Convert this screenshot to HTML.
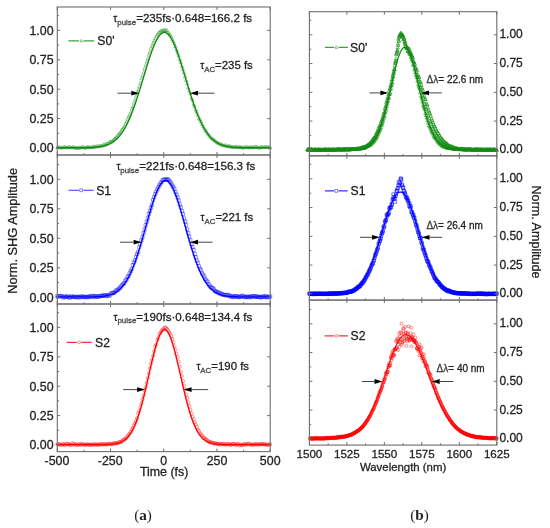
<!DOCTYPE html>
<html><head><meta charset="utf-8"><title>figure</title>
<style>html,body{margin:0;padding:0;background:#fff;width:550px;height:528px;overflow:hidden}svg{display:block;filter:blur(0.3px)}</style>
</head><body>
<svg width="550" height="528" viewBox="0 0 550 528"><rect width="550" height="528" fill="#fff"/><path d="M57.3 145.63l1.6 2.88h-3.2zM58.36 145.5l1.6 2.88h-3.2zM59.43 145.74l1.6 2.88h-3.2zM60.49 145.99l1.6 2.88h-3.2zM61.56 145.81l1.6 2.88h-3.2zM62.62 146.03l1.6 2.88h-3.2zM63.69 145.6l1.6 2.88h-3.2zM64.75 145.07l1.6 2.88h-3.2zM65.82 145.83l1.6 2.88h-3.2zM66.88 145.88l1.6 2.88h-3.2zM67.94 145.42l1.6 2.88h-3.2zM69.01 145.47l1.6 2.88h-3.2zM70.07 145.58l1.6 2.88h-3.2zM71.14 146l1.6 2.88h-3.2zM72.2 145.63l1.6 2.88h-3.2zM73.27 145.33l1.6 2.88h-3.2zM74.33 146.16l1.6 2.88h-3.2zM75.4 145.79l1.6 2.88h-3.2zM76.46 146.38l1.6 2.88h-3.2zM77.53 146.12l1.6 2.88h-3.2zM78.59 146.34l1.6 2.88h-3.2zM79.65 145.67l1.6 2.88h-3.2zM80.72 146.09l1.6 2.88h-3.2zM81.78 145.44l1.6 2.88h-3.2zM82.85 145.47l1.6 2.88h-3.2zM83.91 145.6l1.6 2.88h-3.2zM84.98 146.53l1.6 2.88h-3.2zM86.04 145.69l1.6 2.88h-3.2zM87.11 145.46l1.6 2.88h-3.2zM88.17 145.36l1.6 2.88h-3.2zM89.23 145.99l1.6 2.88h-3.2zM90.3 145.51l1.6 2.88h-3.2zM91.36 145.66l1.6 2.88h-3.2zM92.43 145.52l1.6 2.88h-3.2zM93.49 144.67l1.6 2.88h-3.2zM94.56 145.34l1.6 2.88h-3.2zM95.62 144.92l1.6 2.88h-3.2zM96.69 144.42l1.6 2.88h-3.2zM97.75 144.88l1.6 2.88h-3.2zM98.82 144.52l1.6 2.88h-3.2zM99.88 144.24l1.6 2.88h-3.2zM100.94 144.05l1.6 2.88h-3.2zM102.01 144.33l1.6 2.88h-3.2zM103.07 143.52l1.6 2.88h-3.2zM104.14 142.68l1.6 2.88h-3.2zM105.2 143.52l1.6 2.88h-3.2zM106.27 142.13l1.6 2.88h-3.2zM107.33 141.99l1.6 2.88h-3.2zM108.4 141.8l1.6 2.88h-3.2zM109.46 140.15l1.6 2.88h-3.2zM110.52 140.04l1.6 2.88h-3.2zM111.59 140.15l1.6 2.88h-3.2zM112.65 138.86l1.6 2.88h-3.2zM113.72 137.81l1.6 2.88h-3.2zM114.78 137.2l1.6 2.88h-3.2zM115.85 135.82l1.6 2.88h-3.2zM116.91 135.01l1.6 2.88h-3.2zM117.98 133.49l1.6 2.88h-3.2zM119.04 131.85l1.6 2.88h-3.2zM120.11 131.28l1.6 2.88h-3.2zM121.17 129.37l1.6 2.88h-3.2zM122.23 127.98l1.6 2.88h-3.2zM123.3 125.94l1.6 2.88h-3.2zM124.36 124.56l1.6 2.88h-3.2zM125.43 122.26l1.6 2.88h-3.2zM126.49 119.92l1.6 2.88h-3.2zM127.56 117.16l1.6 2.88h-3.2zM128.62 114.62l1.6 2.88h-3.2zM129.69 113.06l1.6 2.88h-3.2zM130.75 110.15l1.6 2.88h-3.2zM131.81 106.74l1.6 2.88h-3.2zM132.88 104.88l1.6 2.88h-3.2zM133.94 101.2l1.6 2.88h-3.2zM135.01 97.9l1.6 2.88h-3.2zM136.07 94.09l1.6 2.88h-3.2zM137.14 90.99l1.6 2.88h-3.2zM138.2 88l1.6 2.88h-3.2zM139.27 84.54l1.6 2.88h-3.2zM140.33 80.98l1.6 2.88h-3.2zM141.4 76.7l1.6 2.88h-3.2zM142.46 73.94l1.6 2.88h-3.2zM143.52 70.33l1.6 2.88h-3.2zM144.59 66.52l1.6 2.88h-3.2zM145.65 63.21l1.6 2.88h-3.2zM146.72 59.81l1.6 2.88h-3.2zM147.78 56.82l1.6 2.88h-3.2zM148.85 53.11l1.6 2.88h-3.2zM149.91 50.15l1.6 2.88h-3.2zM150.98 46.49l1.6 2.88h-3.2zM152.04 43.86l1.6 2.88h-3.2zM153.1 41.48l1.6 2.88h-3.2zM154.17 38.73l1.6 2.88h-3.2zM155.23 36.9l1.6 2.88h-3.2zM156.3 34.3l1.6 2.88h-3.2zM157.36 32.96l1.6 2.88h-3.2zM158.43 31.2l1.6 2.88h-3.2zM159.49 30.72l1.6 2.88h-3.2zM160.56 29.08l1.6 2.88h-3.2zM161.62 29.23l1.6 2.88h-3.2zM162.69 28.97l1.6 2.88h-3.2zM163.75 28.15l1.6 2.88h-3.2zM164.81 28.59l1.6 2.88h-3.2zM165.88 28.63l1.6 2.88h-3.2zM166.94 28.54l1.6 2.88h-3.2zM168.01 30.86l1.6 2.88h-3.2zM169.07 32.1l1.6 2.88h-3.2zM170.14 33.35l1.6 2.88h-3.2zM171.2 35.08l1.6 2.88h-3.2zM172.27 37.44l1.6 2.88h-3.2zM173.33 39.76l1.6 2.88h-3.2zM174.39 41.91l1.6 2.88h-3.2zM175.46 44.7l1.6 2.88h-3.2zM176.52 48.22l1.6 2.88h-3.2zM177.59 50.87l1.6 2.88h-3.2zM178.65 54l1.6 2.88h-3.2zM179.72 57.74l1.6 2.88h-3.2zM180.78 60.58l1.6 2.88h-3.2zM181.85 64.5l1.6 2.88h-3.2zM182.91 67.26l1.6 2.88h-3.2zM183.98 71.13l1.6 2.88h-3.2zM185.04 74.73l1.6 2.88h-3.2zM186.1 78.57l1.6 2.88h-3.2zM187.17 81.92l1.6 2.88h-3.2zM188.23 86.2l1.6 2.88h-3.2zM189.3 89.29l1.6 2.88h-3.2zM190.36 92.07l1.6 2.88h-3.2zM191.43 96.41l1.6 2.88h-3.2zM192.49 98.41l1.6 2.88h-3.2zM193.56 102.6l1.6 2.88h-3.2zM194.62 104.59l1.6 2.88h-3.2zM195.69 108.16l1.6 2.88h-3.2zM196.75 110.27l1.6 2.88h-3.2zM197.81 113.2l1.6 2.88h-3.2zM198.88 116.42l1.6 2.88h-3.2zM199.94 117.68l1.6 2.88h-3.2zM201.01 119.88l1.6 2.88h-3.2zM202.07 122.64l1.6 2.88h-3.2zM203.14 124.74l1.6 2.88h-3.2zM204.2 126.58l1.6 2.88h-3.2zM205.27 128.67l1.6 2.88h-3.2zM206.33 129.45l1.6 2.88h-3.2zM207.39 131.65l1.6 2.88h-3.2zM208.46 132.85l1.6 2.88h-3.2zM209.52 134.44l1.6 2.88h-3.2zM210.59 135.56l1.6 2.88h-3.2zM211.65 136.92l1.6 2.88h-3.2zM212.72 136.87l1.6 2.88h-3.2zM213.78 138.36l1.6 2.88h-3.2zM214.85 138.72l1.6 2.88h-3.2zM215.91 139.86l1.6 2.88h-3.2zM216.97 140.82l1.6 2.88h-3.2zM218.04 141.27l1.6 2.88h-3.2zM219.1 141.91l1.6 2.88h-3.2zM220.17 142.17l1.6 2.88h-3.2zM221.23 142.76l1.6 2.88h-3.2zM222.3 143.11l1.6 2.88h-3.2zM223.36 143.9l1.6 2.88h-3.2zM224.43 143.97l1.6 2.88h-3.2zM225.49 143.22l1.6 2.88h-3.2zM226.56 144.41l1.6 2.88h-3.2zM227.62 144.78l1.6 2.88h-3.2zM228.68 144.38l1.6 2.88h-3.2zM229.75 144.1l1.6 2.88h-3.2zM230.81 145.42l1.6 2.88h-3.2zM231.88 145.02l1.6 2.88h-3.2zM232.94 145.3l1.6 2.88h-3.2zM234.01 145.85l1.6 2.88h-3.2zM235.07 144.9l1.6 2.88h-3.2zM236.14 145.28l1.6 2.88h-3.2zM237.2 145.3l1.6 2.88h-3.2zM238.26 145.68l1.6 2.88h-3.2zM239.33 145.23l1.6 2.88h-3.2zM240.39 145.67l1.6 2.88h-3.2zM241.46 145.54l1.6 2.88h-3.2zM242.52 145.96l1.6 2.88h-3.2zM243.59 146.03l1.6 2.88h-3.2zM244.65 144.99l1.6 2.88h-3.2zM245.72 145.77l1.6 2.88h-3.2zM246.78 145.45l1.6 2.88h-3.2zM247.85 145.59l1.6 2.88h-3.2zM248.91 145.77l1.6 2.88h-3.2zM249.97 145.8l1.6 2.88h-3.2zM251.04 145.34l1.6 2.88h-3.2zM252.1 145.73l1.6 2.88h-3.2zM253.17 145.67l1.6 2.88h-3.2zM254.23 145.6l1.6 2.88h-3.2zM255.3 145.13l1.6 2.88h-3.2zM256.36 145.34l1.6 2.88h-3.2zM257.43 145.46l1.6 2.88h-3.2zM258.49 145.85l1.6 2.88h-3.2zM259.55 146.19l1.6 2.88h-3.2zM260.62 145.23l1.6 2.88h-3.2zM261.68 145.23l1.6 2.88h-3.2zM262.75 145.68l1.6 2.88h-3.2zM263.81 145.4l1.6 2.88h-3.2zM264.88 145.3l1.6 2.88h-3.2zM265.94 145.28l1.6 2.88h-3.2zM267.01 145.25l1.6 2.88h-3.2zM268.07 145.81l1.6 2.88h-3.2zM269.14 145l1.6 2.88h-3.2zM270.2 146.14l1.6 2.88h-3.2z" fill="none" stroke="#1a8f1a" stroke-width="0.6" opacity="0.7"/><path d="M56.3 147.65 56.66 147.65 57.02 147.65 57.38 147.65 57.74 147.65 58.09 147.65 58.45 147.65 58.81 147.65 59.17 147.65 59.53 147.65 59.89 147.65 60.25 147.65 60.61 147.65 60.96 147.65 61.32 147.65 61.68 147.65 62.04 147.65 62.4 147.65 62.76 147.65 63.12 147.65 63.48 147.65 63.83 147.65 64.19 147.65 64.55 147.65 64.91 147.65 65.27 147.65 65.63 147.65 65.99 147.65 66.35 147.65 66.7 147.64 67.06 147.64 67.42 147.64 67.78 147.64 68.14 147.64 68.5 147.64 68.86 147.64 69.22 147.64 69.57 147.64 69.93 147.64 70.29 147.64 70.65 147.64 71.01 147.64 71.37 147.64 71.73 147.64 72.09 147.64 72.44 147.64 72.8 147.64 73.16 147.64 73.52 147.64 73.88 147.64 74.24 147.64 74.6 147.63 74.96 147.63 75.31 147.63 75.67 147.63 76.03 147.63 76.39 147.63 76.75 147.63 77.11 147.63 77.47 147.63 77.83 147.62 78.18 147.62 78.54 147.62 78.9 147.62 79.26 147.62 79.62 147.61 79.98 147.61 80.34 147.61 80.7 147.61 81.05 147.6 81.41 147.6 81.77 147.6 82.13 147.59 82.49 147.59 82.85 147.59 83.21 147.58 83.57 147.58 83.92 147.57 84.28 147.57 84.64 147.56 85 147.56 85.36 147.55 85.72 147.54 86.08 147.54 86.44 147.53 86.79 147.52 87.15 147.51 87.51 147.51 87.87 147.5 88.23 147.49 88.59 147.48 88.95 147.47 89.31 147.45 89.67 147.44 90.02 147.43 90.38 147.42 90.74 147.4 91.1 147.39 91.46 147.37 91.82 147.35 92.18 147.34 92.54 147.32 92.89 147.3 93.25 147.28 93.61 147.25 93.97 147.23 94.33 147.21 94.69 147.18 95.05 147.15 95.41 147.13 95.76 147.1 96.12 147.06 96.48 147.03 96.84 147 97.2 146.96 97.56 146.92 97.92 146.88 98.28 146.84 98.63 146.79 98.99 146.75 99.35 146.7 99.71 146.64 100.07 146.59 100.43 146.53 100.79 146.47 101.15 146.41 101.5 146.35 101.86 146.28 102.22 146.21 102.58 146.13 102.94 146.06 103.3 145.97 103.66 145.89 104.02 145.8 104.37 145.71 104.73 145.61 105.09 145.51 105.45 145.41 105.81 145.3 106.17 145.18 106.53 145.06 106.89 144.94 107.24 144.81 107.6 144.67 107.96 144.53 108.32 144.39 108.68 144.24 109.04 144.08 109.4 143.91 109.76 143.74 110.11 143.57 110.47 143.38 110.83 143.19 111.19 143 111.55 142.79 111.91 142.58 112.27 142.36 112.63 142.13 112.98 141.89 113.34 141.65 113.7 141.39 114.06 141.13 114.42 140.86 114.78 140.58 115.14 140.29 115.5 139.99 115.85 139.68 116.21 139.36 116.57 139.03 116.93 138.69 117.29 138.34 117.65 137.98 118.01 137.6 118.37 137.22 118.73 136.82 119.08 136.41 119.44 135.99 119.8 135.56 120.16 135.12 120.52 134.66 120.88 134.19 121.24 133.71 121.6 133.21 121.95 132.7 122.31 132.18 122.67 131.64 123.03 131.09 123.39 130.53 123.75 129.95 124.11 129.36 124.47 128.75 124.82 128.13 125.18 127.49 125.54 126.84 125.9 126.18 126.26 125.5 126.62 124.8 126.98 124.1 127.34 123.37 127.69 122.63 128.05 121.88 128.41 121.11 128.77 120.32 129.13 119.52 129.49 118.71 129.85 117.88 130.21 117.04 130.56 116.18 130.92 115.3 131.28 114.41 131.64 113.51 132 112.6 132.36 111.66 132.72 110.72 133.08 109.76 133.43 108.79 133.79 107.8 134.15 106.8 134.51 105.79 134.87 104.77 135.23 103.73 135.59 102.68 135.95 101.63 136.3 100.55 136.66 99.47 137.02 98.38 137.38 97.28 137.74 96.17 138.1 95.05 138.46 93.92 138.82 92.78 139.17 91.63 139.53 90.48 139.89 89.32 140.25 88.15 140.61 86.98 140.97 85.8 141.33 84.62 141.69 83.44 142.04 82.25 142.4 81.06 142.76 79.87 143.12 78.67 143.48 77.48 143.84 76.29 144.2 75.09 144.56 73.9 144.91 72.71 145.27 71.53 145.63 70.34 145.99 69.17 146.35 67.99 146.71 66.83 147.07 65.67 147.43 64.52 147.78 63.37 148.14 62.24 148.5 61.11 148.86 60 149.22 58.9 149.58 57.81 149.94 56.73 150.3 55.67 150.66 54.62 151.01 53.59 151.37 52.57 151.73 51.57 152.09 50.59 152.45 49.63 152.81 48.69 153.17 47.76 153.53 46.86 153.88 45.98 154.24 45.12 154.6 44.29 154.96 43.47 155.32 42.69 155.68 41.92 156.04 41.19 156.4 40.47 156.75 39.79 157.11 39.13 157.47 38.5 157.83 37.9 158.19 37.33 158.55 36.79 158.91 36.28 159.27 35.79 159.62 35.34 159.98 34.92 160.34 34.53 160.7 34.17 161.06 33.85 161.42 33.56 161.78 33.29 162.14 33.07 162.49 32.87 162.85 32.71 163.21 32.58 163.57 32.49 163.93 32.43 164.29 32.4 164.65 32.41 165.01 32.45 165.36 32.52 165.72 32.63 166.08 32.77 166.44 32.94 166.8 33.15 167.16 33.39 167.52 33.66 167.88 33.97 168.23 34.3 168.59 34.67 168.95 35.08 169.31 35.51 169.67 35.97 170.03 36.47 170.39 36.99 170.75 37.54 171.1 38.13 171.46 38.74 171.82 39.38 172.18 40.04 172.54 40.74 172.9 41.46 173.26 42.21 173.62 42.98 173.97 43.78 174.33 44.6 174.69 45.44 175.05 46.31 175.41 47.2 175.77 48.11 176.13 49.04 176.49 49.99 176.84 50.96 177.2 51.95 177.56 52.95 177.92 53.97 178.28 55.01 178.64 56.07 179 57.13 179.36 58.22 179.72 59.31 180.07 60.42 180.43 61.53 180.79 62.66 181.15 63.8 181.51 64.95 181.87 66.1 182.23 67.27 182.59 68.43 182.94 69.61 183.3 70.79 183.66 71.97 184.02 73.16 184.38 74.35 184.74 75.54 185.1 76.74 185.46 77.93 185.81 79.12 186.17 80.32 186.53 81.51 186.89 82.7 187.25 83.89 187.61 85.07 187.97 86.25 188.33 87.42 188.68 88.59 189.04 89.76 189.4 90.91 189.76 92.06 190.12 93.21 190.48 94.34 190.84 95.47 191.2 96.59 191.55 97.69 191.91 98.79 192.27 99.88 192.63 100.96 192.99 102.03 193.35 103.08 193.71 104.12 194.07 105.16 194.42 106.18 194.78 107.18 195.14 108.18 195.5 109.16 195.86 110.12 196.22 111.08 196.58 112.02 196.94 112.94 197.29 113.85 197.65 114.75 198.01 115.63 198.37 116.5 198.73 117.35 199.09 118.19 199.45 119.02 199.81 119.83 200.16 120.62 200.52 121.4 200.88 122.16 201.24 122.91 201.6 123.65 201.96 124.36 202.32 125.07 202.68 125.76 203.03 126.43 203.39 127.09 203.75 127.74 204.11 128.37 204.47 128.98 204.83 129.58 205.19 130.17 205.55 130.74 205.9 131.3 206.26 131.85 206.62 132.38 206.98 132.9 207.34 133.4 207.7 133.89 208.06 134.37 208.42 134.83 208.77 135.29 209.13 135.73 209.49 136.15 209.85 136.57 210.21 136.97 210.57 137.37 210.93 137.75 211.29 138.12 211.65 138.47 212 138.82 212.36 139.16 212.72 139.48 213.08 139.8 213.44 140.1 213.8 140.4 214.16 140.69 214.52 140.96 214.87 141.23 215.23 141.49 215.59 141.74 215.95 141.98 216.31 142.22 216.67 142.44 217.03 142.66 217.39 142.87 217.74 143.07 218.1 143.27 218.46 143.45 218.82 143.64 219.18 143.81 219.54 143.98 219.9 144.14 220.26 144.29 220.61 144.44 220.97 144.59 221.33 144.73 221.69 144.86 222.05 144.99 222.41 145.11 222.77 145.23 223.13 145.34 223.48 145.45 223.84 145.55 224.2 145.65 224.56 145.74 224.92 145.84 225.28 145.92 225.64 146.01 226 146.09 226.35 146.16 226.71 146.24 227.07 146.31 227.43 146.37 227.79 146.44 228.15 146.5 228.51 146.56 228.87 146.61 229.22 146.66 229.58 146.72 229.94 146.76 230.3 146.81 230.66 146.85 231.02 146.89 231.38 146.93 231.74 146.97 232.09 147.01 232.45 147.04 232.81 147.08 233.17 147.11 233.53 147.14 233.89 147.16 234.25 147.19 234.61 147.22 234.96 147.24 235.32 147.26 235.68 147.28 236.04 147.3 236.4 147.32 236.76 147.34 237.12 147.36 237.48 147.38 237.83 147.39 238.19 147.41 238.55 147.42 238.91 147.43 239.27 147.45 239.63 147.46 239.99 147.47 240.35 147.48 240.71 147.49 241.06 147.5 241.42 147.51 241.78 147.52 242.14 147.53 242.5 147.53 242.86 147.54 243.22 147.55 243.58 147.55 243.93 147.56 244.29 147.56 244.65 147.57 245.01 147.57 245.37 147.58 245.73 147.58 246.09 147.59 246.45 147.59 246.8 147.59 247.16 147.6 247.52 147.6 247.88 147.6 248.24 147.61 248.6 147.61 248.96 147.61 249.32 147.61 249.67 147.62 250.03 147.62 250.39 147.62 250.75 147.62 251.11 147.62 251.47 147.63 251.83 147.63 252.19 147.63 252.54 147.63 252.9 147.63 253.26 147.63 253.62 147.63 253.98 147.63 254.34 147.64 254.7 147.64 255.06 147.64 255.41 147.64 255.77 147.64 256.13 147.64 256.49 147.64 256.85 147.64 257.21 147.64 257.57 147.64 257.93 147.64 258.28 147.64 258.64 147.64 259 147.64 259.36 147.64 259.72 147.64 260.08 147.64 260.44 147.64 260.8 147.64 261.15 147.64 261.51 147.64 261.87 147.64 262.23 147.64 262.59 147.65 262.95 147.65 263.31 147.65 263.67 147.65 264.02 147.65 264.38 147.65 264.74 147.65 265.1 147.65 265.46 147.65 265.82 147.65 266.18 147.65 266.54 147.65 266.89 147.65 267.25 147.65 267.61 147.65 267.97 147.65 268.33 147.65 268.69 147.65 269.05 147.65 269.41 147.65 269.76 147.65 270.12 147.65 270.48 147.65 270.84 147.65 271.2 147.65" fill="none" stroke="#0b8a0b" stroke-width="1.3"/><path d="M55.7 294.75h3.2v3.2h-3.2zM56.76 294.91h3.2v3.2h-3.2zM57.83 294.75h3.2v3.2h-3.2zM58.89 294.33h3.2v3.2h-3.2zM59.96 294.5h3.2v3.2h-3.2zM61.02 295.58h3.2v3.2h-3.2zM62.09 295.81h3.2v3.2h-3.2zM63.15 294.77h3.2v3.2h-3.2zM64.22 295.53h3.2v3.2h-3.2zM65.28 295.11h3.2v3.2h-3.2zM66.34 294.76h3.2v3.2h-3.2zM67.41 295.79h3.2v3.2h-3.2zM68.47 295.98h3.2v3.2h-3.2zM69.54 295h3.2v3.2h-3.2zM70.6 295.09h3.2v3.2h-3.2zM71.67 295.21h3.2v3.2h-3.2zM72.73 295.09h3.2v3.2h-3.2zM73.8 295.46h3.2v3.2h-3.2zM74.86 295.73h3.2v3.2h-3.2zM75.93 295.17h3.2v3.2h-3.2zM76.99 295.5h3.2v3.2h-3.2zM78.05 295.78h3.2v3.2h-3.2zM79.12 294.88h3.2v3.2h-3.2zM80.18 295.12h3.2v3.2h-3.2zM81.25 294.92h3.2v3.2h-3.2zM82.31 295.49h3.2v3.2h-3.2zM83.38 295.34h3.2v3.2h-3.2zM84.44 295.48h3.2v3.2h-3.2zM85.51 295.42h3.2v3.2h-3.2zM86.57 294.96h3.2v3.2h-3.2zM87.63 295.35h3.2v3.2h-3.2zM88.7 294.86h3.2v3.2h-3.2zM89.76 294.84h3.2v3.2h-3.2zM90.83 294.12h3.2v3.2h-3.2zM91.89 295.49h3.2v3.2h-3.2zM92.96 294.51h3.2v3.2h-3.2zM94.02 294.87h3.2v3.2h-3.2zM95.09 294.78h3.2v3.2h-3.2zM96.15 295.31h3.2v3.2h-3.2zM97.22 294.83h3.2v3.2h-3.2zM98.28 294.24h3.2v3.2h-3.2zM99.34 294.48h3.2v3.2h-3.2zM100.41 294.29h3.2v3.2h-3.2zM101.47 294.3h3.2v3.2h-3.2zM102.54 293.54h3.2v3.2h-3.2zM103.6 293.83h3.2v3.2h-3.2zM104.67 294.51h3.2v3.2h-3.2zM105.73 293.64h3.2v3.2h-3.2zM106.8 293.88h3.2v3.2h-3.2zM107.86 294.08h3.2v3.2h-3.2zM108.92 292.59h3.2v3.2h-3.2zM109.99 291.4h3.2v3.2h-3.2zM111.05 291.45h3.2v3.2h-3.2zM112.12 291.42h3.2v3.2h-3.2zM113.18 290.72h3.2v3.2h-3.2zM114.25 289.19h3.2v3.2h-3.2zM115.31 288.84h3.2v3.2h-3.2zM116.38 288.05h3.2v3.2h-3.2zM117.44 287.17h3.2v3.2h-3.2zM118.51 286.11h3.2v3.2h-3.2zM119.57 284.66h3.2v3.2h-3.2zM120.63 283.53h3.2v3.2h-3.2zM121.7 282.32h3.2v3.2h-3.2zM122.76 281.36h3.2v3.2h-3.2zM123.83 279.12h3.2v3.2h-3.2zM124.89 277.88h3.2v3.2h-3.2zM125.96 275.28h3.2v3.2h-3.2zM127.02 274.25h3.2v3.2h-3.2zM128.09 271.63h3.2v3.2h-3.2zM129.15 269.28h3.2v3.2h-3.2zM130.22 267.38h3.2v3.2h-3.2zM131.28 263.53h3.2v3.2h-3.2zM132.34 260.91h3.2v3.2h-3.2zM133.41 258.84h3.2v3.2h-3.2zM134.47 255.32h3.2v3.2h-3.2zM135.54 252.35h3.2v3.2h-3.2zM136.6 250.33h3.2v3.2h-3.2zM137.67 245.78h3.2v3.2h-3.2zM138.73 242.44h3.2v3.2h-3.2zM139.8 238.82h3.2v3.2h-3.2zM140.86 235.67h3.2v3.2h-3.2zM141.92 231.65h3.2v3.2h-3.2zM142.99 227.88h3.2v3.2h-3.2zM144.05 223.57h3.2v3.2h-3.2zM145.12 220.17h3.2v3.2h-3.2zM146.18 216.58h3.2v3.2h-3.2zM147.25 212.26h3.2v3.2h-3.2zM148.31 209.5h3.2v3.2h-3.2zM149.38 205.9h3.2v3.2h-3.2zM150.44 203.07h3.2v3.2h-3.2zM151.5 198.39h3.2v3.2h-3.2zM152.57 195.52h3.2v3.2h-3.2zM153.63 192.6h3.2v3.2h-3.2zM154.7 189.97h3.2v3.2h-3.2zM155.76 187.69h3.2v3.2h-3.2zM156.83 185.38h3.2v3.2h-3.2zM157.89 183.57h3.2v3.2h-3.2zM158.96 181.82h3.2v3.2h-3.2zM160.02 180.28h3.2v3.2h-3.2zM161.09 178.55h3.2v3.2h-3.2zM162.15 178.13h3.2v3.2h-3.2zM163.21 177.89h3.2v3.2h-3.2zM164.28 177.94h3.2v3.2h-3.2zM165.34 178.12h3.2v3.2h-3.2zM166.41 177.68h3.2v3.2h-3.2zM167.47 178.93h3.2v3.2h-3.2zM168.54 180.23h3.2v3.2h-3.2zM169.6 181.82h3.2v3.2h-3.2zM170.67 183.85h3.2v3.2h-3.2zM171.73 185.41h3.2v3.2h-3.2zM172.79 187.28h3.2v3.2h-3.2zM173.86 190.3h3.2v3.2h-3.2zM174.92 192.96h3.2v3.2h-3.2zM175.99 195.89h3.2v3.2h-3.2zM177.05 198.87h3.2v3.2h-3.2zM178.12 202.85h3.2v3.2h-3.2zM179.18 205.7h3.2v3.2h-3.2zM180.25 209.49h3.2v3.2h-3.2zM181.31 212.39h3.2v3.2h-3.2zM182.38 216.75h3.2v3.2h-3.2zM183.44 219.93h3.2v3.2h-3.2zM184.5 223.28h3.2v3.2h-3.2zM185.57 227.79h3.2v3.2h-3.2zM186.63 231.64h3.2v3.2h-3.2zM187.7 235h3.2v3.2h-3.2zM188.76 238.72h3.2v3.2h-3.2zM189.83 242.68h3.2v3.2h-3.2zM190.89 245.56h3.2v3.2h-3.2zM191.96 248.29h3.2v3.2h-3.2zM193.02 252.49h3.2v3.2h-3.2zM194.09 255.6h3.2v3.2h-3.2zM195.15 258.96h3.2v3.2h-3.2zM196.21 261.27h3.2v3.2h-3.2zM197.28 264.66h3.2v3.2h-3.2zM198.34 267.19h3.2v3.2h-3.2zM199.41 268.65h3.2v3.2h-3.2zM200.47 271.86h3.2v3.2h-3.2zM201.54 273.19h3.2v3.2h-3.2zM202.6 275.03h3.2v3.2h-3.2zM203.67 277.42h3.2v3.2h-3.2zM204.73 279.04h3.2v3.2h-3.2zM205.79 280.07h3.2v3.2h-3.2zM206.86 282.43h3.2v3.2h-3.2zM207.92 283.95h3.2v3.2h-3.2zM208.99 285.51h3.2v3.2h-3.2zM210.05 286.06h3.2v3.2h-3.2zM211.12 286.5h3.2v3.2h-3.2zM212.18 287.64h3.2v3.2h-3.2zM213.25 289.26h3.2v3.2h-3.2zM214.31 289.98h3.2v3.2h-3.2zM215.37 290.52h3.2v3.2h-3.2zM216.44 290.79h3.2v3.2h-3.2zM217.5 291.54h3.2v3.2h-3.2zM218.57 291.84h3.2v3.2h-3.2zM219.63 292.23h3.2v3.2h-3.2zM220.7 292.85h3.2v3.2h-3.2zM221.76 293.07h3.2v3.2h-3.2zM222.83 293.26h3.2v3.2h-3.2zM223.89 293.63h3.2v3.2h-3.2zM224.96 293.61h3.2v3.2h-3.2zM226.02 293.23h3.2v3.2h-3.2zM227.08 293.93h3.2v3.2h-3.2zM228.15 294.29h3.2v3.2h-3.2zM229.21 295.13h3.2v3.2h-3.2zM230.28 294.38h3.2v3.2h-3.2zM231.34 295.44h3.2v3.2h-3.2zM232.41 295.29h3.2v3.2h-3.2zM233.47 294.42h3.2v3.2h-3.2zM234.54 294.54h3.2v3.2h-3.2zM235.6 294.94h3.2v3.2h-3.2zM236.66 295.62h3.2v3.2h-3.2zM237.73 295.1h3.2v3.2h-3.2zM238.79 295.26h3.2v3.2h-3.2zM239.86 294.74h3.2v3.2h-3.2zM240.92 294.09h3.2v3.2h-3.2zM241.99 294.95h3.2v3.2h-3.2zM243.05 295.37h3.2v3.2h-3.2zM244.12 295.55h3.2v3.2h-3.2zM245.18 295.09h3.2v3.2h-3.2zM246.25 295.15h3.2v3.2h-3.2zM247.31 295.56h3.2v3.2h-3.2zM248.37 295.04h3.2v3.2h-3.2zM249.44 295.57h3.2v3.2h-3.2zM250.5 294.64h3.2v3.2h-3.2zM251.57 294.66h3.2v3.2h-3.2zM252.63 294.65h3.2v3.2h-3.2zM253.7 295.3h3.2v3.2h-3.2zM254.76 294.89h3.2v3.2h-3.2zM255.83 295.16h3.2v3.2h-3.2zM256.89 295.27h3.2v3.2h-3.2zM257.95 295.25h3.2v3.2h-3.2zM259.02 295.64h3.2v3.2h-3.2zM260.08 295.7h3.2v3.2h-3.2zM261.15 294.78h3.2v3.2h-3.2zM262.21 295.19h3.2v3.2h-3.2zM263.28 295.02h3.2v3.2h-3.2zM264.34 294.7h3.2v3.2h-3.2zM265.41 295.83h3.2v3.2h-3.2zM266.47 295.43h3.2v3.2h-3.2zM267.54 295.04h3.2v3.2h-3.2zM268.6 294.95h3.2v3.2h-3.2z" fill="none" stroke="#0000ff" stroke-width="0.6" opacity="0.7"/><path d="M56.3 296.95 56.66 296.95 57.02 296.95 57.38 296.95 57.74 296.95 58.09 296.95 58.45 296.95 58.81 296.95 59.17 296.95 59.53 296.95 59.89 296.95 60.25 296.95 60.61 296.95 60.96 296.95 61.32 296.95 61.68 296.95 62.04 296.95 62.4 296.95 62.76 296.95 63.12 296.95 63.48 296.95 63.83 296.95 64.19 296.95 64.55 296.95 64.91 296.95 65.27 296.95 65.63 296.95 65.99 296.95 66.35 296.95 66.7 296.95 67.06 296.95 67.42 296.95 67.78 296.95 68.14 296.95 68.5 296.95 68.86 296.95 69.22 296.95 69.57 296.95 69.93 296.95 70.29 296.95 70.65 296.94 71.01 296.94 71.37 296.94 71.73 296.94 72.09 296.94 72.44 296.94 72.8 296.94 73.16 296.94 73.52 296.94 73.88 296.94 74.24 296.94 74.6 296.94 74.96 296.94 75.31 296.94 75.67 296.94 76.03 296.94 76.39 296.94 76.75 296.94 77.11 296.94 77.47 296.94 77.83 296.94 78.18 296.94 78.54 296.94 78.9 296.94 79.26 296.94 79.62 296.94 79.98 296.94 80.34 296.94 80.7 296.94 81.05 296.93 81.41 296.93 81.77 296.93 82.13 296.93 82.49 296.93 82.85 296.93 83.21 296.93 83.57 296.93 83.92 296.92 84.28 296.92 84.64 296.92 85 296.92 85.36 296.92 85.72 296.91 86.08 296.91 86.44 296.91 86.79 296.91 87.15 296.9 87.51 296.9 87.87 296.9 88.23 296.89 88.59 296.89 88.95 296.89 89.31 296.88 89.67 296.88 90.02 296.87 90.38 296.87 90.74 296.86 91.1 296.85 91.46 296.85 91.82 296.84 92.18 296.83 92.54 296.83 92.89 296.82 93.25 296.81 93.61 296.8 93.97 296.79 94.33 296.78 94.69 296.77 95.05 296.76 95.41 296.74 95.76 296.73 96.12 296.71 96.48 296.7 96.84 296.68 97.2 296.67 97.56 296.65 97.92 296.63 98.28 296.61 98.63 296.59 98.99 296.56 99.35 296.54 99.71 296.51 100.07 296.49 100.43 296.46 100.79 296.43 101.15 296.39 101.5 296.36 101.86 296.32 102.22 296.29 102.58 296.25 102.94 296.21 103.3 296.16 103.66 296.12 104.02 296.07 104.37 296.02 104.73 295.96 105.09 295.9 105.45 295.84 105.81 295.78 106.17 295.72 106.53 295.65 106.89 295.57 107.24 295.5 107.6 295.42 107.96 295.33 108.32 295.25 108.68 295.15 109.04 295.06 109.4 294.96 109.76 294.85 110.11 294.74 110.47 294.62 110.83 294.5 111.19 294.38 111.55 294.24 111.91 294.11 112.27 293.96 112.63 293.81 112.98 293.66 113.34 293.49 113.7 293.32 114.06 293.14 114.42 292.96 114.78 292.77 115.14 292.57 115.5 292.36 115.85 292.14 116.21 291.92 116.57 291.68 116.93 291.44 117.29 291.19 117.65 290.93 118.01 290.65 118.37 290.37 118.73 290.08 119.08 289.78 119.44 289.46 119.8 289.14 120.16 288.8 120.52 288.45 120.88 288.09 121.24 287.72 121.6 287.34 121.95 286.94 122.31 286.53 122.67 286.11 123.03 285.67 123.39 285.22 123.75 284.75 124.11 284.27 124.47 283.78 124.82 283.27 125.18 282.75 125.54 282.21 125.9 281.66 126.26 281.09 126.62 280.5 126.98 279.9 127.34 279.29 127.69 278.65 128.05 278.01 128.41 277.34 128.77 276.66 129.13 275.96 129.49 275.24 129.85 274.51 130.21 273.76 130.56 272.99 130.92 272.21 131.28 271.41 131.64 270.59 132 269.75 132.36 268.9 132.72 268.03 133.08 267.14 133.43 266.23 133.79 265.31 134.15 264.37 134.51 263.42 134.87 262.45 135.23 261.46 135.59 260.45 135.95 259.43 136.3 258.4 136.66 257.35 137.02 256.28 137.38 255.2 137.74 254.1 138.1 252.99 138.46 251.87 138.82 250.73 139.17 249.58 139.53 248.42 139.89 247.24 140.25 246.05 140.61 244.85 140.97 243.65 141.33 242.43 141.69 241.2 142.04 239.96 142.4 238.72 142.76 237.47 143.12 236.21 143.48 234.94 143.84 233.67 144.2 232.4 144.56 231.12 144.91 229.84 145.27 228.55 145.63 227.27 145.99 225.98 146.35 224.69 146.71 223.41 147.07 222.12 147.43 220.84 147.78 219.57 148.14 218.3 148.5 217.03 148.86 215.77 149.22 214.52 149.58 213.27 149.94 212.04 150.3 210.82 150.66 209.6 151.01 208.4 151.37 207.22 151.73 206.04 152.09 204.88 152.45 203.74 152.81 202.62 153.17 201.51 153.53 200.43 153.88 199.36 154.24 198.31 154.6 197.29 154.96 196.29 155.32 195.31 155.68 194.35 156.04 193.43 156.4 192.52 156.75 191.65 157.11 190.8 157.47 189.98 157.83 189.19 158.19 188.44 158.55 187.71 158.91 187.01 159.27 186.35 159.62 185.72 159.98 185.12 160.34 184.56 160.7 184.03 161.06 183.53 161.42 183.07 161.78 182.65 162.14 182.27 162.49 181.92 162.85 181.61 163.21 181.33 163.57 181.1 163.93 180.9 164.29 180.74 164.65 180.62 165.01 180.53 165.36 180.49 165.72 180.48 166.08 180.51 166.44 180.59 166.8 180.7 167.16 180.84 167.52 181.03 167.88 181.25 168.23 181.52 168.59 181.82 168.95 182.15 169.31 182.53 169.67 182.94 170.03 183.39 170.39 183.87 170.75 184.39 171.1 184.94 171.46 185.53 171.82 186.15 172.18 186.8 172.54 187.49 172.9 188.2 173.26 188.95 173.62 189.73 173.97 190.54 174.33 191.38 174.69 192.25 175.05 193.14 175.41 194.06 175.77 195.01 176.13 195.98 176.49 196.97 176.84 197.99 177.2 199.03 177.56 200.09 177.92 201.17 178.28 202.27 178.64 203.39 179 204.53 179.36 205.68 179.72 206.85 180.07 208.03 180.43 209.23 180.79 210.43 181.15 211.66 181.51 212.89 181.87 214.13 182.23 215.38 182.59 216.63 182.94 217.9 183.3 219.17 183.66 220.44 184.02 221.72 184.38 223.01 184.74 224.29 185.1 225.58 185.46 226.86 185.81 228.15 186.17 229.43 186.53 230.72 186.89 232 187.25 233.27 187.61 234.54 187.97 235.81 188.33 237.07 188.68 238.33 189.04 239.57 189.4 240.81 189.76 242.04 190.12 243.27 190.48 244.48 190.84 245.68 191.2 246.87 191.55 248.05 191.91 249.22 192.27 250.37 192.63 251.51 192.99 252.64 193.35 253.76 193.71 254.86 194.07 255.94 194.42 257.01 194.78 258.07 195.14 259.11 195.5 260.14 195.86 261.15 196.22 262.14 196.58 263.12 196.94 264.08 197.29 265.02 197.65 265.95 198.01 266.86 198.37 267.75 198.73 268.63 199.09 269.49 199.45 270.33 199.81 271.15 200.16 271.96 200.52 272.75 200.88 273.52 201.24 274.28 201.6 275.01 201.96 275.74 202.32 276.44 202.68 277.13 203.03 277.8 203.39 278.45 203.75 279.09 204.11 279.71 204.47 280.32 204.83 280.91 205.19 281.48 205.55 282.04 205.9 282.58 206.26 283.11 206.62 283.62 206.98 284.12 207.34 284.6 207.7 285.07 208.06 285.53 208.42 285.97 208.77 286.4 209.13 286.81 209.49 287.21 209.85 287.6 210.21 287.98 210.57 288.34 210.93 288.69 211.29 289.03 211.65 289.36 212 289.68 212.36 289.99 212.72 290.28 213.08 290.57 213.44 290.84 213.8 291.11 214.16 291.36 214.52 291.61 214.87 291.84 215.23 292.07 215.59 292.29 215.95 292.5 216.31 292.71 216.67 292.9 217.03 293.09 217.39 293.27 217.74 293.44 218.1 293.61 218.46 293.76 218.82 293.92 219.18 294.06 219.54 294.2 219.9 294.34 220.26 294.46 220.61 294.59 220.97 294.7 221.33 294.82 221.69 294.92 222.05 295.03 222.41 295.12 222.77 295.22 223.13 295.31 223.48 295.39 223.84 295.47 224.2 295.55 224.56 295.62 224.92 295.69 225.28 295.76 225.64 295.83 226 295.89 226.35 295.94 226.71 296 227.07 296.05 227.43 296.1 227.79 296.15 228.15 296.19 228.51 296.23 228.87 296.28 229.22 296.31 229.58 296.35 229.94 296.38 230.3 296.42 230.66 296.45 231.02 296.48 231.38 296.5 231.74 296.53 232.09 296.55 232.45 296.58 232.81 296.6 233.17 296.62 233.53 296.64 233.89 296.66 234.25 296.68 234.61 296.69 234.96 296.71 235.32 296.72 235.68 296.74 236.04 296.75 236.4 296.76 236.76 296.77 237.12 296.79 237.48 296.8 237.83 296.81 238.19 296.81 238.55 296.82 238.91 296.83 239.27 296.84 239.63 296.85 239.99 296.85 240.35 296.86 240.71 296.86 241.06 296.87 241.42 296.88 241.78 296.88 242.14 296.88 242.5 296.89 242.86 296.89 243.22 296.9 243.58 296.9 243.93 296.9 244.29 296.91 244.65 296.91 245.01 296.91 245.37 296.91 245.73 296.92 246.09 296.92 246.45 296.92 246.8 296.92 247.16 296.92 247.52 296.93 247.88 296.93 248.24 296.93 248.6 296.93 248.96 296.93 249.32 296.93 249.67 296.93 250.03 296.93 250.39 296.93 250.75 296.94 251.11 296.94 251.47 296.94 251.83 296.94 252.19 296.94 252.54 296.94 252.9 296.94 253.26 296.94 253.62 296.94 253.98 296.94 254.34 296.94 254.7 296.94 255.06 296.94 255.41 296.94 255.77 296.94 256.13 296.94 256.49 296.94 256.85 296.94 257.21 296.94 257.57 296.94 257.93 296.94 258.28 296.94 258.64 296.94 259 296.94 259.36 296.94 259.72 296.94 260.08 296.94 260.44 296.94 260.8 296.95 261.15 296.95 261.51 296.95 261.87 296.95 262.23 296.95 262.59 296.95 262.95 296.95 263.31 296.95 263.67 296.95 264.02 296.95 264.38 296.95 264.74 296.95 265.1 296.95 265.46 296.95 265.82 296.95 266.18 296.95 266.54 296.95 266.89 296.95 267.25 296.95 267.61 296.95 267.97 296.95 268.33 296.95 268.69 296.95 269.05 296.95 269.41 296.95 269.76 296.95 270.12 296.95 270.48 296.95 270.84 296.95 271.2 296.95" fill="none" stroke="#0000ff" stroke-width="1.3"/><path d="M55.7 444.57a1.6 1.6 0 1 0 3.2 0a1.6 1.6 0 1 0 -3.2 0M56.76 443.99a1.6 1.6 0 1 0 3.2 0a1.6 1.6 0 1 0 -3.2 0M57.83 444.33a1.6 1.6 0 1 0 3.2 0a1.6 1.6 0 1 0 -3.2 0M58.89 444.91a1.6 1.6 0 1 0 3.2 0a1.6 1.6 0 1 0 -3.2 0M59.96 444.8a1.6 1.6 0 1 0 3.2 0a1.6 1.6 0 1 0 -3.2 0M61.02 444.08a1.6 1.6 0 1 0 3.2 0a1.6 1.6 0 1 0 -3.2 0M62.09 444.22a1.6 1.6 0 1 0 3.2 0a1.6 1.6 0 1 0 -3.2 0M63.15 445.19a1.6 1.6 0 1 0 3.2 0a1.6 1.6 0 1 0 -3.2 0M64.22 443.86a1.6 1.6 0 1 0 3.2 0a1.6 1.6 0 1 0 -3.2 0M65.28 444.17a1.6 1.6 0 1 0 3.2 0a1.6 1.6 0 1 0 -3.2 0M66.34 443.86a1.6 1.6 0 1 0 3.2 0a1.6 1.6 0 1 0 -3.2 0M67.41 444.57a1.6 1.6 0 1 0 3.2 0a1.6 1.6 0 1 0 -3.2 0M68.47 444.53a1.6 1.6 0 1 0 3.2 0a1.6 1.6 0 1 0 -3.2 0M69.54 444.88a1.6 1.6 0 1 0 3.2 0a1.6 1.6 0 1 0 -3.2 0M70.6 443.37a1.6 1.6 0 1 0 3.2 0a1.6 1.6 0 1 0 -3.2 0M71.67 444.48a1.6 1.6 0 1 0 3.2 0a1.6 1.6 0 1 0 -3.2 0M72.73 443.76a1.6 1.6 0 1 0 3.2 0a1.6 1.6 0 1 0 -3.2 0M73.8 444.68a1.6 1.6 0 1 0 3.2 0a1.6 1.6 0 1 0 -3.2 0M74.86 444.34a1.6 1.6 0 1 0 3.2 0a1.6 1.6 0 1 0 -3.2 0M75.93 445.1a1.6 1.6 0 1 0 3.2 0a1.6 1.6 0 1 0 -3.2 0M76.99 444.57a1.6 1.6 0 1 0 3.2 0a1.6 1.6 0 1 0 -3.2 0M78.05 444.01a1.6 1.6 0 1 0 3.2 0a1.6 1.6 0 1 0 -3.2 0M79.12 444.93a1.6 1.6 0 1 0 3.2 0a1.6 1.6 0 1 0 -3.2 0M80.18 443.97a1.6 1.6 0 1 0 3.2 0a1.6 1.6 0 1 0 -3.2 0M81.25 444.27a1.6 1.6 0 1 0 3.2 0a1.6 1.6 0 1 0 -3.2 0M82.31 444.84a1.6 1.6 0 1 0 3.2 0a1.6 1.6 0 1 0 -3.2 0M83.38 444.62a1.6 1.6 0 1 0 3.2 0a1.6 1.6 0 1 0 -3.2 0M84.44 444.6a1.6 1.6 0 1 0 3.2 0a1.6 1.6 0 1 0 -3.2 0M85.51 444.43a1.6 1.6 0 1 0 3.2 0a1.6 1.6 0 1 0 -3.2 0M86.57 444.63a1.6 1.6 0 1 0 3.2 0a1.6 1.6 0 1 0 -3.2 0M87.63 444.75a1.6 1.6 0 1 0 3.2 0a1.6 1.6 0 1 0 -3.2 0M88.7 444.53a1.6 1.6 0 1 0 3.2 0a1.6 1.6 0 1 0 -3.2 0M89.76 444.83a1.6 1.6 0 1 0 3.2 0a1.6 1.6 0 1 0 -3.2 0M90.83 444.94a1.6 1.6 0 1 0 3.2 0a1.6 1.6 0 1 0 -3.2 0M91.89 444.42a1.6 1.6 0 1 0 3.2 0a1.6 1.6 0 1 0 -3.2 0M92.96 444.04a1.6 1.6 0 1 0 3.2 0a1.6 1.6 0 1 0 -3.2 0M94.02 445.03a1.6 1.6 0 1 0 3.2 0a1.6 1.6 0 1 0 -3.2 0M95.09 444.39a1.6 1.6 0 1 0 3.2 0a1.6 1.6 0 1 0 -3.2 0M96.15 444.66a1.6 1.6 0 1 0 3.2 0a1.6 1.6 0 1 0 -3.2 0M97.22 444.78a1.6 1.6 0 1 0 3.2 0a1.6 1.6 0 1 0 -3.2 0M98.28 444.02a1.6 1.6 0 1 0 3.2 0a1.6 1.6 0 1 0 -3.2 0M99.34 444.57a1.6 1.6 0 1 0 3.2 0a1.6 1.6 0 1 0 -3.2 0M100.41 443.73a1.6 1.6 0 1 0 3.2 0a1.6 1.6 0 1 0 -3.2 0M101.47 444.65a1.6 1.6 0 1 0 3.2 0a1.6 1.6 0 1 0 -3.2 0M102.54 444.14a1.6 1.6 0 1 0 3.2 0a1.6 1.6 0 1 0 -3.2 0M103.6 444.37a1.6 1.6 0 1 0 3.2 0a1.6 1.6 0 1 0 -3.2 0M104.67 444.55a1.6 1.6 0 1 0 3.2 0a1.6 1.6 0 1 0 -3.2 0M105.73 443.95a1.6 1.6 0 1 0 3.2 0a1.6 1.6 0 1 0 -3.2 0M106.8 444.2a1.6 1.6 0 1 0 3.2 0a1.6 1.6 0 1 0 -3.2 0M107.86 443.81a1.6 1.6 0 1 0 3.2 0a1.6 1.6 0 1 0 -3.2 0M108.92 443.99a1.6 1.6 0 1 0 3.2 0a1.6 1.6 0 1 0 -3.2 0M109.99 444.32a1.6 1.6 0 1 0 3.2 0a1.6 1.6 0 1 0 -3.2 0M111.05 443.78a1.6 1.6 0 1 0 3.2 0a1.6 1.6 0 1 0 -3.2 0M112.12 443.57a1.6 1.6 0 1 0 3.2 0a1.6 1.6 0 1 0 -3.2 0M113.18 443.01a1.6 1.6 0 1 0 3.2 0a1.6 1.6 0 1 0 -3.2 0M114.25 443.55a1.6 1.6 0 1 0 3.2 0a1.6 1.6 0 1 0 -3.2 0M115.31 442.93a1.6 1.6 0 1 0 3.2 0a1.6 1.6 0 1 0 -3.2 0M116.38 443.31a1.6 1.6 0 1 0 3.2 0a1.6 1.6 0 1 0 -3.2 0M117.44 441.96a1.6 1.6 0 1 0 3.2 0a1.6 1.6 0 1 0 -3.2 0M118.51 442.23a1.6 1.6 0 1 0 3.2 0a1.6 1.6 0 1 0 -3.2 0M119.57 442.02a1.6 1.6 0 1 0 3.2 0a1.6 1.6 0 1 0 -3.2 0M120.63 440.71a1.6 1.6 0 1 0 3.2 0a1.6 1.6 0 1 0 -3.2 0M121.7 439.54a1.6 1.6 0 1 0 3.2 0a1.6 1.6 0 1 0 -3.2 0M122.76 439.83a1.6 1.6 0 1 0 3.2 0a1.6 1.6 0 1 0 -3.2 0M123.83 438.75a1.6 1.6 0 1 0 3.2 0a1.6 1.6 0 1 0 -3.2 0M124.89 437.57a1.6 1.6 0 1 0 3.2 0a1.6 1.6 0 1 0 -3.2 0M125.96 436.56a1.6 1.6 0 1 0 3.2 0a1.6 1.6 0 1 0 -3.2 0M127.02 434.61a1.6 1.6 0 1 0 3.2 0a1.6 1.6 0 1 0 -3.2 0M128.09 433.61a1.6 1.6 0 1 0 3.2 0a1.6 1.6 0 1 0 -3.2 0M129.15 431.91a1.6 1.6 0 1 0 3.2 0a1.6 1.6 0 1 0 -3.2 0M130.22 429.52a1.6 1.6 0 1 0 3.2 0a1.6 1.6 0 1 0 -3.2 0M131.28 428.02a1.6 1.6 0 1 0 3.2 0a1.6 1.6 0 1 0 -3.2 0M132.34 425.28a1.6 1.6 0 1 0 3.2 0a1.6 1.6 0 1 0 -3.2 0M133.41 423.39a1.6 1.6 0 1 0 3.2 0a1.6 1.6 0 1 0 -3.2 0M134.47 420.8a1.6 1.6 0 1 0 3.2 0a1.6 1.6 0 1 0 -3.2 0M135.54 418.16a1.6 1.6 0 1 0 3.2 0a1.6 1.6 0 1 0 -3.2 0M136.6 413.51a1.6 1.6 0 1 0 3.2 0a1.6 1.6 0 1 0 -3.2 0M137.67 411.06a1.6 1.6 0 1 0 3.2 0a1.6 1.6 0 1 0 -3.2 0M138.73 407.27a1.6 1.6 0 1 0 3.2 0a1.6 1.6 0 1 0 -3.2 0M139.8 403.62a1.6 1.6 0 1 0 3.2 0a1.6 1.6 0 1 0 -3.2 0M140.86 399.59a1.6 1.6 0 1 0 3.2 0a1.6 1.6 0 1 0 -3.2 0M141.92 395.51a1.6 1.6 0 1 0 3.2 0a1.6 1.6 0 1 0 -3.2 0M142.99 390.47a1.6 1.6 0 1 0 3.2 0a1.6 1.6 0 1 0 -3.2 0M144.05 387.28a1.6 1.6 0 1 0 3.2 0a1.6 1.6 0 1 0 -3.2 0M145.12 382.98a1.6 1.6 0 1 0 3.2 0a1.6 1.6 0 1 0 -3.2 0M146.18 378.18a1.6 1.6 0 1 0 3.2 0a1.6 1.6 0 1 0 -3.2 0M147.25 373.71a1.6 1.6 0 1 0 3.2 0a1.6 1.6 0 1 0 -3.2 0M148.31 368.25a1.6 1.6 0 1 0 3.2 0a1.6 1.6 0 1 0 -3.2 0M149.38 363.67a1.6 1.6 0 1 0 3.2 0a1.6 1.6 0 1 0 -3.2 0M150.44 359.93a1.6 1.6 0 1 0 3.2 0a1.6 1.6 0 1 0 -3.2 0M151.5 355.78a1.6 1.6 0 1 0 3.2 0a1.6 1.6 0 1 0 -3.2 0M152.57 351.2a1.6 1.6 0 1 0 3.2 0a1.6 1.6 0 1 0 -3.2 0M153.63 346.54a1.6 1.6 0 1 0 3.2 0a1.6 1.6 0 1 0 -3.2 0M154.7 344.61a1.6 1.6 0 1 0 3.2 0a1.6 1.6 0 1 0 -3.2 0M155.76 339.87a1.6 1.6 0 1 0 3.2 0a1.6 1.6 0 1 0 -3.2 0M156.83 337.52a1.6 1.6 0 1 0 3.2 0a1.6 1.6 0 1 0 -3.2 0M157.89 334.02a1.6 1.6 0 1 0 3.2 0a1.6 1.6 0 1 0 -3.2 0M158.96 332.68a1.6 1.6 0 1 0 3.2 0a1.6 1.6 0 1 0 -3.2 0M160.02 330.58a1.6 1.6 0 1 0 3.2 0a1.6 1.6 0 1 0 -3.2 0M161.09 329.78a1.6 1.6 0 1 0 3.2 0a1.6 1.6 0 1 0 -3.2 0M162.15 328.73a1.6 1.6 0 1 0 3.2 0a1.6 1.6 0 1 0 -3.2 0M163.21 327.43a1.6 1.6 0 1 0 3.2 0a1.6 1.6 0 1 0 -3.2 0M164.28 327.82a1.6 1.6 0 1 0 3.2 0a1.6 1.6 0 1 0 -3.2 0M165.34 328.98a1.6 1.6 0 1 0 3.2 0a1.6 1.6 0 1 0 -3.2 0M166.41 330.31a1.6 1.6 0 1 0 3.2 0a1.6 1.6 0 1 0 -3.2 0M167.47 332.35a1.6 1.6 0 1 0 3.2 0a1.6 1.6 0 1 0 -3.2 0M168.54 333.79a1.6 1.6 0 1 0 3.2 0a1.6 1.6 0 1 0 -3.2 0M169.6 336.13a1.6 1.6 0 1 0 3.2 0a1.6 1.6 0 1 0 -3.2 0M170.67 339.03a1.6 1.6 0 1 0 3.2 0a1.6 1.6 0 1 0 -3.2 0M171.73 342.28a1.6 1.6 0 1 0 3.2 0a1.6 1.6 0 1 0 -3.2 0M172.79 346.27a1.6 1.6 0 1 0 3.2 0a1.6 1.6 0 1 0 -3.2 0M173.86 349.68a1.6 1.6 0 1 0 3.2 0a1.6 1.6 0 1 0 -3.2 0M174.92 353.75a1.6 1.6 0 1 0 3.2 0a1.6 1.6 0 1 0 -3.2 0M175.99 357.48a1.6 1.6 0 1 0 3.2 0a1.6 1.6 0 1 0 -3.2 0M177.05 361.67a1.6 1.6 0 1 0 3.2 0a1.6 1.6 0 1 0 -3.2 0M178.12 367.02a1.6 1.6 0 1 0 3.2 0a1.6 1.6 0 1 0 -3.2 0M179.18 371.87a1.6 1.6 0 1 0 3.2 0a1.6 1.6 0 1 0 -3.2 0M180.25 376.19a1.6 1.6 0 1 0 3.2 0a1.6 1.6 0 1 0 -3.2 0M181.31 381a1.6 1.6 0 1 0 3.2 0a1.6 1.6 0 1 0 -3.2 0M182.38 385.59a1.6 1.6 0 1 0 3.2 0a1.6 1.6 0 1 0 -3.2 0M183.44 389.76a1.6 1.6 0 1 0 3.2 0a1.6 1.6 0 1 0 -3.2 0M184.5 394.49a1.6 1.6 0 1 0 3.2 0a1.6 1.6 0 1 0 -3.2 0M185.57 397.99a1.6 1.6 0 1 0 3.2 0a1.6 1.6 0 1 0 -3.2 0M186.63 402.3a1.6 1.6 0 1 0 3.2 0a1.6 1.6 0 1 0 -3.2 0M187.7 405.98a1.6 1.6 0 1 0 3.2 0a1.6 1.6 0 1 0 -3.2 0M188.76 409.79a1.6 1.6 0 1 0 3.2 0a1.6 1.6 0 1 0 -3.2 0M189.83 413.43a1.6 1.6 0 1 0 3.2 0a1.6 1.6 0 1 0 -3.2 0M190.89 416.73a1.6 1.6 0 1 0 3.2 0a1.6 1.6 0 1 0 -3.2 0M191.96 419.41a1.6 1.6 0 1 0 3.2 0a1.6 1.6 0 1 0 -3.2 0M193.02 422.3a1.6 1.6 0 1 0 3.2 0a1.6 1.6 0 1 0 -3.2 0M194.09 424.52a1.6 1.6 0 1 0 3.2 0a1.6 1.6 0 1 0 -3.2 0M195.15 426.95a1.6 1.6 0 1 0 3.2 0a1.6 1.6 0 1 0 -3.2 0M196.21 429.63a1.6 1.6 0 1 0 3.2 0a1.6 1.6 0 1 0 -3.2 0M197.28 430.96a1.6 1.6 0 1 0 3.2 0a1.6 1.6 0 1 0 -3.2 0M198.34 433.27a1.6 1.6 0 1 0 3.2 0a1.6 1.6 0 1 0 -3.2 0M199.41 434.52a1.6 1.6 0 1 0 3.2 0a1.6 1.6 0 1 0 -3.2 0M200.47 435.77a1.6 1.6 0 1 0 3.2 0a1.6 1.6 0 1 0 -3.2 0M201.54 437.73a1.6 1.6 0 1 0 3.2 0a1.6 1.6 0 1 0 -3.2 0M202.6 437.92a1.6 1.6 0 1 0 3.2 0a1.6 1.6 0 1 0 -3.2 0M203.67 438.84a1.6 1.6 0 1 0 3.2 0a1.6 1.6 0 1 0 -3.2 0M204.73 439.8a1.6 1.6 0 1 0 3.2 0a1.6 1.6 0 1 0 -3.2 0M205.79 440.63a1.6 1.6 0 1 0 3.2 0a1.6 1.6 0 1 0 -3.2 0M206.86 441.24a1.6 1.6 0 1 0 3.2 0a1.6 1.6 0 1 0 -3.2 0M207.92 442.02a1.6 1.6 0 1 0 3.2 0a1.6 1.6 0 1 0 -3.2 0M208.99 442.19a1.6 1.6 0 1 0 3.2 0a1.6 1.6 0 1 0 -3.2 0M210.05 442.7a1.6 1.6 0 1 0 3.2 0a1.6 1.6 0 1 0 -3.2 0M211.12 442.77a1.6 1.6 0 1 0 3.2 0a1.6 1.6 0 1 0 -3.2 0M212.18 443.59a1.6 1.6 0 1 0 3.2 0a1.6 1.6 0 1 0 -3.2 0M213.25 443.23a1.6 1.6 0 1 0 3.2 0a1.6 1.6 0 1 0 -3.2 0M214.31 443.47a1.6 1.6 0 1 0 3.2 0a1.6 1.6 0 1 0 -3.2 0M215.37 443.75a1.6 1.6 0 1 0 3.2 0a1.6 1.6 0 1 0 -3.2 0M216.44 444.01a1.6 1.6 0 1 0 3.2 0a1.6 1.6 0 1 0 -3.2 0M217.5 443.71a1.6 1.6 0 1 0 3.2 0a1.6 1.6 0 1 0 -3.2 0M218.57 444.72a1.6 1.6 0 1 0 3.2 0a1.6 1.6 0 1 0 -3.2 0M219.63 443.92a1.6 1.6 0 1 0 3.2 0a1.6 1.6 0 1 0 -3.2 0M220.7 444.07a1.6 1.6 0 1 0 3.2 0a1.6 1.6 0 1 0 -3.2 0M221.76 444.1a1.6 1.6 0 1 0 3.2 0a1.6 1.6 0 1 0 -3.2 0M222.83 444.1a1.6 1.6 0 1 0 3.2 0a1.6 1.6 0 1 0 -3.2 0M223.89 444.56a1.6 1.6 0 1 0 3.2 0a1.6 1.6 0 1 0 -3.2 0M224.96 444.43a1.6 1.6 0 1 0 3.2 0a1.6 1.6 0 1 0 -3.2 0M226.02 444.08a1.6 1.6 0 1 0 3.2 0a1.6 1.6 0 1 0 -3.2 0M227.08 444.18a1.6 1.6 0 1 0 3.2 0a1.6 1.6 0 1 0 -3.2 0M228.15 444.28a1.6 1.6 0 1 0 3.2 0a1.6 1.6 0 1 0 -3.2 0M229.21 445a1.6 1.6 0 1 0 3.2 0a1.6 1.6 0 1 0 -3.2 0M230.28 444.16a1.6 1.6 0 1 0 3.2 0a1.6 1.6 0 1 0 -3.2 0M231.34 443.91a1.6 1.6 0 1 0 3.2 0a1.6 1.6 0 1 0 -3.2 0M232.41 443.98a1.6 1.6 0 1 0 3.2 0a1.6 1.6 0 1 0 -3.2 0M233.47 444.3a1.6 1.6 0 1 0 3.2 0a1.6 1.6 0 1 0 -3.2 0M234.54 445.04a1.6 1.6 0 1 0 3.2 0a1.6 1.6 0 1 0 -3.2 0M235.6 444.02a1.6 1.6 0 1 0 3.2 0a1.6 1.6 0 1 0 -3.2 0M236.66 444.47a1.6 1.6 0 1 0 3.2 0a1.6 1.6 0 1 0 -3.2 0M237.73 445.45a1.6 1.6 0 1 0 3.2 0a1.6 1.6 0 1 0 -3.2 0M238.79 444.25a1.6 1.6 0 1 0 3.2 0a1.6 1.6 0 1 0 -3.2 0M239.86 445.02a1.6 1.6 0 1 0 3.2 0a1.6 1.6 0 1 0 -3.2 0M240.92 444.94a1.6 1.6 0 1 0 3.2 0a1.6 1.6 0 1 0 -3.2 0M241.99 444.67a1.6 1.6 0 1 0 3.2 0a1.6 1.6 0 1 0 -3.2 0M243.05 443.89a1.6 1.6 0 1 0 3.2 0a1.6 1.6 0 1 0 -3.2 0M244.12 444.56a1.6 1.6 0 1 0 3.2 0a1.6 1.6 0 1 0 -3.2 0M245.18 444.3a1.6 1.6 0 1 0 3.2 0a1.6 1.6 0 1 0 -3.2 0M246.25 443.69a1.6 1.6 0 1 0 3.2 0a1.6 1.6 0 1 0 -3.2 0M247.31 443.76a1.6 1.6 0 1 0 3.2 0a1.6 1.6 0 1 0 -3.2 0M248.37 444.45a1.6 1.6 0 1 0 3.2 0a1.6 1.6 0 1 0 -3.2 0M249.44 444.51a1.6 1.6 0 1 0 3.2 0a1.6 1.6 0 1 0 -3.2 0M250.5 444.93a1.6 1.6 0 1 0 3.2 0a1.6 1.6 0 1 0 -3.2 0M251.57 444.7a1.6 1.6 0 1 0 3.2 0a1.6 1.6 0 1 0 -3.2 0M252.63 444.24a1.6 1.6 0 1 0 3.2 0a1.6 1.6 0 1 0 -3.2 0M253.7 444.25a1.6 1.6 0 1 0 3.2 0a1.6 1.6 0 1 0 -3.2 0M254.76 444.37a1.6 1.6 0 1 0 3.2 0a1.6 1.6 0 1 0 -3.2 0M255.83 444a1.6 1.6 0 1 0 3.2 0a1.6 1.6 0 1 0 -3.2 0M256.89 444.73a1.6 1.6 0 1 0 3.2 0a1.6 1.6 0 1 0 -3.2 0M257.95 444.44a1.6 1.6 0 1 0 3.2 0a1.6 1.6 0 1 0 -3.2 0M259.02 444.11a1.6 1.6 0 1 0 3.2 0a1.6 1.6 0 1 0 -3.2 0M260.08 444.17a1.6 1.6 0 1 0 3.2 0a1.6 1.6 0 1 0 -3.2 0M261.15 443.97a1.6 1.6 0 1 0 3.2 0a1.6 1.6 0 1 0 -3.2 0M262.21 444.25a1.6 1.6 0 1 0 3.2 0a1.6 1.6 0 1 0 -3.2 0M263.28 444.54a1.6 1.6 0 1 0 3.2 0a1.6 1.6 0 1 0 -3.2 0M264.34 444.26a1.6 1.6 0 1 0 3.2 0a1.6 1.6 0 1 0 -3.2 0M265.41 444.82a1.6 1.6 0 1 0 3.2 0a1.6 1.6 0 1 0 -3.2 0M266.47 445.09a1.6 1.6 0 1 0 3.2 0a1.6 1.6 0 1 0 -3.2 0M267.54 444.17a1.6 1.6 0 1 0 3.2 0a1.6 1.6 0 1 0 -3.2 0M268.6 444.43a1.6 1.6 0 1 0 3.2 0a1.6 1.6 0 1 0 -3.2 0" fill="none" stroke="#ff0000" stroke-width="0.6" opacity="0.7"/><path d="M56.3 444.65 56.66 444.65 57.02 444.65 57.38 444.65 57.74 444.65 58.09 444.65 58.45 444.65 58.81 444.65 59.17 444.65 59.53 444.65 59.89 444.65 60.25 444.65 60.61 444.65 60.96 444.65 61.32 444.65 61.68 444.65 62.04 444.65 62.4 444.65 62.76 444.65 63.12 444.65 63.48 444.65 63.83 444.65 64.19 444.65 64.55 444.65 64.91 444.65 65.27 444.65 65.63 444.65 65.99 444.65 66.35 444.65 66.7 444.65 67.06 444.65 67.42 444.65 67.78 444.65 68.14 444.65 68.5 444.65 68.86 444.65 69.22 444.65 69.57 444.65 69.93 444.65 70.29 444.65 70.65 444.65 71.01 444.65 71.37 444.65 71.73 444.65 72.09 444.65 72.44 444.65 72.8 444.65 73.16 444.65 73.52 444.65 73.88 444.65 74.24 444.65 74.6 444.65 74.96 444.65 75.31 444.65 75.67 444.65 76.03 444.65 76.39 444.65 76.75 444.65 77.11 444.65 77.47 444.65 77.83 444.65 78.18 444.65 78.54 444.65 78.9 444.65 79.26 444.65 79.62 444.65 79.98 444.65 80.34 444.65 80.7 444.65 81.05 444.65 81.41 444.65 81.77 444.65 82.13 444.65 82.49 444.65 82.85 444.65 83.21 444.65 83.57 444.65 83.92 444.65 84.28 444.65 84.64 444.65 85 444.65 85.36 444.65 85.72 444.65 86.08 444.65 86.44 444.65 86.79 444.65 87.15 444.65 87.51 444.65 87.87 444.65 88.23 444.65 88.59 444.65 88.95 444.65 89.31 444.65 89.67 444.65 90.02 444.65 90.38 444.65 90.74 444.65 91.1 444.64 91.46 444.64 91.82 444.64 92.18 444.64 92.54 444.64 92.89 444.64 93.25 444.64 93.61 444.64 93.97 444.64 94.33 444.64 94.69 444.64 95.05 444.64 95.41 444.64 95.76 444.64 96.12 444.64 96.48 444.64 96.84 444.64 97.2 444.63 97.56 444.63 97.92 444.63 98.28 444.63 98.63 444.63 98.99 444.63 99.35 444.62 99.71 444.62 100.07 444.62 100.43 444.62 100.79 444.61 101.15 444.61 101.5 444.61 101.86 444.6 102.22 444.6 102.58 444.6 102.94 444.59 103.3 444.59 103.66 444.58 104.02 444.57 104.37 444.57 104.73 444.56 105.09 444.55 105.45 444.54 105.81 444.53 106.17 444.52 106.53 444.51 106.89 444.5 107.24 444.49 107.6 444.48 107.96 444.46 108.32 444.45 108.68 444.43 109.04 444.41 109.4 444.39 109.76 444.37 110.11 444.35 110.47 444.32 110.83 444.3 111.19 444.27 111.55 444.24 111.91 444.21 112.27 444.17 112.63 444.13 112.98 444.09 113.34 444.05 113.7 444.01 114.06 443.96 114.42 443.91 114.78 443.85 115.14 443.79 115.5 443.73 115.85 443.66 116.21 443.59 116.57 443.52 116.93 443.43 117.29 443.35 117.65 443.26 118.01 443.16 118.37 443.06 118.73 442.95 119.08 442.83 119.44 442.71 119.8 442.58 120.16 442.45 120.52 442.3 120.88 442.15 121.24 441.99 121.6 441.82 121.95 441.64 122.31 441.45 122.67 441.25 123.03 441.04 123.39 440.82 123.75 440.59 124.11 440.34 124.47 440.09 124.82 439.82 125.18 439.53 125.54 439.24 125.9 438.92 126.26 438.6 126.62 438.26 126.98 437.9 127.34 437.53 127.69 437.14 128.05 436.73 128.41 436.31 128.77 435.86 129.13 435.4 129.49 434.92 129.85 434.42 130.21 433.9 130.56 433.36 130.92 432.8 131.28 432.21 131.64 431.6 132 430.98 132.36 430.32 132.72 429.65 133.08 428.95 133.43 428.23 133.79 427.48 134.15 426.7 134.51 425.91 134.87 425.08 135.23 424.24 135.59 423.36 135.95 422.46 136.3 421.53 136.66 420.58 137.02 419.6 137.38 418.59 137.74 417.56 138.1 416.5 138.46 415.42 138.82 414.31 139.17 413.17 139.53 412.01 139.89 410.82 140.25 409.6 140.61 408.37 140.97 407.1 141.33 405.82 141.69 404.51 142.04 403.17 142.4 401.82 142.76 400.44 143.12 399.04 143.48 397.63 143.84 396.19 144.2 394.73 144.56 393.26 144.91 391.77 145.27 390.27 145.63 388.75 145.99 387.22 146.35 385.68 146.71 384.13 147.07 382.57 147.43 381 147.78 379.43 148.14 377.85 148.5 376.27 148.86 374.69 149.22 373.11 149.58 371.53 149.94 369.95 150.3 368.38 150.66 366.82 151.01 365.26 151.37 363.72 151.73 362.18 152.09 360.67 152.45 359.17 152.81 357.68 153.17 356.22 153.53 354.78 153.88 353.36 154.24 351.97 154.6 350.6 154.96 349.26 155.32 347.96 155.68 346.69 156.04 345.45 156.4 344.24 156.75 343.08 157.11 341.95 157.47 340.87 157.83 339.83 158.19 338.83 158.55 337.88 158.91 336.97 159.27 336.12 159.62 335.31 159.98 334.55 160.34 333.85 160.7 333.2 161.06 332.6 161.42 332.06 161.78 331.57 162.14 331.14 162.49 330.77 162.85 330.45 163.21 330.19 163.57 330 163.93 329.86 164.29 329.77 164.65 329.75 165.01 329.79 165.36 329.89 165.72 330.04 166.08 330.26 166.44 330.53 166.8 330.86 167.16 331.25 167.52 331.69 167.88 332.2 168.23 332.75 168.59 333.36 168.95 334.03 169.31 334.75 169.67 335.52 170.03 336.34 170.39 337.21 170.75 338.12 171.1 339.09 171.46 340.1 171.82 341.15 172.18 342.24 172.54 343.38 172.9 344.56 173.26 345.77 173.62 347.01 173.97 348.3 174.33 349.61 174.69 350.95 175.05 352.33 175.41 353.73 175.77 355.15 176.13 356.6 176.49 358.07 176.84 359.56 177.2 361.06 177.56 362.58 177.92 364.12 178.28 365.67 178.64 367.22 179 368.79 179.36 370.36 179.72 371.94 180.07 373.52 180.43 375.1 180.79 376.69 181.15 378.27 181.51 379.84 181.87 381.41 182.23 382.98 182.59 384.54 182.94 386.09 183.3 387.63 183.66 389.15 184.02 390.67 184.38 392.16 184.74 393.65 185.1 395.12 185.46 396.57 185.81 398 186.17 399.41 186.53 400.8 186.89 402.17 187.25 403.52 187.61 404.85 187.97 406.16 188.33 407.44 188.68 408.69 189.04 409.92 189.4 411.13 189.76 412.31 190.12 413.47 190.48 414.6 190.84 415.7 191.2 416.78 191.55 417.83 191.91 418.86 192.27 419.86 192.63 420.83 192.99 421.78 193.35 422.7 193.71 423.59 194.07 424.46 194.42 425.3 194.78 426.12 195.14 426.91 195.5 427.68 195.86 428.42 196.22 429.13 196.58 429.83 196.94 430.5 197.29 431.14 197.65 431.77 198.01 432.37 198.37 432.94 198.73 433.5 199.09 434.04 199.45 434.55 199.81 435.05 200.16 435.53 200.52 435.98 200.88 436.42 201.24 436.84 201.6 437.24 201.96 437.63 202.32 438 202.68 438.35 203.03 438.69 203.39 439.01 203.75 439.31 204.11 439.61 204.47 439.89 204.83 440.15 205.19 440.41 205.55 440.65 205.9 440.88 206.26 441.1 206.62 441.3 206.98 441.5 207.34 441.69 207.7 441.86 208.06 442.03 208.42 442.19 208.77 442.34 209.13 442.48 209.49 442.62 209.85 442.75 210.21 442.87 210.57 442.98 210.93 443.09 211.29 443.19 211.65 443.28 212 443.37 212.36 443.46 212.72 443.54 213.08 443.61 213.44 443.68 213.8 443.75 214.16 443.81 214.52 443.87 214.87 443.92 215.23 443.97 215.59 444.02 215.95 444.06 216.31 444.1 216.67 444.14 217.03 444.18 217.39 444.21 217.74 444.25 218.1 444.28 218.46 444.3 218.82 444.33 219.18 444.35 219.54 444.37 219.9 444.4 220.26 444.41 220.61 444.43 220.97 444.45 221.33 444.46 221.69 444.48 222.05 444.49 222.41 444.5 222.77 444.52 223.13 444.53 223.48 444.54 223.84 444.55 224.2 444.55 224.56 444.56 224.92 444.57 225.28 444.58 225.64 444.58 226 444.59 226.35 444.59 226.71 444.6 227.07 444.6 227.43 444.6 227.79 444.61 228.15 444.61 228.51 444.62 228.87 444.62 229.22 444.62 229.58 444.62 229.94 444.62 230.3 444.63 230.66 444.63 231.02 444.63 231.38 444.63 231.74 444.63 232.09 444.63 232.45 444.64 232.81 444.64 233.17 444.64 233.53 444.64 233.89 444.64 234.25 444.64 234.61 444.64 234.96 444.64 235.32 444.64 235.68 444.64 236.04 444.64 236.4 444.64 236.76 444.64 237.12 444.64 237.48 444.64 237.83 444.64 238.19 444.64 238.55 444.65 238.91 444.65 239.27 444.65 239.63 444.65 239.99 444.65 240.35 444.65 240.71 444.65 241.06 444.65 241.42 444.65 241.78 444.65 242.14 444.65 242.5 444.65 242.86 444.65 243.22 444.65 243.58 444.65 243.93 444.65 244.29 444.65 244.65 444.65 245.01 444.65 245.37 444.65 245.73 444.65 246.09 444.65 246.45 444.65 246.8 444.65 247.16 444.65 247.52 444.65 247.88 444.65 248.24 444.65 248.6 444.65 248.96 444.65 249.32 444.65 249.67 444.65 250.03 444.65 250.39 444.65 250.75 444.65 251.11 444.65 251.47 444.65 251.83 444.65 252.19 444.65 252.54 444.65 252.9 444.65 253.26 444.65 253.62 444.65 253.98 444.65 254.34 444.65 254.7 444.65 255.06 444.65 255.41 444.65 255.77 444.65 256.13 444.65 256.49 444.65 256.85 444.65 257.21 444.65 257.57 444.65 257.93 444.65 258.28 444.65 258.64 444.65 259 444.65 259.36 444.65 259.72 444.65 260.08 444.65 260.44 444.65 260.8 444.65 261.15 444.65 261.51 444.65 261.87 444.65 262.23 444.65 262.59 444.65 262.95 444.65 263.31 444.65 263.67 444.65 264.02 444.65 264.38 444.65 264.74 444.65 265.1 444.65 265.46 444.65 265.82 444.65 266.18 444.65 266.54 444.65 266.89 444.65 267.25 444.65 267.61 444.65 267.97 444.65 268.33 444.65 268.69 444.65 269.05 444.65 269.41 444.65 269.76 444.65 270.12 444.65 270.48 444.65 270.84 444.65 271.2 444.65" fill="none" stroke="#ff0000" stroke-width="1.3"/><path d="M307.3 148l1.65 2.97h-3.3zM307.54 147.82l1.65 2.97h-3.3zM307.78 147.68l1.65 2.97h-3.3zM308.02 148.33l1.65 2.97h-3.3zM308.26 147.5l1.65 2.97h-3.3zM308.5 148.14l1.65 2.97h-3.3zM308.74 147.78l1.65 2.97h-3.3zM308.98 147.73l1.65 2.97h-3.3zM309.22 147.78l1.65 2.97h-3.3zM309.46 147.92l1.65 2.97h-3.3zM309.7 148.15l1.65 2.97h-3.3zM309.94 147.84l1.65 2.97h-3.3zM310.18 148.07l1.65 2.97h-3.3zM310.42 148.38l1.65 2.97h-3.3zM310.66 147.46l1.65 2.97h-3.3zM310.9 147.82l1.65 2.97h-3.3zM311.14 147.63l1.65 2.97h-3.3zM311.38 148.1l1.65 2.97h-3.3zM311.62 147.69l1.65 2.97h-3.3zM311.86 147.67l1.65 2.97h-3.3zM312.1 147.68l1.65 2.97h-3.3zM312.34 147.95l1.65 2.97h-3.3zM312.58 148.15l1.65 2.97h-3.3zM312.82 147.97l1.65 2.97h-3.3zM313.06 148.32l1.65 2.97h-3.3zM313.3 148.24l1.65 2.97h-3.3zM313.54 147.93l1.65 2.97h-3.3zM313.78 148.11l1.65 2.97h-3.3zM314.02 147.97l1.65 2.97h-3.3zM314.26 147.96l1.65 2.97h-3.3zM314.5 147.61l1.65 2.97h-3.3zM314.74 147.72l1.65 2.97h-3.3zM314.98 147.95l1.65 2.97h-3.3zM315.22 147.73l1.65 2.97h-3.3zM315.46 148.07l1.65 2.97h-3.3zM315.7 148l1.65 2.97h-3.3zM315.94 147.78l1.65 2.97h-3.3zM316.18 148.15l1.65 2.97h-3.3zM316.42 147.99l1.65 2.97h-3.3zM316.66 148.17l1.65 2.97h-3.3zM316.9 147.92l1.65 2.97h-3.3zM317.14 147.65l1.65 2.97h-3.3zM317.38 148.07l1.65 2.97h-3.3zM317.62 147.9l1.65 2.97h-3.3zM317.86 148.09l1.65 2.97h-3.3zM318.1 148.13l1.65 2.97h-3.3zM318.34 148.15l1.65 2.97h-3.3zM318.58 147.68l1.65 2.97h-3.3zM318.81 147.52l1.65 2.97h-3.3zM319.05 147.85l1.65 2.97h-3.3zM319.29 148.06l1.65 2.97h-3.3zM319.53 147.81l1.65 2.97h-3.3zM319.77 147.99l1.65 2.97h-3.3zM320.01 147.79l1.65 2.97h-3.3zM320.25 147.88l1.65 2.97h-3.3zM320.49 147.88l1.65 2.97h-3.3zM320.73 147.82l1.65 2.97h-3.3zM320.97 148.03l1.65 2.97h-3.3zM321.21 148l1.65 2.97h-3.3zM321.45 148.22l1.65 2.97h-3.3zM321.69 148l1.65 2.97h-3.3zM321.93 148.17l1.65 2.97h-3.3zM322.17 147.95l1.65 2.97h-3.3zM322.41 148.09l1.65 2.97h-3.3zM322.65 147.91l1.65 2.97h-3.3zM322.89 147.84l1.65 2.97h-3.3zM323.13 148.17l1.65 2.97h-3.3zM323.37 148.06l1.65 2.97h-3.3zM323.61 148.08l1.65 2.97h-3.3zM323.85 147.79l1.65 2.97h-3.3zM324.09 147.62l1.65 2.97h-3.3zM324.33 147.77l1.65 2.97h-3.3zM324.57 147.98l1.65 2.97h-3.3zM324.81 147.66l1.65 2.97h-3.3zM325.05 148.18l1.65 2.97h-3.3zM325.29 147.66l1.65 2.97h-3.3zM325.53 148.03l1.65 2.97h-3.3zM325.77 148.39l1.65 2.97h-3.3zM326.01 147.45l1.65 2.97h-3.3zM326.25 147.64l1.65 2.97h-3.3zM326.49 148.09l1.65 2.97h-3.3zM326.73 147.88l1.65 2.97h-3.3zM326.97 147.95l1.65 2.97h-3.3zM327.21 147.89l1.65 2.97h-3.3zM327.45 148.16l1.65 2.97h-3.3zM327.69 148.02l1.65 2.97h-3.3zM327.93 147.82l1.65 2.97h-3.3zM328.17 147.86l1.65 2.97h-3.3zM328.41 147.69l1.65 2.97h-3.3zM328.65 147.89l1.65 2.97h-3.3zM328.89 147.49l1.65 2.97h-3.3zM329.13 148.02l1.65 2.97h-3.3zM329.37 147.85l1.65 2.97h-3.3zM329.61 148.23l1.65 2.97h-3.3zM329.85 148.11l1.65 2.97h-3.3zM330.09 147.66l1.65 2.97h-3.3zM330.33 148.05l1.65 2.97h-3.3zM330.57 147.8l1.65 2.97h-3.3zM330.81 147.9l1.65 2.97h-3.3zM331.05 148.07l1.65 2.97h-3.3zM331.29 147.95l1.65 2.97h-3.3zM331.53 147.97l1.65 2.97h-3.3zM331.77 147.97l1.65 2.97h-3.3zM332.01 147.75l1.65 2.97h-3.3zM332.25 147.77l1.65 2.97h-3.3zM332.49 147.98l1.65 2.97h-3.3zM332.73 148.03l1.65 2.97h-3.3zM332.97 147.83l1.65 2.97h-3.3zM333.21 147.89l1.65 2.97h-3.3zM333.45 147.69l1.65 2.97h-3.3zM333.69 147.41l1.65 2.97h-3.3zM333.93 147.72l1.65 2.97h-3.3zM334.17 147.87l1.65 2.97h-3.3zM334.41 147.89l1.65 2.97h-3.3zM334.65 148.01l1.65 2.97h-3.3zM334.89 148.02l1.65 2.97h-3.3zM335.13 148.03l1.65 2.97h-3.3zM335.37 147.93l1.65 2.97h-3.3zM335.61 147.93l1.65 2.97h-3.3zM335.85 147.72l1.65 2.97h-3.3zM336.09 147.92l1.65 2.97h-3.3zM336.33 147.88l1.65 2.97h-3.3zM336.57 148.06l1.65 2.97h-3.3zM336.81 147.56l1.65 2.97h-3.3zM337.05 147.75l1.65 2.97h-3.3zM337.29 147.53l1.65 2.97h-3.3zM337.52 147.7l1.65 2.97h-3.3zM337.76 147.58l1.65 2.97h-3.3zM338 147.87l1.65 2.97h-3.3zM338.24 147.7l1.65 2.97h-3.3zM338.48 147.36l1.65 2.97h-3.3zM338.72 148.03l1.65 2.97h-3.3zM338.96 147.62l1.65 2.97h-3.3zM339.2 147.52l1.65 2.97h-3.3zM339.44 147.74l1.65 2.97h-3.3zM339.68 147.68l1.65 2.97h-3.3zM339.92 147.59l1.65 2.97h-3.3zM340.16 147.92l1.65 2.97h-3.3zM340.4 147.73l1.65 2.97h-3.3zM340.64 147.96l1.65 2.97h-3.3zM340.88 147.91l1.65 2.97h-3.3zM341.12 147.9l1.65 2.97h-3.3zM341.36 147.82l1.65 2.97h-3.3zM341.6 147.76l1.65 2.97h-3.3zM341.84 147.7l1.65 2.97h-3.3zM342.08 148.03l1.65 2.97h-3.3zM342.32 147.42l1.65 2.97h-3.3zM342.56 147.56l1.65 2.97h-3.3zM342.8 147.64l1.65 2.97h-3.3zM343.04 147.82l1.65 2.97h-3.3zM343.28 147.77l1.65 2.97h-3.3zM343.52 147.66l1.65 2.97h-3.3zM343.76 147.67l1.65 2.97h-3.3zM344 148.05l1.65 2.97h-3.3zM344.24 147.61l1.65 2.97h-3.3zM344.48 147.21l1.65 2.97h-3.3zM344.72 148.06l1.65 2.97h-3.3zM344.96 147.55l1.65 2.97h-3.3zM345.2 147.64l1.65 2.97h-3.3zM345.44 147.74l1.65 2.97h-3.3zM345.68 147.47l1.65 2.97h-3.3zM345.92 147.91l1.65 2.97h-3.3zM346.16 147.67l1.65 2.97h-3.3zM346.4 147.44l1.65 2.97h-3.3zM346.64 147.71l1.65 2.97h-3.3zM346.88 147.76l1.65 2.97h-3.3zM347.12 147.66l1.65 2.97h-3.3zM347.36 147.73l1.65 2.97h-3.3zM347.6 147.38l1.65 2.97h-3.3zM347.84 147.83l1.65 2.97h-3.3zM348.08 147.47l1.65 2.97h-3.3zM348.32 147.87l1.65 2.97h-3.3zM348.56 147.53l1.65 2.97h-3.3zM348.8 147.62l1.65 2.97h-3.3zM349.04 148.08l1.65 2.97h-3.3zM349.28 147.63l1.65 2.97h-3.3zM349.52 147.76l1.65 2.97h-3.3zM349.76 147.67l1.65 2.97h-3.3zM350 147.32l1.65 2.97h-3.3zM350.24 147.74l1.65 2.97h-3.3zM350.48 147.76l1.65 2.97h-3.3zM350.72 147.32l1.65 2.97h-3.3zM350.96 147.48l1.65 2.97h-3.3zM351.2 147.25l1.65 2.97h-3.3zM351.44 147.49l1.65 2.97h-3.3zM351.68 147.62l1.65 2.97h-3.3zM351.92 147.51l1.65 2.97h-3.3zM352.16 147.3l1.65 2.97h-3.3zM352.4 147.24l1.65 2.97h-3.3zM352.64 147.46l1.65 2.97h-3.3zM352.88 147.48l1.65 2.97h-3.3zM353.12 147.38l1.65 2.97h-3.3zM353.36 147.52l1.65 2.97h-3.3zM353.6 147.1l1.65 2.97h-3.3zM353.84 147.31l1.65 2.97h-3.3zM354.08 147.58l1.65 2.97h-3.3zM354.32 147.5l1.65 2.97h-3.3zM354.56 147.11l1.65 2.97h-3.3zM354.8 147.2l1.65 2.97h-3.3zM355.04 147.39l1.65 2.97h-3.3zM355.28 147.3l1.65 2.97h-3.3zM355.52 147.26l1.65 2.97h-3.3zM355.76 147.63l1.65 2.97h-3.3zM356 147.33l1.65 2.97h-3.3zM356.24 147.05l1.65 2.97h-3.3zM356.47 147.35l1.65 2.97h-3.3zM356.71 146.93l1.65 2.97h-3.3zM356.95 146.89l1.65 2.97h-3.3zM357.19 147.08l1.65 2.97h-3.3zM357.43 146.9l1.65 2.97h-3.3zM357.67 146.64l1.65 2.97h-3.3zM357.91 147.01l1.65 2.97h-3.3zM358.15 146.85l1.65 2.97h-3.3zM358.39 146.81l1.65 2.97h-3.3zM358.63 146.98l1.65 2.97h-3.3zM358.87 146.82l1.65 2.97h-3.3zM359.11 146.83l1.65 2.97h-3.3zM359.35 147l1.65 2.97h-3.3zM359.59 146.89l1.65 2.97h-3.3zM359.83 146.75l1.65 2.97h-3.3zM360.07 146.93l1.65 2.97h-3.3zM360.31 146.43l1.65 2.97h-3.3zM360.55 146.9l1.65 2.97h-3.3zM360.79 146.84l1.65 2.97h-3.3zM361.03 146.17l1.65 2.97h-3.3zM361.27 146.42l1.65 2.97h-3.3zM361.51 146.86l1.65 2.97h-3.3zM361.75 145.84l1.65 2.97h-3.3zM361.99 146.51l1.65 2.97h-3.3zM362.23 146.55l1.65 2.97h-3.3zM362.47 145.47l1.65 2.97h-3.3zM362.71 146.21l1.65 2.97h-3.3zM362.95 146.45l1.65 2.97h-3.3zM363.19 145.26l1.65 2.97h-3.3zM363.43 145.94l1.65 2.97h-3.3zM363.67 146.23l1.65 2.97h-3.3zM363.91 145.14l1.65 2.97h-3.3zM364.15 145.41l1.65 2.97h-3.3zM364.39 146.41l1.65 2.97h-3.3zM364.63 145.04l1.65 2.97h-3.3zM364.87 145.56l1.65 2.97h-3.3zM365.11 145.97l1.65 2.97h-3.3zM365.35 144.69l1.65 2.97h-3.3zM365.59 145.22l1.65 2.97h-3.3zM365.83 145.44l1.65 2.97h-3.3zM366.07 144.31l1.65 2.97h-3.3zM366.31 144.68l1.65 2.97h-3.3zM366.55 145.13l1.65 2.97h-3.3zM366.79 143.83l1.65 2.97h-3.3zM367.03 144.3l1.65 2.97h-3.3zM367.27 144.55l1.65 2.97h-3.3zM367.51 143.11l1.65 2.97h-3.3zM367.75 144.05l1.65 2.97h-3.3zM367.99 144.55l1.65 2.97h-3.3zM368.23 142.85l1.65 2.97h-3.3zM368.47 143.38l1.65 2.97h-3.3zM368.71 143.95l1.65 2.97h-3.3zM368.95 142.24l1.65 2.97h-3.3zM369.19 142.96l1.65 2.97h-3.3zM369.43 143.43l1.65 2.97h-3.3zM369.67 141.51l1.65 2.97h-3.3zM369.91 142.29l1.65 2.97h-3.3zM370.15 143.4l1.65 2.97h-3.3zM370.39 140.87l1.65 2.97h-3.3zM370.63 141.81l1.65 2.97h-3.3zM370.87 142.12l1.65 2.97h-3.3zM371.11 139.98l1.65 2.97h-3.3zM371.35 141.11l1.65 2.97h-3.3zM371.59 142.11l1.65 2.97h-3.3zM371.83 139.06l1.65 2.97h-3.3zM372.07 140.03l1.65 2.97h-3.3zM372.31 141.24l1.65 2.97h-3.3zM372.55 137.51l1.65 2.97h-3.3zM372.79 139.28l1.65 2.97h-3.3zM373.03 140.16l1.65 2.97h-3.3zM373.27 136.97l1.65 2.97h-3.3zM373.51 138.23l1.65 2.97h-3.3zM373.75 140.04l1.65 2.97h-3.3zM373.99 135.97l1.65 2.97h-3.3zM374.23 137.39l1.65 2.97h-3.3zM374.47 138.8l1.65 2.97h-3.3zM374.71 135.39l1.65 2.97h-3.3zM374.95 135.99l1.65 2.97h-3.3zM375.18 137.81l1.65 2.97h-3.3zM375.42 133.57l1.65 2.97h-3.3zM375.66 135.11l1.65 2.97h-3.3zM375.9 136.64l1.65 2.97h-3.3zM376.14 131.9l1.65 2.97h-3.3zM376.38 134.11l1.65 2.97h-3.3zM376.62 135.63l1.65 2.97h-3.3zM376.86 130.44l1.65 2.97h-3.3zM377.1 132.24l1.65 2.97h-3.3zM377.34 134.13l1.65 2.97h-3.3zM377.58 129.14l1.65 2.97h-3.3zM377.82 131.04l1.65 2.97h-3.3zM378.06 132.58l1.65 2.97h-3.3zM378.3 126.78l1.65 2.97h-3.3zM378.54 129.49l1.65 2.97h-3.3zM378.78 130.47l1.65 2.97h-3.3zM379.02 125.07l1.65 2.97h-3.3zM379.26 127.52l1.65 2.97h-3.3zM379.5 129.02l1.65 2.97h-3.3zM379.74 124.09l1.65 2.97h-3.3zM379.98 126.16l1.65 2.97h-3.3zM380.22 127.98l1.65 2.97h-3.3zM380.46 121.62l1.65 2.97h-3.3zM380.7 123.61l1.65 2.97h-3.3zM380.94 125.75l1.65 2.97h-3.3zM381.18 119.25l1.65 2.97h-3.3zM381.42 122.3l1.65 2.97h-3.3zM381.66 123.27l1.65 2.97h-3.3zM381.9 117.73l1.65 2.97h-3.3zM382.14 119.43l1.65 2.97h-3.3zM382.38 121.46l1.65 2.97h-3.3zM382.62 115.27l1.65 2.97h-3.3zM382.86 117.44l1.65 2.97h-3.3zM383.1 119.42l1.65 2.97h-3.3zM383.34 112.23l1.65 2.97h-3.3zM383.58 114.01l1.65 2.97h-3.3zM383.82 116.23l1.65 2.97h-3.3zM384.06 110.22l1.65 2.97h-3.3zM384.3 112.16l1.65 2.97h-3.3zM384.54 114.4l1.65 2.97h-3.3zM384.78 106.76l1.65 2.97h-3.3zM385.02 110.21l1.65 2.97h-3.3zM385.26 110.56l1.65 2.97h-3.3zM385.5 104.58l1.65 2.97h-3.3zM385.74 106.75l1.65 2.97h-3.3zM385.98 108.23l1.65 2.97h-3.3zM386.22 100.82l1.65 2.97h-3.3zM386.46 103.21l1.65 2.97h-3.3zM386.7 104.88l1.65 2.97h-3.3zM386.94 98.51l1.65 2.97h-3.3zM387.18 99.68l1.65 2.97h-3.3zM387.42 101.72l1.65 2.97h-3.3zM387.66 95.73l1.65 2.97h-3.3zM387.9 96.49l1.65 2.97h-3.3zM388.14 99.29l1.65 2.97h-3.3zM388.38 92.62l1.65 2.97h-3.3zM388.62 95.04l1.65 2.97h-3.3zM388.86 96.43l1.65 2.97h-3.3zM389.1 89.07l1.65 2.97h-3.3zM389.34 92.22l1.65 2.97h-3.3zM389.58 92.52l1.65 2.97h-3.3zM389.82 86.32l1.65 2.97h-3.3zM390.06 87.86l1.65 2.97h-3.3zM390.3 91.35l1.65 2.97h-3.3zM390.54 83.59l1.65 2.97h-3.3zM390.78 84.32l1.65 2.97h-3.3zM391.02 86.91l1.65 2.97h-3.3zM391.26 80.29l1.65 2.97h-3.3zM391.5 83.54l1.65 2.97h-3.3zM391.74 82.29l1.65 2.97h-3.3zM391.98 77.74l1.65 2.97h-3.3zM392.22 77.41l1.65 2.97h-3.3zM392.46 80.85l1.65 2.97h-3.3zM392.7 73.2l1.65 2.97h-3.3zM392.94 74.85l1.65 2.97h-3.3zM393.18 74.8l1.65 2.97h-3.3zM393.42 71.22l1.65 2.97h-3.3zM393.66 71.5l1.65 2.97h-3.3zM393.89 69.44l1.65 2.97h-3.3zM394.13 67.43l1.65 2.97h-3.3zM394.37 67.61l1.65 2.97h-3.3zM394.61 67.53l1.65 2.97h-3.3zM394.85 63.62l1.65 2.97h-3.3zM395.09 61.38l1.65 2.97h-3.3zM395.33 60.88l1.65 2.97h-3.3zM395.57 58.96l1.65 2.97h-3.3zM395.81 59.82l1.65 2.97h-3.3zM396.05 56.47l1.65 2.97h-3.3zM396.29 52.32l1.65 2.97h-3.3zM396.53 52.16l1.65 2.97h-3.3zM396.77 51.31l1.65 2.97h-3.3zM397.01 49.78l1.65 2.97h-3.3zM397.25 48.32l1.65 2.97h-3.3zM397.49 49.14l1.65 2.97h-3.3zM397.73 45.78l1.65 2.97h-3.3zM397.97 42.17l1.65 2.97h-3.3zM398.21 43.54l1.65 2.97h-3.3zM398.45 36.91l1.65 2.97h-3.3zM398.69 39.03l1.65 2.97h-3.3zM398.93 39.38l1.65 2.97h-3.3zM399.17 35.17l1.65 2.97h-3.3zM399.41 33.41l1.65 2.97h-3.3zM399.65 34.74l1.65 2.97h-3.3zM399.89 35.26l1.65 2.97h-3.3zM400.13 32.96l1.65 2.97h-3.3zM400.37 31.53l1.65 2.97h-3.3zM400.61 32.94l1.65 2.97h-3.3zM400.85 33.4l1.65 2.97h-3.3zM401.09 31.2l1.65 2.97h-3.3zM401.33 31.9l1.65 2.97h-3.3zM401.57 33.9l1.65 2.97h-3.3zM401.81 33.37l1.65 2.97h-3.3zM402.05 33.9l1.65 2.97h-3.3zM402.29 33.07l1.65 2.97h-3.3zM402.53 33.92l1.65 2.97h-3.3zM402.77 32.96l1.65 2.97h-3.3zM403.01 34.22l1.65 2.97h-3.3zM403.25 37.86l1.65 2.97h-3.3zM403.49 35.93l1.65 2.97h-3.3zM403.73 36.02l1.65 2.97h-3.3zM403.97 37.31l1.65 2.97h-3.3zM404.21 37.28l1.65 2.97h-3.3zM404.45 39.98l1.65 2.97h-3.3zM404.69 41.17l1.65 2.97h-3.3zM404.93 39.49l1.65 2.97h-3.3zM405.17 42.63l1.65 2.97h-3.3zM405.41 44.58l1.65 2.97h-3.3zM405.65 41.22l1.65 2.97h-3.3zM405.89 44.04l1.65 2.97h-3.3zM406.13 44.01l1.65 2.97h-3.3zM406.37 45.75l1.65 2.97h-3.3zM406.61 46.44l1.65 2.97h-3.3zM406.85 46.54l1.65 2.97h-3.3zM407.09 45.85l1.65 2.97h-3.3zM407.33 45.97l1.65 2.97h-3.3zM407.57 49.26l1.65 2.97h-3.3zM407.81 45.76l1.65 2.97h-3.3zM408.05 49.33l1.65 2.97h-3.3zM408.29 49.12l1.65 2.97h-3.3zM408.53 47.03l1.65 2.97h-3.3zM408.77 49.61l1.65 2.97h-3.3zM409.01 51.02l1.65 2.97h-3.3zM409.25 46.88l1.65 2.97h-3.3zM409.49 52.19l1.65 2.97h-3.3zM409.73 50.4l1.65 2.97h-3.3zM409.97 50.06l1.65 2.97h-3.3zM410.21 51.45l1.65 2.97h-3.3zM410.45 52.77l1.65 2.97h-3.3zM410.69 50.52l1.65 2.97h-3.3zM410.93 55.84l1.65 2.97h-3.3zM411.17 52.71l1.65 2.97h-3.3zM411.41 54.01l1.65 2.97h-3.3zM411.65 57.56l1.65 2.97h-3.3zM411.89 53.73l1.65 2.97h-3.3zM412.13 54.41l1.65 2.97h-3.3zM412.37 59.37l1.65 2.97h-3.3zM412.6 55.39l1.65 2.97h-3.3zM412.84 56.11l1.65 2.97h-3.3zM413.08 62.79l1.65 2.97h-3.3zM413.32 59.14l1.65 2.97h-3.3zM413.56 59.62l1.65 2.97h-3.3zM413.8 63.41l1.65 2.97h-3.3zM414.04 60.92l1.65 2.97h-3.3zM414.28 60.92l1.65 2.97h-3.3zM414.52 67.88l1.65 2.97h-3.3zM414.76 64.34l1.65 2.97h-3.3zM415 62.37l1.65 2.97h-3.3zM415.24 71.02l1.65 2.97h-3.3zM415.48 66.41l1.65 2.97h-3.3zM415.72 66.6l1.65 2.97h-3.3zM415.96 73.4l1.65 2.97h-3.3zM416.2 69.9l1.65 2.97h-3.3zM416.44 67.06l1.65 2.97h-3.3zM416.68 75.7l1.65 2.97h-3.3zM416.92 73.27l1.65 2.97h-3.3zM417.16 68.54l1.65 2.97h-3.3zM417.4 79.16l1.65 2.97h-3.3zM417.64 75.39l1.65 2.97h-3.3zM417.88 72.76l1.65 2.97h-3.3zM418.12 83.05l1.65 2.97h-3.3zM418.36 77.21l1.65 2.97h-3.3zM418.6 74.79l1.65 2.97h-3.3zM418.84 85.09l1.65 2.97h-3.3zM419.08 79.38l1.65 2.97h-3.3zM419.32 75.47l1.65 2.97h-3.3zM419.56 87.02l1.65 2.97h-3.3zM419.8 83.31l1.65 2.97h-3.3zM420.04 79.83l1.65 2.97h-3.3zM420.28 90.54l1.65 2.97h-3.3zM420.52 85.61l1.65 2.97h-3.3zM420.76 80.48l1.65 2.97h-3.3zM421 94.32l1.65 2.97h-3.3zM421.24 87.73l1.65 2.97h-3.3zM421.48 83.28l1.65 2.97h-3.3zM421.72 96.83l1.65 2.97h-3.3zM421.96 91.04l1.65 2.97h-3.3zM422.2 86.2l1.65 2.97h-3.3zM422.44 100.11l1.65 2.97h-3.3zM422.68 94.01l1.65 2.97h-3.3zM422.92 88.31l1.65 2.97h-3.3zM423.16 103.45l1.65 2.97h-3.3zM423.4 95.7l1.65 2.97h-3.3zM423.64 91.67l1.65 2.97h-3.3zM423.88 105.35l1.65 2.97h-3.3zM424.12 99.62l1.65 2.97h-3.3zM424.36 94.28l1.65 2.97h-3.3zM424.6 107.5l1.65 2.97h-3.3zM424.84 102.38l1.65 2.97h-3.3zM425.08 97.47l1.65 2.97h-3.3zM425.32 111.66l1.65 2.97h-3.3zM425.56 104.94l1.65 2.97h-3.3zM425.8 97.62l1.65 2.97h-3.3zM426.04 113.7l1.65 2.97h-3.3zM426.28 106.71l1.65 2.97h-3.3zM426.52 102.09l1.65 2.97h-3.3zM426.76 116.06l1.65 2.97h-3.3zM427 109.31l1.65 2.97h-3.3zM427.24 102.71l1.65 2.97h-3.3zM427.48 118.87l1.65 2.97h-3.3zM427.72 111.71l1.65 2.97h-3.3zM427.96 105.95l1.65 2.97h-3.3zM428.2 121.21l1.65 2.97h-3.3zM428.44 114.32l1.65 2.97h-3.3zM428.68 108.54l1.65 2.97h-3.3zM428.92 123.84l1.65 2.97h-3.3zM429.16 116.21l1.65 2.97h-3.3zM429.4 110.28l1.65 2.97h-3.3zM429.64 125.02l1.65 2.97h-3.3zM429.88 119.22l1.65 2.97h-3.3zM430.12 111.93l1.65 2.97h-3.3zM430.36 126.61l1.65 2.97h-3.3zM430.6 120.16l1.65 2.97h-3.3zM430.84 114.06l1.65 2.97h-3.3zM431.08 128.66l1.65 2.97h-3.3zM431.31 122.19l1.65 2.97h-3.3zM431.55 116.88l1.65 2.97h-3.3zM431.79 130.15l1.65 2.97h-3.3zM432.03 124.4l1.65 2.97h-3.3zM432.27 118.68l1.65 2.97h-3.3zM432.51 131.29l1.65 2.97h-3.3zM432.75 126.05l1.65 2.97h-3.3zM432.99 120.59l1.65 2.97h-3.3zM433.23 133.19l1.65 2.97h-3.3zM433.47 127.62l1.65 2.97h-3.3zM433.71 122.67l1.65 2.97h-3.3zM433.95 134.59l1.65 2.97h-3.3zM434.19 129.32l1.65 2.97h-3.3zM434.43 124.22l1.65 2.97h-3.3zM434.67 135.71l1.65 2.97h-3.3zM434.91 130.97l1.65 2.97h-3.3zM435.15 124.8l1.65 2.97h-3.3zM435.39 136.44l1.65 2.97h-3.3zM435.63 131.99l1.65 2.97h-3.3zM435.87 127.16l1.65 2.97h-3.3zM436.11 137.27l1.65 2.97h-3.3zM436.35 133.33l1.65 2.97h-3.3zM436.59 128.63l1.65 2.97h-3.3zM436.83 138.76l1.65 2.97h-3.3zM437.07 134.55l1.65 2.97h-3.3zM437.31 129.49l1.65 2.97h-3.3zM437.55 139.73l1.65 2.97h-3.3zM437.79 135.15l1.65 2.97h-3.3zM438.03 131.6l1.65 2.97h-3.3zM438.27 140.37l1.65 2.97h-3.3zM438.51 137.1l1.65 2.97h-3.3zM438.75 131.94l1.65 2.97h-3.3zM438.99 141.35l1.65 2.97h-3.3zM439.23 137.81l1.65 2.97h-3.3zM439.47 133.42l1.65 2.97h-3.3zM439.71 141.66l1.65 2.97h-3.3zM439.95 138.99l1.65 2.97h-3.3zM440.19 134.91l1.65 2.97h-3.3zM440.43 142.87l1.65 2.97h-3.3zM440.67 139.5l1.65 2.97h-3.3zM440.91 135.87l1.65 2.97h-3.3zM441.15 143.19l1.65 2.97h-3.3zM441.39 140.48l1.65 2.97h-3.3zM441.63 136.92l1.65 2.97h-3.3zM441.87 143.77l1.65 2.97h-3.3zM442.11 140.89l1.65 2.97h-3.3zM442.35 137.3l1.65 2.97h-3.3zM442.59 144.47l1.65 2.97h-3.3zM442.83 141.69l1.65 2.97h-3.3zM443.07 138.67l1.65 2.97h-3.3zM443.31 144.36l1.65 2.97h-3.3zM443.55 142.48l1.65 2.97h-3.3zM443.79 139.38l1.65 2.97h-3.3zM444.03 145.04l1.65 2.97h-3.3zM444.27 142.66l1.65 2.97h-3.3zM444.51 140.05l1.65 2.97h-3.3zM444.75 145.18l1.65 2.97h-3.3zM444.99 143.23l1.65 2.97h-3.3zM445.23 140.82l1.65 2.97h-3.3zM445.47 145.75l1.65 2.97h-3.3zM445.71 143.64l1.65 2.97h-3.3zM445.95 141.32l1.65 2.97h-3.3zM446.19 145.73l1.65 2.97h-3.3zM446.43 143.97l1.65 2.97h-3.3zM446.67 141.68l1.65 2.97h-3.3zM446.91 146.15l1.65 2.97h-3.3zM447.15 144.72l1.65 2.97h-3.3zM447.39 142.15l1.65 2.97h-3.3zM447.63 145.87l1.65 2.97h-3.3zM447.87 145.05l1.65 2.97h-3.3zM448.11 143.26l1.65 2.97h-3.3zM448.35 146.45l1.65 2.97h-3.3zM448.59 145.31l1.65 2.97h-3.3zM448.83 143.8l1.65 2.97h-3.3zM449.07 146.49l1.65 2.97h-3.3zM449.31 145.74l1.65 2.97h-3.3zM449.55 144.13l1.65 2.97h-3.3zM449.79 146.47l1.65 2.97h-3.3zM450.02 145.87l1.65 2.97h-3.3zM450.26 144.27l1.65 2.97h-3.3zM450.5 146.65l1.65 2.97h-3.3zM450.74 145.81l1.65 2.97h-3.3zM450.98 144.67l1.65 2.97h-3.3zM451.22 146.88l1.65 2.97h-3.3zM451.46 146.32l1.65 2.97h-3.3zM451.7 144.57l1.65 2.97h-3.3zM451.94 146.87l1.65 2.97h-3.3zM452.18 146.56l1.65 2.97h-3.3zM452.42 145.22l1.65 2.97h-3.3zM452.66 146.95l1.65 2.97h-3.3zM452.9 146.42l1.65 2.97h-3.3zM453.14 145.12l1.65 2.97h-3.3zM453.38 146.91l1.65 2.97h-3.3zM453.62 146.76l1.65 2.97h-3.3zM453.86 145.74l1.65 2.97h-3.3zM454.1 147.46l1.65 2.97h-3.3zM454.34 146.75l1.65 2.97h-3.3zM454.58 145.92l1.65 2.97h-3.3zM454.82 146.81l1.65 2.97h-3.3zM455.06 146.89l1.65 2.97h-3.3zM455.3 146.54l1.65 2.97h-3.3zM455.54 147.47l1.65 2.97h-3.3zM455.78 146.99l1.65 2.97h-3.3zM456.02 146.56l1.65 2.97h-3.3zM456.26 147.56l1.65 2.97h-3.3zM456.5 147.18l1.65 2.97h-3.3zM456.74 146.42l1.65 2.97h-3.3zM456.98 147.48l1.65 2.97h-3.3zM457.22 147.35l1.65 2.97h-3.3zM457.46 146.49l1.65 2.97h-3.3zM457.7 147.58l1.65 2.97h-3.3zM457.94 147.36l1.65 2.97h-3.3zM458.18 147.02l1.65 2.97h-3.3zM458.42 147.66l1.65 2.97h-3.3zM458.66 147.22l1.65 2.97h-3.3zM458.9 147.18l1.65 2.97h-3.3zM459.14 147.57l1.65 2.97h-3.3zM459.38 147.27l1.65 2.97h-3.3zM459.62 147.06l1.65 2.97h-3.3zM459.86 147.55l1.65 2.97h-3.3zM460.1 147.65l1.65 2.97h-3.3zM460.34 146.86l1.65 2.97h-3.3zM460.58 147.42l1.65 2.97h-3.3zM460.82 147.45l1.65 2.97h-3.3zM461.06 147.5l1.65 2.97h-3.3zM461.3 147.82l1.65 2.97h-3.3zM461.54 147.36l1.65 2.97h-3.3zM461.78 146.95l1.65 2.97h-3.3zM462.02 147.61l1.65 2.97h-3.3zM462.26 147.35l1.65 2.97h-3.3zM462.5 147.44l1.65 2.97h-3.3zM462.74 147.72l1.65 2.97h-3.3zM462.98 147.61l1.65 2.97h-3.3zM463.22 147.32l1.65 2.97h-3.3zM463.46 147.97l1.65 2.97h-3.3zM463.7 147.47l1.65 2.97h-3.3zM463.94 147.21l1.65 2.97h-3.3zM464.18 147.92l1.65 2.97h-3.3zM464.42 147.9l1.65 2.97h-3.3zM464.66 147.44l1.65 2.97h-3.3zM464.9 147.85l1.65 2.97h-3.3zM465.14 148.1l1.65 2.97h-3.3zM465.38 147.4l1.65 2.97h-3.3zM465.62 147.72l1.65 2.97h-3.3zM465.86 147.79l1.65 2.97h-3.3zM466.1 147.21l1.65 2.97h-3.3zM466.34 147.74l1.65 2.97h-3.3zM466.58 147.86l1.65 2.97h-3.3zM466.82 147.6l1.65 2.97h-3.3zM467.06 147.96l1.65 2.97h-3.3zM467.3 147.88l1.65 2.97h-3.3zM467.54 147.58l1.65 2.97h-3.3zM467.78 147.88l1.65 2.97h-3.3zM468.02 147.84l1.65 2.97h-3.3zM468.26 147.39l1.65 2.97h-3.3zM468.5 147.65l1.65 2.97h-3.3zM468.73 147.64l1.65 2.97h-3.3zM468.97 147.61l1.65 2.97h-3.3zM469.21 147.72l1.65 2.97h-3.3zM469.45 147.54l1.65 2.97h-3.3zM469.69 147.73l1.65 2.97h-3.3zM469.93 147.49l1.65 2.97h-3.3zM470.17 147.97l1.65 2.97h-3.3zM470.41 147.79l1.65 2.97h-3.3zM470.65 148.06l1.65 2.97h-3.3zM470.89 147.87l1.65 2.97h-3.3zM471.13 147.68l1.65 2.97h-3.3zM471.37 147.58l1.65 2.97h-3.3zM471.61 147.94l1.65 2.97h-3.3zM471.85 147.78l1.65 2.97h-3.3zM472.09 147.9l1.65 2.97h-3.3zM472.33 147.96l1.65 2.97h-3.3zM472.57 148.01l1.65 2.97h-3.3zM472.81 147.84l1.65 2.97h-3.3zM473.05 148.14l1.65 2.97h-3.3zM473.29 147.79l1.65 2.97h-3.3zM473.53 147.85l1.65 2.97h-3.3zM473.77 147.96l1.65 2.97h-3.3zM474.01 148l1.65 2.97h-3.3zM474.25 148.1l1.65 2.97h-3.3zM474.49 147.53l1.65 2.97h-3.3zM474.73 148.07l1.65 2.97h-3.3zM474.97 147.6l1.65 2.97h-3.3zM475.21 147.76l1.65 2.97h-3.3zM475.45 147.91l1.65 2.97h-3.3zM475.69 148.07l1.65 2.97h-3.3zM475.93 147.69l1.65 2.97h-3.3zM476.17 147.55l1.65 2.97h-3.3zM476.41 148.04l1.65 2.97h-3.3zM476.65 147.93l1.65 2.97h-3.3zM476.89 147.68l1.65 2.97h-3.3zM477.13 147.82l1.65 2.97h-3.3zM477.37 147.53l1.65 2.97h-3.3zM477.61 147.97l1.65 2.97h-3.3zM477.85 147.79l1.65 2.97h-3.3zM478.09 148.1l1.65 2.97h-3.3zM478.33 147.51l1.65 2.97h-3.3zM478.57 148.02l1.65 2.97h-3.3zM478.81 148.27l1.65 2.97h-3.3zM479.05 147.9l1.65 2.97h-3.3zM479.29 147.92l1.65 2.97h-3.3zM479.53 147.56l1.65 2.97h-3.3zM479.77 147.95l1.65 2.97h-3.3zM480.01 147.9l1.65 2.97h-3.3zM480.25 147.8l1.65 2.97h-3.3zM480.49 147.62l1.65 2.97h-3.3zM480.73 147.91l1.65 2.97h-3.3zM480.97 147.72l1.65 2.97h-3.3zM481.21 147.81l1.65 2.97h-3.3zM481.45 147.96l1.65 2.97h-3.3zM481.69 147.89l1.65 2.97h-3.3zM481.93 147.9l1.65 2.97h-3.3zM482.17 148.07l1.65 2.97h-3.3zM482.41 147.7l1.65 2.97h-3.3zM482.65 148.15l1.65 2.97h-3.3zM482.89 147.71l1.65 2.97h-3.3zM483.13 147.75l1.65 2.97h-3.3zM483.37 147.93l1.65 2.97h-3.3zM483.61 148.05l1.65 2.97h-3.3zM483.85 147.95l1.65 2.97h-3.3zM484.09 147.83l1.65 2.97h-3.3zM484.33 147.79l1.65 2.97h-3.3zM484.57 147.87l1.65 2.97h-3.3zM484.81 147.74l1.65 2.97h-3.3zM485.05 148.01l1.65 2.97h-3.3zM485.29 147.88l1.65 2.97h-3.3zM485.53 148.19l1.65 2.97h-3.3zM485.77 147.79l1.65 2.97h-3.3zM486.01 147.89l1.65 2.97h-3.3zM486.25 147.99l1.65 2.97h-3.3zM486.49 147.72l1.65 2.97h-3.3zM486.73 147.8l1.65 2.97h-3.3zM486.97 148.41l1.65 2.97h-3.3zM487.21 147.92l1.65 2.97h-3.3zM487.44 148.18l1.65 2.97h-3.3zM487.68 147.74l1.65 2.97h-3.3zM487.92 147.5l1.65 2.97h-3.3zM488.16 148.02l1.65 2.97h-3.3zM488.4 147.91l1.65 2.97h-3.3zM488.64 147.97l1.65 2.97h-3.3zM488.88 147.87l1.65 2.97h-3.3zM489.12 147.82l1.65 2.97h-3.3zM489.36 147.71l1.65 2.97h-3.3zM489.6 148.1l1.65 2.97h-3.3zM489.84 147.66l1.65 2.97h-3.3zM490.08 148.09l1.65 2.97h-3.3zM490.32 147.88l1.65 2.97h-3.3zM490.56 147.73l1.65 2.97h-3.3zM490.8 147.81l1.65 2.97h-3.3zM491.04 148.1l1.65 2.97h-3.3zM491.28 148.06l1.65 2.97h-3.3zM491.52 148.02l1.65 2.97h-3.3zM491.76 147.94l1.65 2.97h-3.3zM492 147.74l1.65 2.97h-3.3zM492.24 148.16l1.65 2.97h-3.3zM492.48 147.86l1.65 2.97h-3.3zM492.72 147.83l1.65 2.97h-3.3zM492.96 147.84l1.65 2.97h-3.3zM493.2 147.86l1.65 2.97h-3.3zM493.44 147.68l1.65 2.97h-3.3zM493.68 147.85l1.65 2.97h-3.3zM493.92 147.79l1.65 2.97h-3.3zM494.16 147.84l1.65 2.97h-3.3zM494.4 147.63l1.65 2.97h-3.3zM494.64 148.27l1.65 2.97h-3.3zM494.88 147.72l1.65 2.97h-3.3zM495.12 147.99l1.65 2.97h-3.3zM495.36 147.99l1.65 2.97h-3.3zM495.6 148.11l1.65 2.97h-3.3zM495.84 148.26l1.65 2.97h-3.3zM496.08 148.01l1.65 2.97h-3.3zM496.32 148.06l1.65 2.97h-3.3zM496.56 147.86l1.65 2.97h-3.3zM496.8 148.2l1.65 2.97h-3.3z" fill="none" stroke="#1a8f1a" stroke-width="0.7" opacity="0.85"/><path d="M308.8 149.79 308.96 149.79 309.11 149.79 309.27 149.79 309.43 149.79 309.59 149.79 309.74 149.79 309.9 149.79 310.06 149.79 310.21 149.79 310.37 149.79 310.53 149.79 310.68 149.79 310.84 149.79 311 149.79 311.16 149.79 311.31 149.79 311.47 149.79 311.63 149.79 311.78 149.79 311.94 149.79 312.1 149.79 312.26 149.79 312.41 149.78 312.57 149.78 312.73 149.78 312.88 149.78 313.04 149.78 313.2 149.78 313.35 149.78 313.51 149.78 313.67 149.78 313.83 149.78 313.98 149.78 314.14 149.78 314.3 149.78 314.45 149.78 314.61 149.78 314.77 149.78 314.93 149.78 315.08 149.78 315.24 149.78 315.4 149.78 315.55 149.78 315.71 149.78 315.87 149.78 316.02 149.78 316.18 149.78 316.34 149.78 316.5 149.78 316.65 149.78 316.81 149.78 316.97 149.78 317.12 149.78 317.28 149.78 317.44 149.78 317.59 149.78 317.75 149.78 317.91 149.78 318.07 149.78 318.22 149.78 318.38 149.78 318.54 149.77 318.69 149.77 318.85 149.77 319.01 149.77 319.17 149.77 319.32 149.77 319.48 149.77 319.64 149.77 319.79 149.77 319.95 149.77 320.11 149.77 320.26 149.77 320.42 149.77 320.58 149.77 320.74 149.77 320.89 149.77 321.05 149.77 321.21 149.77 321.36 149.77 321.52 149.77 321.68 149.77 321.84 149.77 321.99 149.77 322.15 149.77 322.31 149.77 322.46 149.77 322.62 149.76 322.78 149.76 322.93 149.76 323.09 149.76 323.25 149.76 323.41 149.76 323.56 149.76 323.72 149.76 323.88 149.76 324.03 149.76 324.19 149.76 324.35 149.76 324.51 149.76 324.66 149.76 324.82 149.76 324.98 149.76 325.13 149.76 325.29 149.76 325.45 149.76 325.6 149.75 325.76 149.75 325.92 149.75 326.08 149.75 326.23 149.75 326.39 149.75 326.55 149.75 326.7 149.75 326.86 149.75 327.02 149.75 327.17 149.75 327.33 149.75 327.49 149.75 327.65 149.75 327.8 149.75 327.96 149.75 328.12 149.74 328.27 149.74 328.43 149.74 328.59 149.74 328.75 149.74 328.9 149.74 329.06 149.74 329.22 149.74 329.37 149.74 329.53 149.74 329.69 149.74 329.84 149.74 330 149.73 330.16 149.73 330.32 149.73 330.47 149.73 330.63 149.73 330.79 149.73 330.94 149.73 331.1 149.73 331.26 149.73 331.42 149.73 331.57 149.73 331.73 149.72 331.89 149.72 332.04 149.72 332.2 149.72 332.36 149.72 332.51 149.72 332.67 149.72 332.83 149.72 332.99 149.72 333.14 149.72 333.3 149.71 333.46 149.71 333.61 149.71 333.77 149.71 333.93 149.71 334.08 149.71 334.24 149.71 334.4 149.71 334.56 149.7 334.71 149.7 334.87 149.7 335.03 149.7 335.18 149.7 335.34 149.7 335.5 149.7 335.66 149.7 335.81 149.69 335.97 149.69 336.13 149.69 336.28 149.69 336.44 149.69 336.6 149.69 336.75 149.69 336.91 149.68 337.07 149.68 337.23 149.68 337.38 149.68 337.54 149.68 337.7 149.68 337.85 149.67 338.01 149.67 338.17 149.67 338.33 149.67 338.48 149.67 338.64 149.67 338.8 149.66 338.95 149.66 339.11 149.66 339.27 149.66 339.42 149.66 339.58 149.66 339.74 149.65 339.9 149.65 340.05 149.65 340.21 149.65 340.37 149.65 340.52 149.64 340.68 149.64 340.84 149.64 340.99 149.64 341.15 149.63 341.31 149.63 341.47 149.63 341.62 149.63 341.78 149.63 341.94 149.62 342.09 149.62 342.25 149.62 342.41 149.62 342.57 149.61 342.72 149.61 342.88 149.61 343.04 149.61 343.19 149.6 343.35 149.6 343.51 149.6 343.66 149.59 343.82 149.59 343.98 149.59 344.14 149.59 344.29 149.58 344.45 149.58 344.61 149.58 344.76 149.57 344.92 149.57 345.08 149.57 345.24 149.56 345.39 149.56 345.55 149.56 345.71 149.55 345.86 149.55 346.02 149.55 346.18 149.54 346.33 149.54 346.49 149.54 346.65 149.53 346.81 149.53 346.96 149.53 347.12 149.52 347.28 149.52 347.43 149.51 347.59 149.51 347.75 149.5 347.91 149.5 348.06 149.5 348.22 149.49 348.38 149.49 348.53 149.48 348.69 149.48 348.85 149.47 349 149.47 349.16 149.46 349.32 149.46 349.48 149.45 349.63 149.45 349.79 149.44 349.95 149.44 350.1 149.43 350.26 149.43 350.42 149.42 350.57 149.41 350.73 149.41 350.89 149.4 351.05 149.39 351.2 149.39 351.36 149.38 351.52 149.38 351.67 149.37 351.83 149.36 351.99 149.35 352.15 149.35 352.3 149.34 352.46 149.33 352.62 149.32 352.77 149.32 352.93 149.31 353.09 149.3 353.24 149.29 353.4 149.28 353.56 149.27 353.72 149.26 353.87 149.25 354.03 149.25 354.19 149.24 354.34 149.23 354.5 149.22 354.66 149.2 354.82 149.19 354.97 149.18 355.13 149.17 355.29 149.16 355.44 149.15 355.6 149.14 355.76 149.12 355.91 149.11 356.07 149.1 356.23 149.09 356.39 149.07 356.54 149.06 356.7 149.04 356.86 149.03 357.01 149.01 357.17 149 357.33 148.98 357.48 148.97 357.64 148.95 357.8 148.93 357.96 148.91 358.11 148.9 358.27 148.88 358.43 148.86 358.58 148.84 358.74 148.82 358.9 148.8 359.06 148.78 359.21 148.76 359.37 148.73 359.53 148.71 359.68 148.69 359.84 148.66 360 148.64 360.15 148.61 360.31 148.59 360.47 148.56 360.63 148.53 360.78 148.51 360.94 148.48 361.1 148.45 361.25 148.42 361.41 148.39 361.57 148.36 361.73 148.32 361.88 148.29 362.04 148.25 362.2 148.22 362.35 148.18 362.51 148.14 362.67 148.11 362.82 148.07 362.98 148.03 363.14 147.99 363.3 147.94 363.45 147.9 363.61 147.85 363.77 147.81 363.92 147.76 364.08 147.71 364.24 147.66 364.4 147.61 364.55 147.56 364.71 147.51 364.87 147.45 365.02 147.39 365.18 147.34 365.34 147.28 365.49 147.21 365.65 147.15 365.81 147.09 365.97 147.02 366.12 146.95 366.28 146.88 366.44 146.81 366.59 146.74 366.75 146.67 366.91 146.59 367.06 146.51 367.22 146.43 367.38 146.35 367.54 146.26 367.69 146.18 367.85 146.09 368.01 146 368.16 145.9 368.32 145.81 368.48 145.71 368.64 145.61 368.79 145.51 368.95 145.4 369.11 145.29 369.26 145.18 369.42 145.07 369.58 144.95 369.73 144.84 369.89 144.71 370.05 144.59 370.21 144.46 370.36 144.33 370.52 144.2 370.68 144.07 370.83 143.93 370.99 143.78 371.15 143.64 371.31 143.49 371.46 143.34 371.62 143.18 371.78 143.03 371.93 142.86 372.09 142.7 372.25 142.53 372.4 142.36 372.56 142.18 372.72 142 372.88 141.82 373.03 141.63 373.19 141.44 373.35 141.24 373.5 141.04 373.66 140.84 373.82 140.63 373.97 140.42 374.13 140.2 374.29 139.98 374.45 139.76 374.6 139.53 374.76 139.29 374.92 139.06 375.07 138.81 375.23 138.56 375.39 138.31 375.55 138.06 375.7 137.79 375.86 137.53 376.02 137.26 376.17 136.98 376.33 136.7 376.49 136.41 376.64 136.12 376.8 135.82 376.96 135.52 377.12 135.21 377.27 134.9 377.43 134.58 377.59 134.26 377.74 133.93 377.9 133.6 378.06 133.26 378.22 132.91 378.37 132.56 378.53 132.2 378.69 131.84 378.84 131.47 379 131.1 379.16 130.72 379.31 130.34 379.47 129.95 379.63 129.55 379.79 129.15 379.94 128.74 380.1 128.33 380.26 127.91 380.41 127.48 380.57 127.05 380.73 126.61 380.88 126.17 381.04 125.72 381.2 125.27 381.36 124.81 381.51 124.34 381.67 123.87 381.83 123.39 381.98 122.91 382.14 122.42 382.3 121.92 382.46 121.42 382.61 120.91 382.77 120.4 382.93 119.88 383.08 119.35 383.24 118.82 383.4 118.29 383.55 117.74 383.71 117.2 383.87 116.64 384.03 116.09 384.18 115.52 384.34 114.95 384.5 114.38 384.65 113.8 384.81 113.21 384.97 112.62 385.13 112.03 385.28 111.43 385.44 110.82 385.6 110.21 385.75 109.6 385.91 108.98 386.07 108.35 386.22 107.72 386.38 107.09 386.54 106.45 386.7 105.81 386.85 105.17 387.01 104.52 387.17 103.86 387.32 103.21 387.48 102.55 387.64 101.88 387.8 101.21 387.95 100.54 388.11 99.87 388.27 99.19 388.42 98.51 388.58 97.83 388.74 97.14 388.89 96.46 389.05 95.77 389.21 95.07 389.37 94.38 389.52 93.68 389.68 92.98 389.84 92.29 389.99 91.59 390.15 90.88 390.31 90.18 390.46 89.48 390.62 88.77 390.78 88.07 390.94 87.36 391.09 86.66 391.25 85.95 391.41 85.25 391.56 84.55 391.72 83.84 391.88 83.14 392.04 82.44 392.19 81.74 392.35 81.04 392.51 80.34 392.66 79.65 392.82 78.96 392.98 78.27 393.13 77.58 393.29 76.89 393.45 76.21 393.61 75.53 393.76 74.85 393.92 74.18 394.08 73.51 394.23 72.85 394.39 72.19 394.55 71.53 394.71 70.88 394.86 70.23 395.02 69.59 395.18 68.95 395.33 68.32 395.49 67.7 395.65 67.08 395.8 66.46 395.96 65.86 396.12 65.26 396.28 64.66 396.43 64.08 396.59 63.5 396.75 62.93 396.9 62.36 397.06 61.8 397.22 61.25 397.37 60.71 397.53 60.18 397.69 59.66 397.85 59.14 398 58.64 398.16 58.14 398.32 57.65 398.47 57.17 398.63 56.7 398.79 56.25 398.95 55.8 399.1 55.36 399.26 54.93 399.42 54.51 399.57 54.1 399.73 53.71 399.89 53.32 400.04 52.95 400.2 52.59 400.36 52.23 400.52 51.89 400.67 51.57 400.83 51.25 400.99 50.95 401.14 50.65 401.3 50.37 401.46 50.1 401.62 49.85 401.77 49.61 401.93 49.38 402.09 49.16 402.24 48.95 402.4 48.76 402.56 48.58 402.71 48.41 402.87 48.26 403.03 48.12 403.19 47.99 403.34 47.88 403.5 47.78 403.66 47.69 403.81 47.62 403.97 47.56 404.13 47.51 404.28 47.48 404.44 47.46 404.6 47.45 404.76 47.46 404.91 47.47 405.07 47.5 405.23 47.55 405.38 47.6 405.54 47.67 405.7 47.75 405.86 47.84 406.01 47.94 406.17 48.06 406.33 48.19 406.48 48.33 406.64 48.48 406.8 48.64 406.95 48.81 407.11 49 407.27 49.2 407.43 49.41 407.58 49.63 407.74 49.86 407.9 50.11 408.05 50.36 408.21 50.63 408.37 50.91 408.53 51.19 408.68 51.49 408.84 51.8 409 52.13 409.15 52.46 409.31 52.8 409.47 53.15 409.62 53.51 409.78 53.89 409.94 54.27 410.1 54.66 410.25 55.06 410.41 55.47 410.57 55.89 410.72 56.32 410.88 56.76 411.04 57.21 411.2 57.67 411.35 58.13 411.51 58.6 411.67 59.09 411.82 59.58 411.98 60.07 412.14 60.58 412.29 61.09 412.45 61.61 412.61 62.14 412.77 62.68 412.92 63.22 413.08 63.77 413.24 64.33 413.39 64.89 413.55 65.46 413.71 66.03 413.86 66.61 414.02 67.2 414.18 67.79 414.34 68.39 414.49 68.99 414.65 69.6 414.81 70.21 414.96 70.82 415.12 71.44 415.28 72.07 415.44 72.7 415.59 73.33 415.75 73.97 415.91 74.61 416.06 75.25 416.22 75.9 416.38 76.55 416.53 77.2 416.69 77.86 416.85 78.51 417.01 79.17 417.16 79.83 417.32 80.5 417.48 81.16 417.63 81.83 417.79 82.5 417.95 83.17 418.11 83.84 418.26 84.51 418.42 85.18 418.58 85.85 418.73 86.52 418.89 87.2 419.05 87.87 419.2 88.54 419.36 89.21 419.52 89.88 419.68 90.56 419.83 91.23 419.99 91.89 420.15 92.56 420.3 93.23 420.46 93.89 420.62 94.56 420.77 95.22 420.93 95.88 421.09 96.54 421.25 97.2 421.4 97.85 421.56 98.5 421.72 99.15 421.87 99.8 422.03 100.44 422.19 101.08 422.35 101.72 422.5 102.36 422.66 102.99 422.82 103.62 422.97 104.24 423.13 104.87 423.29 105.48 423.44 106.1 423.6 106.71 423.76 107.32 423.92 107.92 424.07 108.52 424.23 109.11 424.39 109.71 424.54 110.29 424.7 110.87 424.86 111.45 425.02 112.03 425.17 112.6 425.33 113.16 425.49 113.72 425.64 114.27 425.8 114.83 425.96 115.37 426.11 115.91 426.27 116.45 426.43 116.98 426.59 117.5 426.74 118.02 426.9 118.54 427.06 119.05 427.21 119.56 427.37 120.06 427.53 120.55 427.69 121.04 427.84 121.53 428 122 428.16 122.48 428.31 122.95 428.47 123.41 428.63 123.87 428.78 124.32 428.94 124.77 429.1 125.21 429.26 125.65 429.41 126.08 429.57 126.5 429.73 126.92 429.88 127.34 430.04 127.75 430.2 128.15 430.35 128.55 430.51 128.95 430.67 129.33 430.83 129.72 430.98 130.1 431.14 130.47 431.3 130.84 431.45 131.2 431.61 131.55 431.77 131.91 431.93 132.25 432.08 132.59 432.24 132.93 432.4 133.26 432.55 133.59 432.71 133.91 432.87 134.23 433.02 134.54 433.18 134.84 433.34 135.15 433.5 135.44 433.65 135.73 433.81 136.02 433.97 136.3 434.12 136.58 434.28 136.86 434.44 137.12 434.6 137.39 434.75 137.65 434.91 137.9 435.07 138.15 435.22 138.4 435.38 138.64 435.54 138.88 435.69 139.11 435.85 139.34 436.01 139.57 436.17 139.79 436.32 140 436.48 140.22 436.64 140.43 436.79 140.63 436.95 140.83 437.11 141.03 437.26 141.22 437.42 141.41 437.58 141.6 437.74 141.78 437.89 141.96 438.05 142.14 438.21 142.31 438.36 142.48 438.52 142.64 438.68 142.8 438.84 142.96 438.99 143.12 439.15 143.27 439.31 143.42 439.46 143.57 439.62 143.71 439.78 143.85 439.93 143.99 440.09 144.12 440.25 144.25 440.41 144.38 440.56 144.5 440.72 144.63 440.88 144.75 441.03 144.87 441.19 144.98 441.35 145.09 441.51 145.2 441.66 145.31 441.82 145.42 441.98 145.52 442.13 145.62 442.29 145.72 442.45 145.81 442.6 145.91 442.76 146 442.92 146.09 443.08 146.18 443.23 146.26 443.39 146.35 443.55 146.43 443.7 146.51 443.86 146.59 444.02 146.66 444.17 146.74 444.33 146.81 444.49 146.88 444.65 146.95 444.8 147.02 444.96 147.08 445.12 147.15 445.27 147.21 445.43 147.27 445.59 147.33 445.75 147.39 445.9 147.45 446.06 147.5 446.22 147.56 446.37 147.61 446.53 147.66 446.69 147.71 446.84 147.76 447 147.81 447.16 147.85 447.32 147.9 447.47 147.94 447.63 147.99 447.79 148.03 447.94 148.07 448.1 148.11 448.26 148.15 448.42 148.19 448.57 148.22 448.73 148.26 448.89 148.29 449.04 148.33 449.2 148.36 449.36 148.39 449.51 148.43 449.67 148.46 449.83 148.49 449.99 148.52 450.14 148.55 450.3 148.57 450.46 148.6 450.61 148.63 450.77 148.65 450.93 148.68 451.09 148.7 451.24 148.73 451.4 148.75 451.56 148.77 451.71 148.8 451.87 148.82 452.03 148.84 452.18 148.86 452.34 148.88 452.5 148.9 452.66 148.92 452.81 148.94 452.97 148.95 453.13 148.97 453.28 148.99 453.44 149.01 453.6 149.02 453.75 149.04 453.91 149.05 454.07 149.07 454.23 149.08 454.38 149.1 454.54 149.11 454.7 149.12 454.85 149.14 455.01 149.15 455.17 149.16 455.33 149.18 455.48 149.19 455.64 149.2 455.8 149.21 455.95 149.22 456.11 149.23 456.27 149.24 456.42 149.25 456.58 149.26 456.74 149.27 456.9 149.28 457.05 149.29 457.21 149.3 457.37 149.31 457.52 149.32 457.68 149.33 457.84 149.34 458 149.35 458.15 149.35 458.31 149.36 458.47 149.37 458.62 149.38 458.78 149.38 458.94 149.39 459.09 149.4 459.25 149.41 459.41 149.41 459.57 149.42 459.72 149.42 459.88 149.43 460.04 149.44 460.19 149.44 460.35 149.45 460.51 149.45 460.66 149.46 460.82 149.47 460.98 149.47 461.14 149.48 461.29 149.48 461.45 149.49 461.61 149.49 461.76 149.5 461.92 149.5 462.08 149.51 462.24 149.51 462.39 149.52 462.55 149.52 462.71 149.52 462.86 149.53 463.02 149.53 463.18 149.54 463.33 149.54 463.49 149.54 463.65 149.55 463.81 149.55 463.96 149.56 464.12 149.56 464.28 149.56 464.43 149.57 464.59 149.57 464.75 149.57 464.91 149.58 465.06 149.58 465.22 149.58 465.38 149.59 465.53 149.59 465.69 149.59 465.85 149.59 466 149.6 466.16 149.6 466.32 149.6 466.48 149.61 466.63 149.61 466.79 149.61 466.95 149.61 467.1 149.62 467.26 149.62 467.42 149.62 467.57 149.62 467.73 149.63 467.89 149.63 468.05 149.63 468.2 149.63 468.36 149.64 468.52 149.64 468.67 149.64 468.83 149.64 468.99 149.65 469.15 149.65 469.3 149.65 469.46 149.65 469.62 149.65 469.77 149.66 469.93 149.66 470.09 149.66 470.24 149.66 470.4 149.66 470.56 149.66 470.72 149.67 470.87 149.67 471.03 149.67 471.19 149.67 471.34 149.67 471.5 149.68 471.66 149.68 471.82 149.68 471.97 149.68 472.13 149.68 472.29 149.68 472.44 149.68 472.6 149.69 472.76 149.69 472.91 149.69 473.07 149.69 473.23 149.69 473.39 149.69 473.54 149.7 473.7 149.7 473.86 149.7 474.01 149.7 474.17 149.7 474.33 149.7 474.49 149.7 474.64 149.7 474.8 149.71 474.96 149.71 475.11 149.71 475.27 149.71 475.43 149.71 475.58 149.71 475.74 149.71 475.9 149.71 476.06 149.72 476.21 149.72 476.37 149.72 476.53 149.72 476.68 149.72 476.84 149.72 477 149.72 477.15 149.72 477.31 149.72 477.47 149.72 477.63 149.73 477.78 149.73 477.94 149.73 478.1 149.73 478.25 149.73 478.41 149.73 478.57 149.73 478.73 149.73 478.88 149.73 479.04 149.73 479.2 149.73 479.35 149.74 479.51 149.74 479.67 149.74 479.82 149.74 479.98 149.74 480.14 149.74 480.3 149.74 480.45 149.74 480.61 149.74 480.77 149.74 480.92 149.74 481.08 149.74 481.24 149.74 481.4 149.75 481.55 149.75 481.71 149.75 481.87 149.75 482.02 149.75 482.18 149.75 482.34 149.75 482.49 149.75 482.65 149.75 482.81 149.75 482.97 149.75 483.12 149.75 483.28 149.75 483.44 149.75 483.59 149.75 483.75 149.76 483.91 149.76 484.06 149.76 484.22 149.76 484.38 149.76 484.54 149.76 484.69 149.76 484.85 149.76 485.01 149.76 485.16 149.76 485.32 149.76 485.48 149.76 485.64 149.76 485.79 149.76 485.95 149.76 486.11 149.76 486.26 149.76 486.42 149.76 486.58 149.76 486.73 149.77 486.89 149.77 487.05 149.77 487.21 149.77 487.36 149.77 487.52 149.77 487.68 149.77 487.83 149.77 487.99 149.77 488.15 149.77 488.31 149.77 488.46 149.77 488.62 149.77 488.78 149.77 488.93 149.77 489.09 149.77 489.25 149.77 489.4 149.77 489.56 149.77 489.72 149.77 489.88 149.77 490.03 149.77 490.19 149.77 490.35 149.77 490.5 149.77 490.66 149.77 490.82 149.78 490.98 149.78 491.13 149.78 491.29 149.78 491.45 149.78 491.6 149.78 491.76 149.78 491.92 149.78 492.07 149.78 492.23 149.78 492.39 149.78 492.55 149.78 492.7 149.78 492.86 149.78 493.02 149.78 493.17 149.78 493.33 149.78 493.49 149.78 493.64 149.78 493.8 149.78 493.96 149.78 494.12 149.78 494.27 149.78 494.43 149.78 494.59 149.78 494.74 149.78 494.9 149.78 495.06 149.78 495.22 149.78 495.37 149.78 495.53 149.78 495.69 149.78 495.84 149.78 496 149.78 496.16 149.78 496.31 149.78 496.47 149.78 496.63 149.78 496.79 149.78 496.94 149.79 497.1 149.79" fill="none" stroke="#0b8a0b" stroke-width="1.2"/><path d="M307.75 292.06h3v3h-3zM308.2 292.21h3v3h-3zM308.65 292.61h3v3h-3zM309.1 292.22h3v3h-3zM309.55 292.34h3v3h-3zM310 292.49h3v3h-3zM310.45 292.2h3v3h-3zM310.9 292.39h3v3h-3zM311.35 292.66h3v3h-3zM311.8 292.55h3v3h-3zM312.25 291.89h3v3h-3zM312.7 292.65h3v3h-3zM313.15 292.25h3v3h-3zM313.6 292.16h3v3h-3zM314.05 292.15h3v3h-3zM314.5 292.58h3v3h-3zM314.95 292.37h3v3h-3zM315.4 292.27h3v3h-3zM315.85 292.11h3v3h-3zM316.3 292.45h3v3h-3zM316.75 292.56h3v3h-3zM317.2 292.07h3v3h-3zM317.64 292.04h3v3h-3zM318.09 292.21h3v3h-3zM318.54 292.44h3v3h-3zM318.99 292.2h3v3h-3zM319.44 292.27h3v3h-3zM319.89 292.1h3v3h-3zM320.34 292.58h3v3h-3zM320.79 292.27h3v3h-3zM321.24 292.33h3v3h-3zM321.69 292.55h3v3h-3zM322.14 292.24h3v3h-3zM322.59 292.28h3v3h-3zM323.04 292.38h3v3h-3zM323.49 292.19h3v3h-3zM323.94 292.61h3v3h-3zM324.39 292.29h3v3h-3zM324.84 292.18h3v3h-3zM325.29 292.21h3v3h-3zM325.74 292.03h3v3h-3zM326.19 292.55h3v3h-3zM326.64 292.61h3v3h-3zM327.09 292.21h3v3h-3zM327.54 292.16h3v3h-3zM327.99 291.77h3v3h-3zM328.44 292.11h3v3h-3zM328.89 292.45h3v3h-3zM329.34 292.06h3v3h-3zM329.79 292.43h3v3h-3zM330.24 292.57h3v3h-3zM330.69 291.62h3v3h-3zM331.14 292.14h3v3h-3zM331.59 292.04h3v3h-3zM332.04 292.06h3v3h-3zM332.49 291.77h3v3h-3zM332.94 292.11h3v3h-3zM333.39 291.89h3v3h-3zM333.84 292.39h3v3h-3zM334.29 292.46h3v3h-3zM334.74 291.8h3v3h-3zM335.19 291.76h3v3h-3zM335.64 291.97h3v3h-3zM336.08 292.02h3v3h-3zM336.53 292.02h3v3h-3zM336.98 292.18h3v3h-3zM337.43 291.65h3v3h-3zM337.88 291.83h3v3h-3zM338.33 291.83h3v3h-3zM338.78 291.82h3v3h-3zM339.23 291.65h3v3h-3zM339.68 291.74h3v3h-3zM340.13 291.64h3v3h-3zM340.58 292.02h3v3h-3zM341.03 291.58h3v3h-3zM341.48 291.17h3v3h-3zM341.93 291.75h3v3h-3zM342.38 291.6h3v3h-3zM342.83 291.28h3v3h-3zM343.28 291.23h3v3h-3zM343.73 291.2h3v3h-3zM344.18 291.64h3v3h-3zM344.63 291.1h3v3h-3zM345.08 291.39h3v3h-3zM345.53 291.22h3v3h-3zM345.98 290.79h3v3h-3zM346.43 290.94h3v3h-3zM346.88 290.52h3v3h-3zM347.33 289.91h3v3h-3zM347.78 290.34h3v3h-3zM348.23 290.19h3v3h-3zM348.68 290.44h3v3h-3zM349.13 290.26h3v3h-3zM349.58 290.23h3v3h-3zM350.03 289.91h3v3h-3zM350.48 289.75h3v3h-3zM350.93 289.43h3v3h-3zM351.38 289.19h3v3h-3zM351.83 289.13h3v3h-3zM352.28 289.11h3v3h-3zM352.73 288.83h3v3h-3zM353.18 288.13h3v3h-3zM353.63 288.07h3v3h-3zM354.08 287.56h3v3h-3zM354.53 287.18h3v3h-3zM354.97 287.23h3v3h-3zM355.42 286.74h3v3h-3zM355.87 286.74h3v3h-3zM356.32 285.6h3v3h-3zM356.77 285.32h3v3h-3zM357.22 285.38h3v3h-3zM357.67 285.22h3v3h-3zM358.12 284.37h3v3h-3zM358.57 284.48h3v3h-3zM359.02 283.84h3v3h-3zM359.47 282.95h3v3h-3zM359.92 282.39h3v3h-3zM360.37 281.99h3v3h-3zM360.82 280.97h3v3h-3zM361.27 281.44h3v3h-3zM361.72 280.26h3v3h-3zM362.17 279.82h3v3h-3zM362.62 279.1h3v3h-3zM363.07 278.27h3v3h-3zM363.52 277.92h3v3h-3zM363.97 276.16h3v3h-3zM364.42 276.13h3v3h-3zM364.87 275.16h3v3h-3zM365.32 274.26h3v3h-3zM365.77 273.12h3v3h-3zM366.22 273.2h3v3h-3zM366.67 271.82h3v3h-3zM367.12 271.13h3v3h-3zM367.57 269.32h3v3h-3zM368.02 269.33h3v3h-3zM368.47 268h3v3h-3zM368.92 267.24h3v3h-3zM369.37 266.14h3v3h-3zM369.82 264.53h3v3h-3zM370.27 263.35h3v3h-3zM370.72 262.82h3v3h-3zM371.17 261.18h3v3h-3zM371.62 262.03h3v3h-3zM372.07 258.84h3v3h-3zM372.52 258.96h3v3h-3zM372.97 256.49h3v3h-3zM373.42 254.5h3v3h-3zM373.86 253.3h3v3h-3zM374.31 252.62h3v3h-3zM374.76 251.27h3v3h-3zM375.21 249.7h3v3h-3zM375.66 248.14h3v3h-3zM376.11 247.18h3v3h-3zM376.56 246.09h3v3h-3zM377.01 242.36h3v3h-3zM377.46 242.13h3v3h-3zM377.91 239.83h3v3h-3zM378.36 239.6h3v3h-3zM378.81 237.99h3v3h-3zM379.26 236.61h3v3h-3zM379.71 234.27h3v3h-3zM380.16 232.27h3v3h-3zM380.61 231.22h3v3h-3zM381.06 230.65h3v3h-3zM381.51 229.32h3v3h-3zM381.96 224.94h3v3h-3zM382.41 225.97h3v3h-3zM382.86 224.73h3v3h-3zM383.31 220.63h3v3h-3zM383.76 219.67h3v3h-3zM384.21 218.8h3v3h-3zM384.66 218.47h3v3h-3zM385.11 213.48h3v3h-3zM385.56 214.68h3v3h-3zM386.01 212.8h3v3h-3zM386.46 212.37h3v3h-3zM386.91 213.01h3v3h-3zM387.36 211.31h3v3h-3zM387.81 207.56h3v3h-3zM388.26 206.48h3v3h-3zM388.71 205.97h3v3h-3zM389.16 205.82h3v3h-3zM389.61 205.69h3v3h-3zM390.06 202.36h3v3h-3zM390.51 203.09h3v3h-3zM390.96 198.13h3v3h-3zM391.41 197.22h3v3h-3zM391.86 192.75h3v3h-3zM392.3 195.56h3v3h-3zM392.75 197.3h3v3h-3zM393.2 196.92h3v3h-3zM393.65 200.41h3v3h-3zM394.1 194.61h3v3h-3zM394.55 192.94h3v3h-3zM395 189.42h3v3h-3zM395.45 189.23h3v3h-3zM395.9 187.86h3v3h-3zM396.35 186.47h3v3h-3zM396.8 183.83h3v3h-3zM397.25 180.36h3v3h-3zM397.7 184.11h3v3h-3zM398.15 181.01h3v3h-3zM398.6 182.1h3v3h-3zM399.05 177.3h3v3h-3zM399.5 176.96h3v3h-3zM399.95 178.63h3v3h-3zM400.4 184.02h3v3h-3zM400.85 183.31h3v3h-3zM401.3 185.76h3v3h-3zM401.75 186.6h3v3h-3zM402.2 189.22h3v3h-3zM402.65 189.54h3v3h-3zM403.1 192.21h3v3h-3zM403.55 191.14h3v3h-3zM404 193.3h3v3h-3zM404.45 195.62h3v3h-3zM404.9 196.06h3v3h-3zM405.35 197.28h3v3h-3zM405.8 196.45h3v3h-3zM406.25 199.27h3v3h-3zM406.7 198.95h3v3h-3zM407.15 200.95h3v3h-3zM407.6 204.42h3v3h-3zM408.05 201.99h3v3h-3zM408.5 206.02h3v3h-3zM408.95 204.37h3v3h-3zM409.4 205.82h3v3h-3zM409.85 210.08h3v3h-3zM410.3 210.46h3v3h-3zM410.75 211.26h3v3h-3zM411.19 212.86h3v3h-3zM411.64 215h3v3h-3zM412.09 213.48h3v3h-3zM412.54 216.42h3v3h-3zM412.99 216.26h3v3h-3zM413.44 219.25h3v3h-3zM413.89 220.16h3v3h-3zM414.34 223.04h3v3h-3zM414.79 223.51h3v3h-3zM415.24 224.58h3v3h-3zM415.69 226.55h3v3h-3zM416.14 228.67h3v3h-3zM416.59 230.54h3v3h-3zM417.04 230.97h3v3h-3zM417.49 232.41h3v3h-3zM417.94 234.72h3v3h-3zM418.39 236.73h3v3h-3zM418.84 236.68h3v3h-3zM419.29 236.38h3v3h-3zM419.74 240.26h3v3h-3zM420.19 241.57h3v3h-3zM420.64 242.64h3v3h-3zM421.09 246.84h3v3h-3zM421.54 246.05h3v3h-3zM421.99 248.63h3v3h-3zM422.44 248.24h3v3h-3zM422.89 250.44h3v3h-3zM423.34 252.05h3v3h-3zM423.79 253.28h3v3h-3zM424.24 254.22h3v3h-3zM424.69 256.29h3v3h-3zM425.14 257.24h3v3h-3zM425.59 259.37h3v3h-3zM426.04 259.54h3v3h-3zM426.49 260.33h3v3h-3zM426.94 261.02h3v3h-3zM427.39 262.91h3v3h-3zM427.84 264.08h3v3h-3zM428.29 264.81h3v3h-3zM428.74 266.25h3v3h-3zM429.19 266.45h3v3h-3zM429.64 268.09h3v3h-3zM430.08 269.65h3v3h-3zM430.53 270.14h3v3h-3zM430.98 271.21h3v3h-3zM431.43 272.34h3v3h-3zM431.88 273.12h3v3h-3zM432.33 274.67h3v3h-3zM432.78 275.8h3v3h-3zM433.23 276.51h3v3h-3zM433.68 276.86h3v3h-3zM434.13 277.73h3v3h-3zM434.58 277.88h3v3h-3zM435.03 279.33h3v3h-3zM435.48 279.46h3v3h-3zM435.93 279.89h3v3h-3zM436.38 280.57h3v3h-3zM436.83 280.78h3v3h-3zM437.28 281.06h3v3h-3zM437.73 282.5h3v3h-3zM438.18 282.51h3v3h-3zM438.63 283.46h3v3h-3zM439.08 283.65h3v3h-3zM439.53 284.16h3v3h-3zM439.98 284.98h3v3h-3zM440.43 285.29h3v3h-3zM440.88 285.71h3v3h-3zM441.33 286.02h3v3h-3zM441.78 286.26h3v3h-3zM442.23 286.95h3v3h-3zM442.68 287.28h3v3h-3zM443.13 287.1h3v3h-3zM443.58 288.02h3v3h-3zM444.03 288.02h3v3h-3zM444.48 287.96h3v3h-3zM444.93 289.11h3v3h-3zM445.38 288.87h3v3h-3zM445.83 288.74h3v3h-3zM446.28 289.53h3v3h-3zM446.73 288.67h3v3h-3zM447.18 290.11h3v3h-3zM447.63 289.36h3v3h-3zM448.08 289.5h3v3h-3zM448.52 289.78h3v3h-3zM448.97 290.25h3v3h-3zM449.42 290.2h3v3h-3zM449.87 290.65h3v3h-3zM450.32 290.39h3v3h-3zM450.77 290.96h3v3h-3zM451.22 290.86h3v3h-3zM451.67 290.66h3v3h-3zM452.12 291.25h3v3h-3zM452.57 291.18h3v3h-3zM453.02 291.14h3v3h-3zM453.47 291.58h3v3h-3zM453.92 291.06h3v3h-3zM454.37 291.34h3v3h-3zM454.82 291.86h3v3h-3zM455.27 291.54h3v3h-3zM455.72 291.78h3v3h-3zM456.17 291.82h3v3h-3zM456.62 291.69h3v3h-3zM457.07 291.92h3v3h-3zM457.52 291.55h3v3h-3zM457.97 291.99h3v3h-3zM458.42 291.66h3v3h-3zM458.87 291.91h3v3h-3zM459.32 291.74h3v3h-3zM459.77 292.08h3v3h-3zM460.22 292.11h3v3h-3zM460.67 292.29h3v3h-3zM461.12 291.91h3v3h-3zM461.57 291.85h3v3h-3zM462.02 291.6h3v3h-3zM462.47 291.81h3v3h-3zM462.92 292.06h3v3h-3zM463.37 292.18h3v3h-3zM463.82 292.06h3v3h-3zM464.27 292.16h3v3h-3zM464.72 291.84h3v3h-3zM465.17 291.96h3v3h-3zM465.62 292.39h3v3h-3zM466.07 292.36h3v3h-3zM466.52 291.9h3v3h-3zM466.97 292.15h3v3h-3zM467.41 292.28h3v3h-3zM467.86 291.96h3v3h-3zM468.31 292.33h3v3h-3zM468.76 292.31h3v3h-3zM469.21 292.35h3v3h-3zM469.66 292.71h3v3h-3zM470.11 292.06h3v3h-3zM470.56 292.54h3v3h-3zM471.01 292.4h3v3h-3zM471.46 292.44h3v3h-3zM471.91 292.11h3v3h-3zM472.36 292.29h3v3h-3zM472.81 292.27h3v3h-3zM473.26 292.67h3v3h-3zM473.71 292.3h3v3h-3zM474.16 292.62h3v3h-3zM474.61 292.21h3v3h-3zM475.06 292.2h3v3h-3zM475.51 292.29h3v3h-3zM475.96 291.82h3v3h-3zM476.41 292.17h3v3h-3zM476.86 292.15h3v3h-3zM477.31 292.26h3v3h-3zM477.76 292.34h3v3h-3zM478.21 292.07h3v3h-3zM478.66 292.04h3v3h-3zM479.11 292.59h3v3h-3zM479.56 292.05h3v3h-3zM480.01 292.18h3v3h-3zM480.46 292.08h3v3h-3zM480.91 292.19h3v3h-3zM481.36 292.58h3v3h-3zM481.81 292.57h3v3h-3zM482.26 291.88h3v3h-3zM482.71 292.24h3v3h-3zM483.16 292.62h3v3h-3zM483.61 292.22h3v3h-3zM484.06 292.38h3v3h-3zM484.51 292.72h3v3h-3zM484.96 292.83h3v3h-3zM485.41 292.67h3v3h-3zM485.86 292.24h3v3h-3zM486.3 292.31h3v3h-3zM486.75 292.36h3v3h-3zM487.2 292.23h3v3h-3zM487.65 292.16h3v3h-3zM488.1 292.78h3v3h-3zM488.55 292.37h3v3h-3zM489 292.49h3v3h-3zM489.45 292.58h3v3h-3zM489.9 292.43h3v3h-3zM490.35 292.33h3v3h-3zM490.8 292.36h3v3h-3zM491.25 292.63h3v3h-3zM491.7 292.41h3v3h-3zM492.15 291.84h3v3h-3zM492.6 292.54h3v3h-3zM493.05 292.69h3v3h-3zM493.5 292.24h3v3h-3zM493.95 292.16h3v3h-3zM494.4 292.19h3v3h-3zM494.85 292.56h3v3h-3zM495.3 292.07h3v3h-3z" fill="none" stroke="#0000ff" stroke-width="0.65" opacity="0.8"/><path d="M308.8 293.8 308.96 293.8 309.11 293.8 309.27 293.8 309.43 293.8 309.59 293.8 309.74 293.8 309.9 293.8 310.06 293.8 310.21 293.8 310.37 293.8 310.53 293.8 310.68 293.8 310.84 293.8 311 293.8 311.16 293.8 311.31 293.8 311.47 293.8 311.63 293.8 311.78 293.8 311.94 293.8 312.1 293.8 312.26 293.8 312.41 293.8 312.57 293.8 312.73 293.8 312.88 293.8 313.04 293.8 313.2 293.8 313.35 293.8 313.51 293.8 313.67 293.8 313.83 293.8 313.98 293.8 314.14 293.8 314.3 293.8 314.45 293.8 314.61 293.8 314.77 293.8 314.93 293.8 315.08 293.8 315.24 293.8 315.4 293.8 315.55 293.8 315.71 293.8 315.87 293.8 316.02 293.8 316.18 293.8 316.34 293.8 316.5 293.8 316.65 293.8 316.81 293.8 316.97 293.8 317.12 293.8 317.28 293.8 317.44 293.8 317.59 293.8 317.75 293.8 317.91 293.8 318.07 293.8 318.22 293.8 318.38 293.8 318.54 293.8 318.69 293.8 318.85 293.8 319.01 293.79 319.17 293.79 319.32 293.79 319.48 293.79 319.64 293.79 319.79 293.79 319.95 293.79 320.11 293.79 320.26 293.79 320.42 293.79 320.58 293.79 320.74 293.79 320.89 293.79 321.05 293.79 321.21 293.79 321.36 293.79 321.52 293.79 321.68 293.79 321.84 293.79 321.99 293.79 322.15 293.79 322.31 293.79 322.46 293.79 322.62 293.79 322.78 293.79 322.93 293.79 323.09 293.79 323.25 293.79 323.41 293.79 323.56 293.78 323.72 293.78 323.88 293.78 324.03 293.78 324.19 293.78 324.35 293.78 324.51 293.78 324.66 293.78 324.82 293.78 324.98 293.78 325.13 293.78 325.29 293.78 325.45 293.78 325.6 293.78 325.76 293.78 325.92 293.77 326.08 293.77 326.23 293.77 326.39 293.77 326.55 293.77 326.7 293.77 326.86 293.77 327.02 293.77 327.17 293.77 327.33 293.76 327.49 293.76 327.65 293.76 327.8 293.76 327.96 293.76 328.12 293.76 328.27 293.76 328.43 293.76 328.59 293.75 328.75 293.75 328.9 293.75 329.06 293.75 329.22 293.75 329.37 293.75 329.53 293.74 329.69 293.74 329.84 293.74 330 293.74 330.16 293.74 330.32 293.73 330.47 293.73 330.63 293.73 330.79 293.73 330.94 293.72 331.1 293.72 331.26 293.72 331.42 293.72 331.57 293.71 331.73 293.71 331.89 293.71 332.04 293.7 332.2 293.7 332.36 293.7 332.51 293.7 332.67 293.69 332.83 293.69 332.99 293.68 333.14 293.68 333.3 293.68 333.46 293.67 333.61 293.67 333.77 293.67 333.93 293.66 334.08 293.66 334.24 293.65 334.4 293.65 334.56 293.64 334.71 293.64 334.87 293.63 335.03 293.63 335.18 293.62 335.34 293.62 335.5 293.61 335.66 293.61 335.81 293.6 335.97 293.59 336.13 293.59 336.28 293.58 336.44 293.57 336.6 293.57 336.75 293.56 336.91 293.55 337.07 293.54 337.23 293.54 337.38 293.53 337.54 293.52 337.7 293.51 337.85 293.5 338.01 293.5 338.17 293.49 338.33 293.48 338.48 293.47 338.64 293.46 338.8 293.45 338.95 293.44 339.11 293.43 339.27 293.42 339.42 293.4 339.58 293.39 339.74 293.38 339.9 293.37 340.05 293.36 340.21 293.34 340.37 293.33 340.52 293.32 340.68 293.3 340.84 293.29 340.99 293.28 341.15 293.26 341.31 293.25 341.47 293.23 341.62 293.21 341.78 293.2 341.94 293.18 342.09 293.16 342.25 293.15 342.41 293.13 342.57 293.11 342.72 293.09 342.88 293.07 343.04 293.05 343.19 293.03 343.35 293.01 343.51 292.99 343.66 292.97 343.82 292.94 343.98 292.92 344.14 292.9 344.29 292.87 344.45 292.85 344.61 292.82 344.76 292.8 344.92 292.77 345.08 292.75 345.24 292.72 345.39 292.69 345.55 292.66 345.71 292.63 345.86 292.6 346.02 292.57 346.18 292.54 346.33 292.5 346.49 292.47 346.65 292.44 346.81 292.4 346.96 292.37 347.12 292.33 347.28 292.29 347.43 292.26 347.59 292.22 347.75 292.18 347.91 292.14 348.06 292.1 348.22 292.05 348.38 292.01 348.53 291.97 348.69 291.92 348.85 291.88 349 291.83 349.16 291.78 349.32 291.73 349.48 291.68 349.63 291.63 349.79 291.58 349.95 291.52 350.1 291.47 350.26 291.41 350.42 291.36 350.57 291.3 350.73 291.24 350.89 291.18 351.05 291.12 351.2 291.06 351.36 290.99 351.52 290.93 351.67 290.86 351.83 290.79 351.99 290.72 352.15 290.65 352.3 290.58 352.46 290.51 352.62 290.43 352.77 290.36 352.93 290.28 353.09 290.2 353.24 290.12 353.4 290.04 353.56 289.95 353.72 289.87 353.87 289.78 354.03 289.69 354.19 289.6 354.34 289.51 354.5 289.42 354.66 289.32 354.82 289.23 354.97 289.13 355.13 289.03 355.29 288.93 355.44 288.82 355.6 288.72 355.76 288.61 355.91 288.5 356.07 288.39 356.23 288.27 356.39 288.16 356.54 288.04 356.7 287.92 356.86 287.8 357.01 287.68 357.17 287.55 357.33 287.42 357.48 287.29 357.64 287.16 357.8 287.03 357.96 286.89 358.11 286.75 358.27 286.61 358.43 286.47 358.58 286.32 358.74 286.17 358.9 286.02 359.06 285.87 359.21 285.72 359.37 285.56 359.53 285.4 359.68 285.24 359.84 285.07 360 284.9 360.15 284.73 360.31 284.56 360.47 284.39 360.63 284.21 360.78 284.03 360.94 283.85 361.1 283.66 361.25 283.47 361.41 283.28 361.57 283.09 361.73 282.89 361.88 282.69 362.04 282.49 362.2 282.28 362.35 282.08 362.51 281.87 362.67 281.65 362.82 281.44 362.98 281.22 363.14 281 363.3 280.77 363.45 280.54 363.61 280.31 363.77 280.08 363.92 279.84 364.08 279.6 364.24 279.36 364.4 279.11 364.55 278.86 364.71 278.61 364.87 278.35 365.02 278.09 365.18 277.83 365.34 277.56 365.49 277.3 365.65 277.02 365.81 276.75 365.97 276.47 366.12 276.19 366.28 275.9 366.44 275.62 366.59 275.32 366.75 275.03 366.91 274.73 367.06 274.43 367.22 274.13 367.38 273.82 367.54 273.51 367.69 273.19 367.85 272.88 368.01 272.55 368.16 272.23 368.32 271.9 368.48 271.57 368.64 271.24 368.79 270.9 368.95 270.56 369.11 270.21 369.26 269.87 369.42 269.51 369.58 269.16 369.73 268.8 369.89 268.44 370.05 268.08 370.21 267.71 370.36 267.34 370.52 266.96 370.68 266.59 370.83 266.21 370.99 265.82 371.15 265.43 371.31 265.04 371.46 264.65 371.62 264.25 371.78 263.85 371.93 263.45 372.09 263.04 372.25 262.63 372.4 262.22 372.56 261.8 372.72 261.38 372.88 260.96 373.03 260.53 373.19 260.11 373.35 259.67 373.5 259.24 373.66 258.8 373.82 258.36 373.97 257.92 374.13 257.47 374.29 257.02 374.45 256.57 374.6 256.12 374.76 255.66 374.92 255.2 375.07 254.74 375.23 254.27 375.39 253.81 375.55 253.33 375.7 252.86 375.86 252.39 376.02 251.91 376.17 251.43 376.33 250.95 376.49 250.46 376.64 249.97 376.8 249.48 376.96 248.99 377.12 248.5 377.27 248 377.43 247.51 377.59 247.01 377.74 246.51 377.9 246 378.06 245.5 378.22 244.99 378.37 244.48 378.53 243.97 378.69 243.46 378.84 242.95 379 242.43 379.16 241.91 379.31 241.4 379.47 240.88 379.63 240.36 379.79 239.84 379.94 239.31 380.1 238.79 380.26 238.27 380.41 237.74 380.57 237.22 380.73 236.69 380.88 236.16 381.04 235.64 381.2 235.11 381.36 234.58 381.51 234.05 381.67 233.52 381.83 232.99 381.98 232.46 382.14 231.93 382.3 231.4 382.46 230.87 382.61 230.34 382.77 229.81 382.93 229.28 383.08 228.76 383.24 228.23 383.4 227.7 383.55 227.17 383.71 226.65 383.87 226.12 384.03 225.6 384.18 225.08 384.34 224.55 384.5 224.03 384.65 223.51 384.81 222.99 384.97 222.48 385.13 221.96 385.28 221.45 385.44 220.94 385.6 220.43 385.75 219.92 385.91 219.41 386.07 218.91 386.22 218.4 386.38 217.9 386.54 217.41 386.7 216.91 386.85 216.42 387.01 215.93 387.17 215.44 387.32 214.96 387.48 214.47 387.64 213.99 387.8 213.52 387.95 213.05 388.11 212.58 388.27 212.11 388.42 211.65 388.58 211.19 388.74 210.73 388.89 210.28 389.05 209.83 389.21 209.38 389.37 208.94 389.52 208.51 389.68 208.07 389.84 207.64 389.99 207.22 390.15 206.8 390.31 206.38 390.46 205.97 390.62 205.56 390.78 205.16 390.94 204.76 391.09 204.37 391.25 203.98 391.41 203.6 391.56 203.22 391.72 202.85 391.88 202.48 392.04 202.12 392.19 201.76 392.35 201.41 392.51 201.07 392.66 200.73 392.82 200.39 392.98 200.06 393.13 199.74 393.29 199.42 393.45 199.11 393.61 198.8 393.76 198.5 393.92 198.21 394.08 197.92 394.23 197.64 394.39 197.37 394.55 197.1 394.71 196.84 394.86 196.58 395.02 196.33 395.18 196.09 395.33 195.85 395.49 195.62 395.65 195.4 395.8 195.18 395.96 194.97 396.12 194.77 396.28 194.58 396.43 194.39 396.59 194.21 396.75 194.03 396.9 193.87 397.06 193.71 397.22 193.55 397.37 193.41 397.53 193.27 397.69 193.14 397.85 193.01 398 192.89 398.16 192.78 398.32 192.68 398.47 192.59 398.63 192.5 398.79 192.42 398.95 192.35 399.1 192.28 399.26 192.22 399.42 192.17 399.57 192.13 399.73 192.09 399.89 192.06 400.04 192.04 400.2 192.03 400.36 192.03 400.52 192.03 400.67 192.04 400.83 192.05 400.99 192.08 401.14 192.11 401.3 192.15 401.46 192.19 401.62 192.25 401.77 192.31 401.93 192.38 402.09 192.46 402.24 192.54 402.4 192.63 402.56 192.73 402.71 192.84 402.87 192.95 403.03 193.07 403.19 193.2 403.34 193.33 403.5 193.47 403.66 193.62 403.81 193.78 403.97 193.94 404.13 194.12 404.28 194.29 404.44 194.48 404.6 194.67 404.76 194.87 404.91 195.07 405.07 195.29 405.23 195.5 405.38 195.73 405.54 195.96 405.7 196.2 405.86 196.45 406.01 196.7 406.17 196.96 406.33 197.22 406.48 197.5 406.64 197.77 406.8 198.06 406.95 198.35 407.11 198.65 407.27 198.95 407.43 199.26 407.58 199.57 407.74 199.89 407.9 200.22 408.05 200.55 408.21 200.89 408.37 201.23 408.53 201.58 408.68 201.93 408.84 202.29 409 202.66 409.15 203.03 409.31 203.4 409.47 203.78 409.62 204.17 409.78 204.56 409.94 204.95 410.1 205.35 410.25 205.76 410.41 206.17 410.57 206.58 410.72 207 410.88 207.42 411.04 207.85 411.2 208.28 411.35 208.71 411.51 209.15 411.67 209.59 411.82 210.04 411.98 210.49 412.14 210.95 412.29 211.4 412.45 211.87 412.61 212.33 412.77 212.8 412.92 213.27 413.08 213.74 413.24 214.22 413.39 214.7 413.55 215.19 413.71 215.67 413.86 216.16 414.02 216.65 414.18 217.15 414.34 217.64 414.49 218.14 414.65 218.64 414.81 219.15 414.96 219.65 415.12 220.16 415.28 220.67 415.44 221.18 415.59 221.69 415.75 222.21 415.91 222.72 416.06 223.24 416.22 223.76 416.38 224.28 416.53 224.8 416.69 225.32 416.85 225.85 417.01 226.37 417.16 226.9 417.32 227.42 417.48 227.95 417.63 228.48 417.79 229.01 417.95 229.54 418.11 230.06 418.26 230.59 418.42 231.12 418.58 231.65 418.73 232.18 418.89 232.71 419.05 233.24 419.2 233.77 419.36 234.3 419.52 234.83 419.68 235.36 419.83 235.89 419.99 236.41 420.15 236.94 420.3 237.47 420.46 237.99 420.62 238.52 420.77 239.04 420.93 239.56 421.09 240.08 421.25 240.61 421.4 241.12 421.56 241.64 421.72 242.16 421.87 242.68 422.03 243.19 422.19 243.7 422.35 244.21 422.5 244.72 422.66 245.23 422.82 245.74 422.97 246.24 423.13 246.74 423.29 247.24 423.44 247.74 423.6 248.24 423.76 248.73 423.92 249.23 424.07 249.72 424.23 250.21 424.39 250.69 424.54 251.18 424.7 251.66 424.86 252.14 425.02 252.61 425.17 253.09 425.33 253.56 425.49 254.03 425.64 254.49 425.8 254.96 425.96 255.42 426.11 255.88 426.27 256.33 426.43 256.79 426.59 257.24 426.74 257.69 426.9 258.13 427.06 258.57 427.21 259.01 427.37 259.45 427.53 259.88 427.69 260.31 427.84 260.74 428 261.16 428.16 261.58 428.31 262 428.47 262.41 428.63 262.83 428.78 263.23 428.94 263.64 429.1 264.04 429.26 264.44 429.41 264.84 429.57 265.23 429.73 265.62 429.88 266 430.04 266.39 430.2 266.77 430.35 267.14 430.51 267.51 430.67 267.88 430.83 268.25 430.98 268.61 431.14 268.97 431.3 269.33 431.45 269.68 431.61 270.03 431.77 270.38 431.93 270.72 432.08 271.06 432.24 271.4 432.4 271.73 432.55 272.06 432.71 272.39 432.87 272.71 433.02 273.03 433.18 273.34 433.34 273.66 433.5 273.97 433.65 274.27 433.81 274.57 433.97 274.87 434.12 275.17 434.28 275.46 434.44 275.75 434.6 276.04 434.75 276.32 434.91 276.6 435.07 276.88 435.22 277.15 435.38 277.42 435.54 277.69 435.69 277.95 435.85 278.21 436.01 278.47 436.17 278.73 436.32 278.98 436.48 279.23 436.64 279.47 436.79 279.71 436.95 279.95 437.11 280.19 437.26 280.42 437.42 280.65 437.58 280.88 437.74 281.1 437.89 281.32 438.05 281.54 438.21 281.75 438.36 281.97 438.52 282.18 438.68 282.38 438.84 282.59 438.99 282.79 439.15 282.98 439.31 283.18 439.46 283.37 439.62 283.56 439.78 283.75 439.93 283.93 440.09 284.11 440.25 284.29 440.41 284.47 440.56 284.64 440.72 284.82 440.88 284.98 441.03 285.15 441.19 285.31 441.35 285.47 441.51 285.63 441.66 285.79 441.82 285.94 441.98 286.09 442.13 286.24 442.29 286.39 442.45 286.53 442.6 286.68 442.76 286.82 442.92 286.95 443.08 287.09 443.23 287.22 443.39 287.35 443.55 287.48 443.7 287.61 443.86 287.73 444.02 287.86 444.17 287.98 444.33 288.1 444.49 288.21 444.65 288.33 444.8 288.44 444.96 288.55 445.12 288.66 445.27 288.77 445.43 288.87 445.59 288.97 445.75 289.08 445.9 289.17 446.06 289.27 446.22 289.37 446.37 289.46 446.53 289.56 446.69 289.65 446.84 289.74 447 289.82 447.16 289.91 447.32 289.99 447.47 290.08 447.63 290.16 447.79 290.24 447.94 290.32 448.1 290.39 448.26 290.47 448.42 290.54 448.57 290.62 448.73 290.69 448.89 290.76 449.04 290.83 449.2 290.89 449.36 290.96 449.51 291.02 449.67 291.09 449.83 291.15 449.99 291.21 450.14 291.27 450.3 291.33 450.46 291.38 450.61 291.44 450.77 291.5 450.93 291.55 451.09 291.6 451.24 291.65 451.4 291.71 451.56 291.75 451.71 291.8 451.87 291.85 452.03 291.9 452.18 291.94 452.34 291.99 452.5 292.03 452.66 292.07 452.81 292.12 452.97 292.16 453.13 292.2 453.28 292.24 453.44 292.27 453.6 292.31 453.75 292.35 453.91 292.38 454.07 292.42 454.23 292.45 454.38 292.49 454.54 292.52 454.7 292.55 454.85 292.58 455.01 292.61 455.17 292.64 455.33 292.67 455.48 292.7 455.64 292.73 455.8 292.76 455.95 292.78 456.11 292.81 456.27 292.84 456.42 292.86 456.58 292.89 456.74 292.91 456.9 292.93 457.05 292.96 457.21 292.98 457.37 293 457.52 293.02 457.68 293.04 457.84 293.06 458 293.08 458.15 293.1 458.31 293.12 458.47 293.14 458.62 293.16 458.78 293.17 458.94 293.19 459.09 293.21 459.25 293.22 459.41 293.24 459.57 293.25 459.72 293.27 459.88 293.28 460.04 293.3 460.19 293.31 460.35 293.32 460.51 293.34 460.66 293.35 460.82 293.36 460.98 293.38 461.14 293.39 461.29 293.4 461.45 293.41 461.61 293.42 461.76 293.43 461.92 293.44 462.08 293.45 462.24 293.46 462.39 293.47 462.55 293.48 462.71 293.49 462.86 293.5 463.02 293.51 463.18 293.52 463.33 293.52 463.49 293.53 463.65 293.54 463.81 293.55 463.96 293.56 464.12 293.56 464.28 293.57 464.43 293.58 464.59 293.58 464.75 293.59 464.91 293.6 465.06 293.6 465.22 293.61 465.38 293.61 465.53 293.62 465.69 293.62 465.85 293.63 466 293.64 466.16 293.64 466.32 293.65 466.48 293.65 466.63 293.65 466.79 293.66 466.95 293.66 467.1 293.67 467.26 293.67 467.42 293.68 467.57 293.68 467.73 293.68 467.89 293.69 468.05 293.69 468.2 293.69 468.36 293.7 468.52 293.7 468.67 293.7 468.83 293.71 468.99 293.71 469.15 293.71 469.3 293.72 469.46 293.72 469.62 293.72 469.77 293.72 469.93 293.73 470.09 293.73 470.24 293.73 470.4 293.73 470.56 293.73 470.72 293.74 470.87 293.74 471.03 293.74 471.19 293.74 471.34 293.74 471.5 293.75 471.66 293.75 471.82 293.75 471.97 293.75 472.13 293.75 472.29 293.75 472.44 293.76 472.6 293.76 472.76 293.76 472.91 293.76 473.07 293.76 473.23 293.76 473.39 293.76 473.54 293.77 473.7 293.77 473.86 293.77 474.01 293.77 474.17 293.77 474.33 293.77 474.49 293.77 474.64 293.77 474.8 293.77 474.96 293.77 475.11 293.78 475.27 293.78 475.43 293.78 475.58 293.78 475.74 293.78 475.9 293.78 476.06 293.78 476.21 293.78 476.37 293.78 476.53 293.78 476.68 293.78 476.84 293.78 477 293.78 477.15 293.78 477.31 293.79 477.47 293.79 477.63 293.79 477.78 293.79 477.94 293.79 478.1 293.79 478.25 293.79 478.41 293.79 478.57 293.79 478.73 293.79 478.88 293.79 479.04 293.79 479.2 293.79 479.35 293.79 479.51 293.79 479.67 293.79 479.82 293.79 479.98 293.79 480.14 293.79 480.3 293.79 480.45 293.79 480.61 293.79 480.77 293.79 480.92 293.79 481.08 293.79 481.24 293.79 481.4 293.79 481.55 293.79 481.71 293.79 481.87 293.79 482.02 293.8 482.18 293.8 482.34 293.8 482.49 293.8 482.65 293.8 482.81 293.8 482.97 293.8 483.12 293.8 483.28 293.8 483.44 293.8 483.59 293.8 483.75 293.8 483.91 293.8 484.06 293.8 484.22 293.8 484.38 293.8 484.54 293.8 484.69 293.8 484.85 293.8 485.01 293.8 485.16 293.8 485.32 293.8 485.48 293.8 485.64 293.8 485.79 293.8 485.95 293.8 486.11 293.8 486.26 293.8 486.42 293.8 486.58 293.8 486.73 293.8 486.89 293.8 487.05 293.8 487.21 293.8 487.36 293.8 487.52 293.8 487.68 293.8 487.83 293.8 487.99 293.8 488.15 293.8 488.31 293.8 488.46 293.8 488.62 293.8 488.78 293.8 488.93 293.8 489.09 293.8 489.25 293.8 489.4 293.8 489.56 293.8 489.72 293.8 489.88 293.8 490.03 293.8 490.19 293.8 490.35 293.8 490.5 293.8 490.66 293.8 490.82 293.8 490.98 293.8 491.13 293.8 491.29 293.8 491.45 293.8 491.6 293.8 491.76 293.8 491.92 293.8 492.07 293.8 492.23 293.8 492.39 293.8 492.55 293.8 492.7 293.8 492.86 293.8 493.02 293.8 493.17 293.8 493.33 293.8 493.49 293.8 493.64 293.8 493.8 293.8 493.96 293.8 494.12 293.8 494.27 293.8 494.43 293.8 494.59 293.8 494.74 293.8 494.9 293.8 495.06 293.8 495.22 293.8 495.37 293.8 495.53 293.8 495.69 293.8 495.84 293.8 496 293.8 496.16 293.8 496.31 293.8 496.47 293.8 496.63 293.8 496.79 293.8 496.94 293.8 497.1 293.8" fill="none" stroke="#0000ff" stroke-width="1.2"/><path d="M308.35 438.51a1.5 1.5 0 1 0 3 0a1.5 1.5 0 1 0 -3 0M308.68 438.38a1.5 1.5 0 1 0 3 0a1.5 1.5 0 1 0 -3 0M309.01 438.42a1.5 1.5 0 1 0 3 0a1.5 1.5 0 1 0 -3 0M309.34 438.41a1.5 1.5 0 1 0 3 0a1.5 1.5 0 1 0 -3 0M309.67 438.48a1.5 1.5 0 1 0 3 0a1.5 1.5 0 1 0 -3 0M310 438.69a1.5 1.5 0 1 0 3 0a1.5 1.5 0 1 0 -3 0M310.33 438.57a1.5 1.5 0 1 0 3 0a1.5 1.5 0 1 0 -3 0M310.66 438.72a1.5 1.5 0 1 0 3 0a1.5 1.5 0 1 0 -3 0M310.99 438.27a1.5 1.5 0 1 0 3 0a1.5 1.5 0 1 0 -3 0M311.32 438.98a1.5 1.5 0 1 0 3 0a1.5 1.5 0 1 0 -3 0M311.65 438.54a1.5 1.5 0 1 0 3 0a1.5 1.5 0 1 0 -3 0M311.98 437.93a1.5 1.5 0 1 0 3 0a1.5 1.5 0 1 0 -3 0M312.31 438.56a1.5 1.5 0 1 0 3 0a1.5 1.5 0 1 0 -3 0M312.64 438.73a1.5 1.5 0 1 0 3 0a1.5 1.5 0 1 0 -3 0M312.97 438.47a1.5 1.5 0 1 0 3 0a1.5 1.5 0 1 0 -3 0M313.3 438.16a1.5 1.5 0 1 0 3 0a1.5 1.5 0 1 0 -3 0M313.63 438.49a1.5 1.5 0 1 0 3 0a1.5 1.5 0 1 0 -3 0M313.96 438.31a1.5 1.5 0 1 0 3 0a1.5 1.5 0 1 0 -3 0M314.29 438.42a1.5 1.5 0 1 0 3 0a1.5 1.5 0 1 0 -3 0M314.62 438.52a1.5 1.5 0 1 0 3 0a1.5 1.5 0 1 0 -3 0M314.95 437.71a1.5 1.5 0 1 0 3 0a1.5 1.5 0 1 0 -3 0M315.28 438.41a1.5 1.5 0 1 0 3 0a1.5 1.5 0 1 0 -3 0M315.61 438.54a1.5 1.5 0 1 0 3 0a1.5 1.5 0 1 0 -3 0M315.94 438.52a1.5 1.5 0 1 0 3 0a1.5 1.5 0 1 0 -3 0M316.27 438.32a1.5 1.5 0 1 0 3 0a1.5 1.5 0 1 0 -3 0M316.6 438.3a1.5 1.5 0 1 0 3 0a1.5 1.5 0 1 0 -3 0M316.93 438.21a1.5 1.5 0 1 0 3 0a1.5 1.5 0 1 0 -3 0M317.26 438.35a1.5 1.5 0 1 0 3 0a1.5 1.5 0 1 0 -3 0M317.58 438.71a1.5 1.5 0 1 0 3 0a1.5 1.5 0 1 0 -3 0M317.91 438.25a1.5 1.5 0 1 0 3 0a1.5 1.5 0 1 0 -3 0M318.24 438.43a1.5 1.5 0 1 0 3 0a1.5 1.5 0 1 0 -3 0M318.57 438.42a1.5 1.5 0 1 0 3 0a1.5 1.5 0 1 0 -3 0M318.9 438.69a1.5 1.5 0 1 0 3 0a1.5 1.5 0 1 0 -3 0M319.23 438.47a1.5 1.5 0 1 0 3 0a1.5 1.5 0 1 0 -3 0M319.56 438.5a1.5 1.5 0 1 0 3 0a1.5 1.5 0 1 0 -3 0M319.89 438.33a1.5 1.5 0 1 0 3 0a1.5 1.5 0 1 0 -3 0M320.22 438.65a1.5 1.5 0 1 0 3 0a1.5 1.5 0 1 0 -3 0M320.55 438.29a1.5 1.5 0 1 0 3 0a1.5 1.5 0 1 0 -3 0M320.88 438.27a1.5 1.5 0 1 0 3 0a1.5 1.5 0 1 0 -3 0M321.21 438.54a1.5 1.5 0 1 0 3 0a1.5 1.5 0 1 0 -3 0M321.54 438.42a1.5 1.5 0 1 0 3 0a1.5 1.5 0 1 0 -3 0M321.87 438.47a1.5 1.5 0 1 0 3 0a1.5 1.5 0 1 0 -3 0M322.2 438.05a1.5 1.5 0 1 0 3 0a1.5 1.5 0 1 0 -3 0M322.53 438.83a1.5 1.5 0 1 0 3 0a1.5 1.5 0 1 0 -3 0M322.86 438.32a1.5 1.5 0 1 0 3 0a1.5 1.5 0 1 0 -3 0M323.19 438.61a1.5 1.5 0 1 0 3 0a1.5 1.5 0 1 0 -3 0M323.52 438.32a1.5 1.5 0 1 0 3 0a1.5 1.5 0 1 0 -3 0M323.85 438.01a1.5 1.5 0 1 0 3 0a1.5 1.5 0 1 0 -3 0M324.18 438.34a1.5 1.5 0 1 0 3 0a1.5 1.5 0 1 0 -3 0M324.51 438.15a1.5 1.5 0 1 0 3 0a1.5 1.5 0 1 0 -3 0M324.84 438.37a1.5 1.5 0 1 0 3 0a1.5 1.5 0 1 0 -3 0M325.17 437.71a1.5 1.5 0 1 0 3 0a1.5 1.5 0 1 0 -3 0M325.5 437.94a1.5 1.5 0 1 0 3 0a1.5 1.5 0 1 0 -3 0M325.83 437.88a1.5 1.5 0 1 0 3 0a1.5 1.5 0 1 0 -3 0M326.16 438.43a1.5 1.5 0 1 0 3 0a1.5 1.5 0 1 0 -3 0M326.49 438.36a1.5 1.5 0 1 0 3 0a1.5 1.5 0 1 0 -3 0M326.82 437.85a1.5 1.5 0 1 0 3 0a1.5 1.5 0 1 0 -3 0M327.15 438.13a1.5 1.5 0 1 0 3 0a1.5 1.5 0 1 0 -3 0M327.48 438.13a1.5 1.5 0 1 0 3 0a1.5 1.5 0 1 0 -3 0M327.81 437.98a1.5 1.5 0 1 0 3 0a1.5 1.5 0 1 0 -3 0M328.14 438.33a1.5 1.5 0 1 0 3 0a1.5 1.5 0 1 0 -3 0M328.47 437.84a1.5 1.5 0 1 0 3 0a1.5 1.5 0 1 0 -3 0M328.8 438a1.5 1.5 0 1 0 3 0a1.5 1.5 0 1 0 -3 0M329.13 437.88a1.5 1.5 0 1 0 3 0a1.5 1.5 0 1 0 -3 0M329.46 438.13a1.5 1.5 0 1 0 3 0a1.5 1.5 0 1 0 -3 0M329.79 437.84a1.5 1.5 0 1 0 3 0a1.5 1.5 0 1 0 -3 0M330.12 438.1a1.5 1.5 0 1 0 3 0a1.5 1.5 0 1 0 -3 0M330.45 437.7a1.5 1.5 0 1 0 3 0a1.5 1.5 0 1 0 -3 0M330.78 437.64a1.5 1.5 0 1 0 3 0a1.5 1.5 0 1 0 -3 0M331.11 437.67a1.5 1.5 0 1 0 3 0a1.5 1.5 0 1 0 -3 0M331.44 437.74a1.5 1.5 0 1 0 3 0a1.5 1.5 0 1 0 -3 0M331.77 437.69a1.5 1.5 0 1 0 3 0a1.5 1.5 0 1 0 -3 0M332.1 438.44a1.5 1.5 0 1 0 3 0a1.5 1.5 0 1 0 -3 0M332.43 437.6a1.5 1.5 0 1 0 3 0a1.5 1.5 0 1 0 -3 0M332.76 437.84a1.5 1.5 0 1 0 3 0a1.5 1.5 0 1 0 -3 0M333.09 437.73a1.5 1.5 0 1 0 3 0a1.5 1.5 0 1 0 -3 0M333.42 437.79a1.5 1.5 0 1 0 3 0a1.5 1.5 0 1 0 -3 0M333.75 438.02a1.5 1.5 0 1 0 3 0a1.5 1.5 0 1 0 -3 0M334.08 437.8a1.5 1.5 0 1 0 3 0a1.5 1.5 0 1 0 -3 0M334.41 437.5a1.5 1.5 0 1 0 3 0a1.5 1.5 0 1 0 -3 0M334.74 437.3a1.5 1.5 0 1 0 3 0a1.5 1.5 0 1 0 -3 0M335.07 437.74a1.5 1.5 0 1 0 3 0a1.5 1.5 0 1 0 -3 0M335.4 437.77a1.5 1.5 0 1 0 3 0a1.5 1.5 0 1 0 -3 0M335.73 437.2a1.5 1.5 0 1 0 3 0a1.5 1.5 0 1 0 -3 0M336.05 437.71a1.5 1.5 0 1 0 3 0a1.5 1.5 0 1 0 -3 0M336.38 436.99a1.5 1.5 0 1 0 3 0a1.5 1.5 0 1 0 -3 0M336.71 437.42a1.5 1.5 0 1 0 3 0a1.5 1.5 0 1 0 -3 0M337.04 437.61a1.5 1.5 0 1 0 3 0a1.5 1.5 0 1 0 -3 0M337.37 437.14a1.5 1.5 0 1 0 3 0a1.5 1.5 0 1 0 -3 0M337.7 436.94a1.5 1.5 0 1 0 3 0a1.5 1.5 0 1 0 -3 0M338.03 437.62a1.5 1.5 0 1 0 3 0a1.5 1.5 0 1 0 -3 0M338.36 436.89a1.5 1.5 0 1 0 3 0a1.5 1.5 0 1 0 -3 0M338.69 437.28a1.5 1.5 0 1 0 3 0a1.5 1.5 0 1 0 -3 0M339.02 436.83a1.5 1.5 0 1 0 3 0a1.5 1.5 0 1 0 -3 0M339.35 437.21a1.5 1.5 0 1 0 3 0a1.5 1.5 0 1 0 -3 0M339.68 437.44a1.5 1.5 0 1 0 3 0a1.5 1.5 0 1 0 -3 0M340.01 436.92a1.5 1.5 0 1 0 3 0a1.5 1.5 0 1 0 -3 0M340.34 436.77a1.5 1.5 0 1 0 3 0a1.5 1.5 0 1 0 -3 0M340.67 436.45a1.5 1.5 0 1 0 3 0a1.5 1.5 0 1 0 -3 0M341 436.49a1.5 1.5 0 1 0 3 0a1.5 1.5 0 1 0 -3 0M341.33 436.67a1.5 1.5 0 1 0 3 0a1.5 1.5 0 1 0 -3 0M341.66 436.83a1.5 1.5 0 1 0 3 0a1.5 1.5 0 1 0 -3 0M341.99 436.83a1.5 1.5 0 1 0 3 0a1.5 1.5 0 1 0 -3 0M342.32 436.72a1.5 1.5 0 1 0 3 0a1.5 1.5 0 1 0 -3 0M342.65 436.78a1.5 1.5 0 1 0 3 0a1.5 1.5 0 1 0 -3 0M342.98 436.59a1.5 1.5 0 1 0 3 0a1.5 1.5 0 1 0 -3 0M343.31 437.05a1.5 1.5 0 1 0 3 0a1.5 1.5 0 1 0 -3 0M343.64 436.35a1.5 1.5 0 1 0 3 0a1.5 1.5 0 1 0 -3 0M343.97 436.33a1.5 1.5 0 1 0 3 0a1.5 1.5 0 1 0 -3 0M344.3 435.66a1.5 1.5 0 1 0 3 0a1.5 1.5 0 1 0 -3 0M344.63 436a1.5 1.5 0 1 0 3 0a1.5 1.5 0 1 0 -3 0M344.96 436.2a1.5 1.5 0 1 0 3 0a1.5 1.5 0 1 0 -3 0M345.29 435.88a1.5 1.5 0 1 0 3 0a1.5 1.5 0 1 0 -3 0M345.62 436.21a1.5 1.5 0 1 0 3 0a1.5 1.5 0 1 0 -3 0M345.95 435.98a1.5 1.5 0 1 0 3 0a1.5 1.5 0 1 0 -3 0M346.28 436.18a1.5 1.5 0 1 0 3 0a1.5 1.5 0 1 0 -3 0M346.61 435.33a1.5 1.5 0 1 0 3 0a1.5 1.5 0 1 0 -3 0M346.94 435.42a1.5 1.5 0 1 0 3 0a1.5 1.5 0 1 0 -3 0M347.27 435.73a1.5 1.5 0 1 0 3 0a1.5 1.5 0 1 0 -3 0M347.6 435.37a1.5 1.5 0 1 0 3 0a1.5 1.5 0 1 0 -3 0M347.93 435.03a1.5 1.5 0 1 0 3 0a1.5 1.5 0 1 0 -3 0M348.26 435.02a1.5 1.5 0 1 0 3 0a1.5 1.5 0 1 0 -3 0M348.59 434.94a1.5 1.5 0 1 0 3 0a1.5 1.5 0 1 0 -3 0M348.92 435.1a1.5 1.5 0 1 0 3 0a1.5 1.5 0 1 0 -3 0M349.25 434.93a1.5 1.5 0 1 0 3 0a1.5 1.5 0 1 0 -3 0M349.58 434.63a1.5 1.5 0 1 0 3 0a1.5 1.5 0 1 0 -3 0M349.91 434.31a1.5 1.5 0 1 0 3 0a1.5 1.5 0 1 0 -3 0M350.24 434.58a1.5 1.5 0 1 0 3 0a1.5 1.5 0 1 0 -3 0M350.57 434.51a1.5 1.5 0 1 0 3 0a1.5 1.5 0 1 0 -3 0M350.9 433.84a1.5 1.5 0 1 0 3 0a1.5 1.5 0 1 0 -3 0M351.23 434.17a1.5 1.5 0 1 0 3 0a1.5 1.5 0 1 0 -3 0M351.56 433.55a1.5 1.5 0 1 0 3 0a1.5 1.5 0 1 0 -3 0M351.89 433.59a1.5 1.5 0 1 0 3 0a1.5 1.5 0 1 0 -3 0M352.22 433.27a1.5 1.5 0 1 0 3 0a1.5 1.5 0 1 0 -3 0M352.55 432.91a1.5 1.5 0 1 0 3 0a1.5 1.5 0 1 0 -3 0M352.88 432.97a1.5 1.5 0 1 0 3 0a1.5 1.5 0 1 0 -3 0M353.21 432.77a1.5 1.5 0 1 0 3 0a1.5 1.5 0 1 0 -3 0M353.54 432.97a1.5 1.5 0 1 0 3 0a1.5 1.5 0 1 0 -3 0M353.87 432.73a1.5 1.5 0 1 0 3 0a1.5 1.5 0 1 0 -3 0M354.2 432.22a1.5 1.5 0 1 0 3 0a1.5 1.5 0 1 0 -3 0M354.53 431.81a1.5 1.5 0 1 0 3 0a1.5 1.5 0 1 0 -3 0M354.85 431.64a1.5 1.5 0 1 0 3 0a1.5 1.5 0 1 0 -3 0M355.18 431.21a1.5 1.5 0 1 0 3 0a1.5 1.5 0 1 0 -3 0M355.51 431.44a1.5 1.5 0 1 0 3 0a1.5 1.5 0 1 0 -3 0M355.84 431.23a1.5 1.5 0 1 0 3 0a1.5 1.5 0 1 0 -3 0M356.17 430.81a1.5 1.5 0 1 0 3 0a1.5 1.5 0 1 0 -3 0M356.5 430.79a1.5 1.5 0 1 0 3 0a1.5 1.5 0 1 0 -3 0M356.83 430.56a1.5 1.5 0 1 0 3 0a1.5 1.5 0 1 0 -3 0M357.16 430.53a1.5 1.5 0 1 0 3 0a1.5 1.5 0 1 0 -3 0M357.49 429.79a1.5 1.5 0 1 0 3 0a1.5 1.5 0 1 0 -3 0M357.82 429.99a1.5 1.5 0 1 0 3 0a1.5 1.5 0 1 0 -3 0M358.15 429.34a1.5 1.5 0 1 0 3 0a1.5 1.5 0 1 0 -3 0M358.48 429.49a1.5 1.5 0 1 0 3 0a1.5 1.5 0 1 0 -3 0M358.81 428.62a1.5 1.5 0 1 0 3 0a1.5 1.5 0 1 0 -3 0M359.14 428.79a1.5 1.5 0 1 0 3 0a1.5 1.5 0 1 0 -3 0M359.47 428.04a1.5 1.5 0 1 0 3 0a1.5 1.5 0 1 0 -3 0M359.8 428.28a1.5 1.5 0 1 0 3 0a1.5 1.5 0 1 0 -3 0M360.13 427.69a1.5 1.5 0 1 0 3 0a1.5 1.5 0 1 0 -3 0M360.46 426.97a1.5 1.5 0 1 0 3 0a1.5 1.5 0 1 0 -3 0M360.79 427.07a1.5 1.5 0 1 0 3 0a1.5 1.5 0 1 0 -3 0M361.12 426.52a1.5 1.5 0 1 0 3 0a1.5 1.5 0 1 0 -3 0M361.45 426.26a1.5 1.5 0 1 0 3 0a1.5 1.5 0 1 0 -3 0M361.78 426.3a1.5 1.5 0 1 0 3 0a1.5 1.5 0 1 0 -3 0M362.11 425.32a1.5 1.5 0 1 0 3 0a1.5 1.5 0 1 0 -3 0M362.44 424.86a1.5 1.5 0 1 0 3 0a1.5 1.5 0 1 0 -3 0M362.77 424.83a1.5 1.5 0 1 0 3 0a1.5 1.5 0 1 0 -3 0M363.1 424.03a1.5 1.5 0 1 0 3 0a1.5 1.5 0 1 0 -3 0M363.43 423.91a1.5 1.5 0 1 0 3 0a1.5 1.5 0 1 0 -3 0M363.76 423.53a1.5 1.5 0 1 0 3 0a1.5 1.5 0 1 0 -3 0M364.09 422.82a1.5 1.5 0 1 0 3 0a1.5 1.5 0 1 0 -3 0M364.42 422.53a1.5 1.5 0 1 0 3 0a1.5 1.5 0 1 0 -3 0M364.75 421.33a1.5 1.5 0 1 0 3 0a1.5 1.5 0 1 0 -3 0M365.08 421.76a1.5 1.5 0 1 0 3 0a1.5 1.5 0 1 0 -3 0M365.41 420.73a1.5 1.5 0 1 0 3 0a1.5 1.5 0 1 0 -3 0M365.74 420.19a1.5 1.5 0 1 0 3 0a1.5 1.5 0 1 0 -3 0M366.07 420.4a1.5 1.5 0 1 0 3 0a1.5 1.5 0 1 0 -3 0M366.4 419.77a1.5 1.5 0 1 0 3 0a1.5 1.5 0 1 0 -3 0M366.73 418.73a1.5 1.5 0 1 0 3 0a1.5 1.5 0 1 0 -3 0M367.06 418.35a1.5 1.5 0 1 0 3 0a1.5 1.5 0 1 0 -3 0M367.39 417.63a1.5 1.5 0 1 0 3 0a1.5 1.5 0 1 0 -3 0M367.72 416.8a1.5 1.5 0 1 0 3 0a1.5 1.5 0 1 0 -3 0M368.05 416.61a1.5 1.5 0 1 0 3 0a1.5 1.5 0 1 0 -3 0M368.38 416.16a1.5 1.5 0 1 0 3 0a1.5 1.5 0 1 0 -3 0M368.71 415.97a1.5 1.5 0 1 0 3 0a1.5 1.5 0 1 0 -3 0M369.04 414.67a1.5 1.5 0 1 0 3 0a1.5 1.5 0 1 0 -3 0M369.37 414.27a1.5 1.5 0 1 0 3 0a1.5 1.5 0 1 0 -3 0M369.7 413.32a1.5 1.5 0 1 0 3 0a1.5 1.5 0 1 0 -3 0M370.03 412.81a1.5 1.5 0 1 0 3 0a1.5 1.5 0 1 0 -3 0M370.36 412.41a1.5 1.5 0 1 0 3 0a1.5 1.5 0 1 0 -3 0M370.69 410.8a1.5 1.5 0 1 0 3 0a1.5 1.5 0 1 0 -3 0M371.02 410.53a1.5 1.5 0 1 0 3 0a1.5 1.5 0 1 0 -3 0M371.35 409.91a1.5 1.5 0 1 0 3 0a1.5 1.5 0 1 0 -3 0M371.68 409.72a1.5 1.5 0 1 0 3 0a1.5 1.5 0 1 0 -3 0M372.01 408.92a1.5 1.5 0 1 0 3 0a1.5 1.5 0 1 0 -3 0M372.34 407.85a1.5 1.5 0 1 0 3 0a1.5 1.5 0 1 0 -3 0M372.67 407.24a1.5 1.5 0 1 0 3 0a1.5 1.5 0 1 0 -3 0M373 406.6a1.5 1.5 0 1 0 3 0a1.5 1.5 0 1 0 -3 0M373.33 405.19a1.5 1.5 0 1 0 3 0a1.5 1.5 0 1 0 -3 0M373.65 404.31a1.5 1.5 0 1 0 3 0a1.5 1.5 0 1 0 -3 0M373.98 404.15a1.5 1.5 0 1 0 3 0a1.5 1.5 0 1 0 -3 0M374.31 403.13a1.5 1.5 0 1 0 3 0a1.5 1.5 0 1 0 -3 0M374.64 401.99a1.5 1.5 0 1 0 3 0a1.5 1.5 0 1 0 -3 0M374.97 401.47a1.5 1.5 0 1 0 3 0a1.5 1.5 0 1 0 -3 0M375.3 401.28a1.5 1.5 0 1 0 3 0a1.5 1.5 0 1 0 -3 0M375.63 400.09a1.5 1.5 0 1 0 3 0a1.5 1.5 0 1 0 -3 0M375.96 398.61a1.5 1.5 0 1 0 3 0a1.5 1.5 0 1 0 -3 0M376.29 397.8a1.5 1.5 0 1 0 3 0a1.5 1.5 0 1 0 -3 0M376.62 397.3a1.5 1.5 0 1 0 3 0a1.5 1.5 0 1 0 -3 0M376.95 396.06a1.5 1.5 0 1 0 3 0a1.5 1.5 0 1 0 -3 0M377.28 395.37a1.5 1.5 0 1 0 3 0a1.5 1.5 0 1 0 -3 0M377.61 394.33a1.5 1.5 0 1 0 3 0a1.5 1.5 0 1 0 -3 0M377.94 393.73a1.5 1.5 0 1 0 3 0a1.5 1.5 0 1 0 -3 0M378.27 392.16a1.5 1.5 0 1 0 3 0a1.5 1.5 0 1 0 -3 0M378.6 391.84a1.5 1.5 0 1 0 3 0a1.5 1.5 0 1 0 -3 0M378.93 390.92a1.5 1.5 0 1 0 3 0a1.5 1.5 0 1 0 -3 0M379.26 390.67a1.5 1.5 0 1 0 3 0a1.5 1.5 0 1 0 -3 0M379.59 389.71a1.5 1.5 0 1 0 3 0a1.5 1.5 0 1 0 -3 0M379.92 388.69a1.5 1.5 0 1 0 3 0a1.5 1.5 0 1 0 -3 0M380.25 387.3a1.5 1.5 0 1 0 3 0a1.5 1.5 0 1 0 -3 0M380.58 385.98a1.5 1.5 0 1 0 3 0a1.5 1.5 0 1 0 -3 0M380.91 386.73a1.5 1.5 0 1 0 3 0a1.5 1.5 0 1 0 -3 0M381.24 384.01a1.5 1.5 0 1 0 3 0a1.5 1.5 0 1 0 -3 0M381.57 382.54a1.5 1.5 0 1 0 3 0a1.5 1.5 0 1 0 -3 0M381.9 382.33a1.5 1.5 0 1 0 3 0a1.5 1.5 0 1 0 -3 0M382.23 382.28a1.5 1.5 0 1 0 3 0a1.5 1.5 0 1 0 -3 0M382.56 379.42a1.5 1.5 0 1 0 3 0a1.5 1.5 0 1 0 -3 0M382.89 379.71a1.5 1.5 0 1 0 3 0a1.5 1.5 0 1 0 -3 0M383.22 379.61a1.5 1.5 0 1 0 3 0a1.5 1.5 0 1 0 -3 0M383.55 378.29a1.5 1.5 0 1 0 3 0a1.5 1.5 0 1 0 -3 0M383.88 376.48a1.5 1.5 0 1 0 3 0a1.5 1.5 0 1 0 -3 0M384.21 374.63a1.5 1.5 0 1 0 3 0a1.5 1.5 0 1 0 -3 0M384.54 372.51a1.5 1.5 0 1 0 3 0a1.5 1.5 0 1 0 -3 0M384.87 373.08a1.5 1.5 0 1 0 3 0a1.5 1.5 0 1 0 -3 0M385.2 374.08a1.5 1.5 0 1 0 3 0a1.5 1.5 0 1 0 -3 0M385.53 372.37a1.5 1.5 0 1 0 3 0a1.5 1.5 0 1 0 -3 0M385.86 371.67a1.5 1.5 0 1 0 3 0a1.5 1.5 0 1 0 -3 0M386.19 369.58a1.5 1.5 0 1 0 3 0a1.5 1.5 0 1 0 -3 0M386.52 371.83a1.5 1.5 0 1 0 3 0a1.5 1.5 0 1 0 -3 0M386.85 366.99a1.5 1.5 0 1 0 3 0a1.5 1.5 0 1 0 -3 0M387.18 365.38a1.5 1.5 0 1 0 3 0a1.5 1.5 0 1 0 -3 0M387.51 365.87a1.5 1.5 0 1 0 3 0a1.5 1.5 0 1 0 -3 0M387.84 363.18a1.5 1.5 0 1 0 3 0a1.5 1.5 0 1 0 -3 0M388.17 365.3a1.5 1.5 0 1 0 3 0a1.5 1.5 0 1 0 -3 0M388.5 365.82a1.5 1.5 0 1 0 3 0a1.5 1.5 0 1 0 -3 0M388.83 363.49a1.5 1.5 0 1 0 3 0a1.5 1.5 0 1 0 -3 0M389.16 357.94a1.5 1.5 0 1 0 3 0a1.5 1.5 0 1 0 -3 0M389.49 357.12a1.5 1.5 0 1 0 3 0a1.5 1.5 0 1 0 -3 0M389.82 359.99a1.5 1.5 0 1 0 3 0a1.5 1.5 0 1 0 -3 0M390.15 355.05a1.5 1.5 0 1 0 3 0a1.5 1.5 0 1 0 -3 0M390.48 358.05a1.5 1.5 0 1 0 3 0a1.5 1.5 0 1 0 -3 0M390.81 352.18a1.5 1.5 0 1 0 3 0a1.5 1.5 0 1 0 -3 0M391.14 353.77a1.5 1.5 0 1 0 3 0a1.5 1.5 0 1 0 -3 0M391.47 355.48a1.5 1.5 0 1 0 3 0a1.5 1.5 0 1 0 -3 0M391.8 350.8a1.5 1.5 0 1 0 3 0a1.5 1.5 0 1 0 -3 0M392.13 355.22a1.5 1.5 0 1 0 3 0a1.5 1.5 0 1 0 -3 0M392.45 354.76a1.5 1.5 0 1 0 3 0a1.5 1.5 0 1 0 -3 0M392.78 355.66a1.5 1.5 0 1 0 3 0a1.5 1.5 0 1 0 -3 0M393.11 349.38a1.5 1.5 0 1 0 3 0a1.5 1.5 0 1 0 -3 0M393.44 349.58a1.5 1.5 0 1 0 3 0a1.5 1.5 0 1 0 -3 0M393.77 348.37a1.5 1.5 0 1 0 3 0a1.5 1.5 0 1 0 -3 0M394.1 349.29a1.5 1.5 0 1 0 3 0a1.5 1.5 0 1 0 -3 0M394.43 341.42a1.5 1.5 0 1 0 3 0a1.5 1.5 0 1 0 -3 0M394.76 348.09a1.5 1.5 0 1 0 3 0a1.5 1.5 0 1 0 -3 0M395.09 348.5a1.5 1.5 0 1 0 3 0a1.5 1.5 0 1 0 -3 0M395.42 340.28a1.5 1.5 0 1 0 3 0a1.5 1.5 0 1 0 -3 0M395.75 338.38a1.5 1.5 0 1 0 3 0a1.5 1.5 0 1 0 -3 0M396.08 341.91a1.5 1.5 0 1 0 3 0a1.5 1.5 0 1 0 -3 0M396.41 350.03a1.5 1.5 0 1 0 3 0a1.5 1.5 0 1 0 -3 0M396.74 344.74a1.5 1.5 0 1 0 3 0a1.5 1.5 0 1 0 -3 0M397.07 338.88a1.5 1.5 0 1 0 3 0a1.5 1.5 0 1 0 -3 0M397.4 341.12a1.5 1.5 0 1 0 3 0a1.5 1.5 0 1 0 -3 0M397.73 333.58a1.5 1.5 0 1 0 3 0a1.5 1.5 0 1 0 -3 0M398.06 346.63a1.5 1.5 0 1 0 3 0a1.5 1.5 0 1 0 -3 0M398.39 336.24a1.5 1.5 0 1 0 3 0a1.5 1.5 0 1 0 -3 0M398.72 342.38a1.5 1.5 0 1 0 3 0a1.5 1.5 0 1 0 -3 0M399.05 331.96a1.5 1.5 0 1 0 3 0a1.5 1.5 0 1 0 -3 0M399.38 338.86a1.5 1.5 0 1 0 3 0a1.5 1.5 0 1 0 -3 0M399.71 333.05a1.5 1.5 0 1 0 3 0a1.5 1.5 0 1 0 -3 0M400.04 323.8a1.5 1.5 0 1 0 3 0a1.5 1.5 0 1 0 -3 0M400.37 344.77a1.5 1.5 0 1 0 3 0a1.5 1.5 0 1 0 -3 0M400.7 342.88a1.5 1.5 0 1 0 3 0a1.5 1.5 0 1 0 -3 0M401.03 339.39a1.5 1.5 0 1 0 3 0a1.5 1.5 0 1 0 -3 0M401.36 341.66a1.5 1.5 0 1 0 3 0a1.5 1.5 0 1 0 -3 0M401.69 329.43a1.5 1.5 0 1 0 3 0a1.5 1.5 0 1 0 -3 0M402.02 328.18a1.5 1.5 0 1 0 3 0a1.5 1.5 0 1 0 -3 0M402.35 333.69a1.5 1.5 0 1 0 3 0a1.5 1.5 0 1 0 -3 0M402.68 341.03a1.5 1.5 0 1 0 3 0a1.5 1.5 0 1 0 -3 0M403.01 335.46a1.5 1.5 0 1 0 3 0a1.5 1.5 0 1 0 -3 0M403.34 338.67a1.5 1.5 0 1 0 3 0a1.5 1.5 0 1 0 -3 0M403.67 326.86a1.5 1.5 0 1 0 3 0a1.5 1.5 0 1 0 -3 0M404 332.96a1.5 1.5 0 1 0 3 0a1.5 1.5 0 1 0 -3 0M404.33 332.37a1.5 1.5 0 1 0 3 0a1.5 1.5 0 1 0 -3 0M404.66 337.11a1.5 1.5 0 1 0 3 0a1.5 1.5 0 1 0 -3 0M404.99 345.87a1.5 1.5 0 1 0 3 0a1.5 1.5 0 1 0 -3 0M405.32 338.84a1.5 1.5 0 1 0 3 0a1.5 1.5 0 1 0 -3 0M405.65 341a1.5 1.5 0 1 0 3 0a1.5 1.5 0 1 0 -3 0M405.98 332.77a1.5 1.5 0 1 0 3 0a1.5 1.5 0 1 0 -3 0M406.31 334.11a1.5 1.5 0 1 0 3 0a1.5 1.5 0 1 0 -3 0M406.64 339.03a1.5 1.5 0 1 0 3 0a1.5 1.5 0 1 0 -3 0M406.97 337.01a1.5 1.5 0 1 0 3 0a1.5 1.5 0 1 0 -3 0M407.3 326.37a1.5 1.5 0 1 0 3 0a1.5 1.5 0 1 0 -3 0M407.63 340.64a1.5 1.5 0 1 0 3 0a1.5 1.5 0 1 0 -3 0M407.96 340.53a1.5 1.5 0 1 0 3 0a1.5 1.5 0 1 0 -3 0M408.29 336.86a1.5 1.5 0 1 0 3 0a1.5 1.5 0 1 0 -3 0M408.62 339.71a1.5 1.5 0 1 0 3 0a1.5 1.5 0 1 0 -3 0M408.95 338.54a1.5 1.5 0 1 0 3 0a1.5 1.5 0 1 0 -3 0M409.28 333.24a1.5 1.5 0 1 0 3 0a1.5 1.5 0 1 0 -3 0M409.61 327.73a1.5 1.5 0 1 0 3 0a1.5 1.5 0 1 0 -3 0M409.94 346.35a1.5 1.5 0 1 0 3 0a1.5 1.5 0 1 0 -3 0M410.27 337.26a1.5 1.5 0 1 0 3 0a1.5 1.5 0 1 0 -3 0M410.6 336.98a1.5 1.5 0 1 0 3 0a1.5 1.5 0 1 0 -3 0M410.93 338.36a1.5 1.5 0 1 0 3 0a1.5 1.5 0 1 0 -3 0M411.25 338.96a1.5 1.5 0 1 0 3 0a1.5 1.5 0 1 0 -3 0M411.58 340.46a1.5 1.5 0 1 0 3 0a1.5 1.5 0 1 0 -3 0M411.91 334.39a1.5 1.5 0 1 0 3 0a1.5 1.5 0 1 0 -3 0M412.24 341.89a1.5 1.5 0 1 0 3 0a1.5 1.5 0 1 0 -3 0M412.57 340.6a1.5 1.5 0 1 0 3 0a1.5 1.5 0 1 0 -3 0M412.9 340a1.5 1.5 0 1 0 3 0a1.5 1.5 0 1 0 -3 0M413.23 340.67a1.5 1.5 0 1 0 3 0a1.5 1.5 0 1 0 -3 0M413.56 341.77a1.5 1.5 0 1 0 3 0a1.5 1.5 0 1 0 -3 0M413.89 337.73a1.5 1.5 0 1 0 3 0a1.5 1.5 0 1 0 -3 0M414.22 342.5a1.5 1.5 0 1 0 3 0a1.5 1.5 0 1 0 -3 0M414.55 342.02a1.5 1.5 0 1 0 3 0a1.5 1.5 0 1 0 -3 0M414.88 343.57a1.5 1.5 0 1 0 3 0a1.5 1.5 0 1 0 -3 0M415.21 348.11a1.5 1.5 0 1 0 3 0a1.5 1.5 0 1 0 -3 0M415.54 348.36a1.5 1.5 0 1 0 3 0a1.5 1.5 0 1 0 -3 0M415.87 349.3a1.5 1.5 0 1 0 3 0a1.5 1.5 0 1 0 -3 0M416.2 345.36a1.5 1.5 0 1 0 3 0a1.5 1.5 0 1 0 -3 0M416.53 348.59a1.5 1.5 0 1 0 3 0a1.5 1.5 0 1 0 -3 0M416.86 351.1a1.5 1.5 0 1 0 3 0a1.5 1.5 0 1 0 -3 0M417.19 346.89a1.5 1.5 0 1 0 3 0a1.5 1.5 0 1 0 -3 0M417.52 346.87a1.5 1.5 0 1 0 3 0a1.5 1.5 0 1 0 -3 0M417.85 355.3a1.5 1.5 0 1 0 3 0a1.5 1.5 0 1 0 -3 0M418.18 344.45a1.5 1.5 0 1 0 3 0a1.5 1.5 0 1 0 -3 0M418.51 350.2a1.5 1.5 0 1 0 3 0a1.5 1.5 0 1 0 -3 0M418.84 351.64a1.5 1.5 0 1 0 3 0a1.5 1.5 0 1 0 -3 0M419.17 348.52a1.5 1.5 0 1 0 3 0a1.5 1.5 0 1 0 -3 0M419.5 352.65a1.5 1.5 0 1 0 3 0a1.5 1.5 0 1 0 -3 0M419.83 355.34a1.5 1.5 0 1 0 3 0a1.5 1.5 0 1 0 -3 0M420.16 347.63a1.5 1.5 0 1 0 3 0a1.5 1.5 0 1 0 -3 0M420.49 358.18a1.5 1.5 0 1 0 3 0a1.5 1.5 0 1 0 -3 0M420.82 356.42a1.5 1.5 0 1 0 3 0a1.5 1.5 0 1 0 -3 0M421.15 354.21a1.5 1.5 0 1 0 3 0a1.5 1.5 0 1 0 -3 0M421.48 360.31a1.5 1.5 0 1 0 3 0a1.5 1.5 0 1 0 -3 0M421.81 358.47a1.5 1.5 0 1 0 3 0a1.5 1.5 0 1 0 -3 0M422.14 357.8a1.5 1.5 0 1 0 3 0a1.5 1.5 0 1 0 -3 0M422.47 354.37a1.5 1.5 0 1 0 3 0a1.5 1.5 0 1 0 -3 0M422.8 362.36a1.5 1.5 0 1 0 3 0a1.5 1.5 0 1 0 -3 0M423.13 361.65a1.5 1.5 0 1 0 3 0a1.5 1.5 0 1 0 -3 0M423.46 360.5a1.5 1.5 0 1 0 3 0a1.5 1.5 0 1 0 -3 0M423.79 362.6a1.5 1.5 0 1 0 3 0a1.5 1.5 0 1 0 -3 0M424.12 366.37a1.5 1.5 0 1 0 3 0a1.5 1.5 0 1 0 -3 0M424.45 364.05a1.5 1.5 0 1 0 3 0a1.5 1.5 0 1 0 -3 0M424.78 365.64a1.5 1.5 0 1 0 3 0a1.5 1.5 0 1 0 -3 0M425.11 365.7a1.5 1.5 0 1 0 3 0a1.5 1.5 0 1 0 -3 0M425.44 365.24a1.5 1.5 0 1 0 3 0a1.5 1.5 0 1 0 -3 0M425.77 366.99a1.5 1.5 0 1 0 3 0a1.5 1.5 0 1 0 -3 0M426.1 368.34a1.5 1.5 0 1 0 3 0a1.5 1.5 0 1 0 -3 0M426.43 369.92a1.5 1.5 0 1 0 3 0a1.5 1.5 0 1 0 -3 0M426.76 372.76a1.5 1.5 0 1 0 3 0a1.5 1.5 0 1 0 -3 0M427.09 372.47a1.5 1.5 0 1 0 3 0a1.5 1.5 0 1 0 -3 0M427.42 371.99a1.5 1.5 0 1 0 3 0a1.5 1.5 0 1 0 -3 0M427.75 374.16a1.5 1.5 0 1 0 3 0a1.5 1.5 0 1 0 -3 0M428.08 374.39a1.5 1.5 0 1 0 3 0a1.5 1.5 0 1 0 -3 0M428.41 376.58a1.5 1.5 0 1 0 3 0a1.5 1.5 0 1 0 -3 0M428.74 374.39a1.5 1.5 0 1 0 3 0a1.5 1.5 0 1 0 -3 0M429.07 375.43a1.5 1.5 0 1 0 3 0a1.5 1.5 0 1 0 -3 0M429.4 378.55a1.5 1.5 0 1 0 3 0a1.5 1.5 0 1 0 -3 0M429.72 378.15a1.5 1.5 0 1 0 3 0a1.5 1.5 0 1 0 -3 0M430.05 380.25a1.5 1.5 0 1 0 3 0a1.5 1.5 0 1 0 -3 0M430.38 379.7a1.5 1.5 0 1 0 3 0a1.5 1.5 0 1 0 -3 0M430.71 381.2a1.5 1.5 0 1 0 3 0a1.5 1.5 0 1 0 -3 0M431.04 382.73a1.5 1.5 0 1 0 3 0a1.5 1.5 0 1 0 -3 0M431.37 383.66a1.5 1.5 0 1 0 3 0a1.5 1.5 0 1 0 -3 0M431.7 384.06a1.5 1.5 0 1 0 3 0a1.5 1.5 0 1 0 -3 0M432.03 385.91a1.5 1.5 0 1 0 3 0a1.5 1.5 0 1 0 -3 0M432.36 385.58a1.5 1.5 0 1 0 3 0a1.5 1.5 0 1 0 -3 0M432.69 387.52a1.5 1.5 0 1 0 3 0a1.5 1.5 0 1 0 -3 0M433.02 387.46a1.5 1.5 0 1 0 3 0a1.5 1.5 0 1 0 -3 0M433.35 388.62a1.5 1.5 0 1 0 3 0a1.5 1.5 0 1 0 -3 0M433.68 388.63a1.5 1.5 0 1 0 3 0a1.5 1.5 0 1 0 -3 0M434.01 390.26a1.5 1.5 0 1 0 3 0a1.5 1.5 0 1 0 -3 0M434.34 390.81a1.5 1.5 0 1 0 3 0a1.5 1.5 0 1 0 -3 0M434.67 393.09a1.5 1.5 0 1 0 3 0a1.5 1.5 0 1 0 -3 0M435 392.49a1.5 1.5 0 1 0 3 0a1.5 1.5 0 1 0 -3 0M435.33 393.67a1.5 1.5 0 1 0 3 0a1.5 1.5 0 1 0 -3 0M435.66 394.71a1.5 1.5 0 1 0 3 0a1.5 1.5 0 1 0 -3 0M435.99 395.82a1.5 1.5 0 1 0 3 0a1.5 1.5 0 1 0 -3 0M436.32 396.12a1.5 1.5 0 1 0 3 0a1.5 1.5 0 1 0 -3 0M436.65 397.45a1.5 1.5 0 1 0 3 0a1.5 1.5 0 1 0 -3 0M436.98 397.92a1.5 1.5 0 1 0 3 0a1.5 1.5 0 1 0 -3 0M437.31 399.11a1.5 1.5 0 1 0 3 0a1.5 1.5 0 1 0 -3 0M437.64 398.95a1.5 1.5 0 1 0 3 0a1.5 1.5 0 1 0 -3 0M437.97 400.35a1.5 1.5 0 1 0 3 0a1.5 1.5 0 1 0 -3 0M438.3 401.12a1.5 1.5 0 1 0 3 0a1.5 1.5 0 1 0 -3 0M438.63 402.04a1.5 1.5 0 1 0 3 0a1.5 1.5 0 1 0 -3 0M438.96 402.13a1.5 1.5 0 1 0 3 0a1.5 1.5 0 1 0 -3 0M439.29 402.99a1.5 1.5 0 1 0 3 0a1.5 1.5 0 1 0 -3 0M439.62 403.56a1.5 1.5 0 1 0 3 0a1.5 1.5 0 1 0 -3 0M439.95 404.67a1.5 1.5 0 1 0 3 0a1.5 1.5 0 1 0 -3 0M440.28 405.89a1.5 1.5 0 1 0 3 0a1.5 1.5 0 1 0 -3 0M440.61 406.2a1.5 1.5 0 1 0 3 0a1.5 1.5 0 1 0 -3 0M440.94 406.42a1.5 1.5 0 1 0 3 0a1.5 1.5 0 1 0 -3 0M441.27 407.53a1.5 1.5 0 1 0 3 0a1.5 1.5 0 1 0 -3 0M441.6 407.68a1.5 1.5 0 1 0 3 0a1.5 1.5 0 1 0 -3 0M441.93 408.64a1.5 1.5 0 1 0 3 0a1.5 1.5 0 1 0 -3 0M442.26 409.27a1.5 1.5 0 1 0 3 0a1.5 1.5 0 1 0 -3 0M442.59 409.88a1.5 1.5 0 1 0 3 0a1.5 1.5 0 1 0 -3 0M442.92 410.47a1.5 1.5 0 1 0 3 0a1.5 1.5 0 1 0 -3 0M443.25 411.27a1.5 1.5 0 1 0 3 0a1.5 1.5 0 1 0 -3 0M443.58 411.91a1.5 1.5 0 1 0 3 0a1.5 1.5 0 1 0 -3 0M443.91 411.93a1.5 1.5 0 1 0 3 0a1.5 1.5 0 1 0 -3 0M444.24 413.41a1.5 1.5 0 1 0 3 0a1.5 1.5 0 1 0 -3 0M444.57 413.84a1.5 1.5 0 1 0 3 0a1.5 1.5 0 1 0 -3 0M444.9 413.91a1.5 1.5 0 1 0 3 0a1.5 1.5 0 1 0 -3 0M445.23 414.94a1.5 1.5 0 1 0 3 0a1.5 1.5 0 1 0 -3 0M445.56 415.63a1.5 1.5 0 1 0 3 0a1.5 1.5 0 1 0 -3 0M445.89 416.26a1.5 1.5 0 1 0 3 0a1.5 1.5 0 1 0 -3 0M446.22 416.39a1.5 1.5 0 1 0 3 0a1.5 1.5 0 1 0 -3 0M446.55 416.7a1.5 1.5 0 1 0 3 0a1.5 1.5 0 1 0 -3 0M446.88 417.33a1.5 1.5 0 1 0 3 0a1.5 1.5 0 1 0 -3 0M447.21 418.04a1.5 1.5 0 1 0 3 0a1.5 1.5 0 1 0 -3 0M447.54 418.31a1.5 1.5 0 1 0 3 0a1.5 1.5 0 1 0 -3 0M447.87 419.35a1.5 1.5 0 1 0 3 0a1.5 1.5 0 1 0 -3 0M448.2 419.55a1.5 1.5 0 1 0 3 0a1.5 1.5 0 1 0 -3 0M448.52 420.19a1.5 1.5 0 1 0 3 0a1.5 1.5 0 1 0 -3 0M448.85 420.43a1.5 1.5 0 1 0 3 0a1.5 1.5 0 1 0 -3 0M449.18 420.83a1.5 1.5 0 1 0 3 0a1.5 1.5 0 1 0 -3 0M449.51 421.22a1.5 1.5 0 1 0 3 0a1.5 1.5 0 1 0 -3 0M449.84 422.08a1.5 1.5 0 1 0 3 0a1.5 1.5 0 1 0 -3 0M450.17 421.99a1.5 1.5 0 1 0 3 0a1.5 1.5 0 1 0 -3 0M450.5 422.85a1.5 1.5 0 1 0 3 0a1.5 1.5 0 1 0 -3 0M450.83 423.43a1.5 1.5 0 1 0 3 0a1.5 1.5 0 1 0 -3 0M451.16 423.58a1.5 1.5 0 1 0 3 0a1.5 1.5 0 1 0 -3 0M451.49 424.3a1.5 1.5 0 1 0 3 0a1.5 1.5 0 1 0 -3 0M451.82 424.34a1.5 1.5 0 1 0 3 0a1.5 1.5 0 1 0 -3 0M452.15 424.68a1.5 1.5 0 1 0 3 0a1.5 1.5 0 1 0 -3 0M452.48 425.17a1.5 1.5 0 1 0 3 0a1.5 1.5 0 1 0 -3 0M452.81 425.37a1.5 1.5 0 1 0 3 0a1.5 1.5 0 1 0 -3 0M453.14 425.9a1.5 1.5 0 1 0 3 0a1.5 1.5 0 1 0 -3 0M453.47 426.18a1.5 1.5 0 1 0 3 0a1.5 1.5 0 1 0 -3 0M453.8 426.89a1.5 1.5 0 1 0 3 0a1.5 1.5 0 1 0 -3 0M454.13 426.87a1.5 1.5 0 1 0 3 0a1.5 1.5 0 1 0 -3 0M454.46 427.39a1.5 1.5 0 1 0 3 0a1.5 1.5 0 1 0 -3 0M454.79 427.63a1.5 1.5 0 1 0 3 0a1.5 1.5 0 1 0 -3 0M455.12 427.87a1.5 1.5 0 1 0 3 0a1.5 1.5 0 1 0 -3 0M455.45 428.1a1.5 1.5 0 1 0 3 0a1.5 1.5 0 1 0 -3 0M455.78 428.82a1.5 1.5 0 1 0 3 0a1.5 1.5 0 1 0 -3 0M456.11 429.09a1.5 1.5 0 1 0 3 0a1.5 1.5 0 1 0 -3 0M456.44 429.09a1.5 1.5 0 1 0 3 0a1.5 1.5 0 1 0 -3 0M456.77 429.18a1.5 1.5 0 1 0 3 0a1.5 1.5 0 1 0 -3 0M457.1 429.48a1.5 1.5 0 1 0 3 0a1.5 1.5 0 1 0 -3 0M457.43 429.62a1.5 1.5 0 1 0 3 0a1.5 1.5 0 1 0 -3 0M457.76 429.79a1.5 1.5 0 1 0 3 0a1.5 1.5 0 1 0 -3 0M458.09 430.22a1.5 1.5 0 1 0 3 0a1.5 1.5 0 1 0 -3 0M458.42 430.58a1.5 1.5 0 1 0 3 0a1.5 1.5 0 1 0 -3 0M458.75 431.05a1.5 1.5 0 1 0 3 0a1.5 1.5 0 1 0 -3 0M459.08 431.26a1.5 1.5 0 1 0 3 0a1.5 1.5 0 1 0 -3 0M459.41 431.38a1.5 1.5 0 1 0 3 0a1.5 1.5 0 1 0 -3 0M459.74 431.43a1.5 1.5 0 1 0 3 0a1.5 1.5 0 1 0 -3 0M460.07 431.66a1.5 1.5 0 1 0 3 0a1.5 1.5 0 1 0 -3 0M460.4 431.91a1.5 1.5 0 1 0 3 0a1.5 1.5 0 1 0 -3 0M460.73 432.15a1.5 1.5 0 1 0 3 0a1.5 1.5 0 1 0 -3 0M461.06 432.17a1.5 1.5 0 1 0 3 0a1.5 1.5 0 1 0 -3 0M461.39 432.46a1.5 1.5 0 1 0 3 0a1.5 1.5 0 1 0 -3 0M461.72 432.63a1.5 1.5 0 1 0 3 0a1.5 1.5 0 1 0 -3 0M462.05 432.8a1.5 1.5 0 1 0 3 0a1.5 1.5 0 1 0 -3 0M462.38 433.18a1.5 1.5 0 1 0 3 0a1.5 1.5 0 1 0 -3 0M462.71 433.46a1.5 1.5 0 1 0 3 0a1.5 1.5 0 1 0 -3 0M463.04 433.28a1.5 1.5 0 1 0 3 0a1.5 1.5 0 1 0 -3 0M463.37 433.46a1.5 1.5 0 1 0 3 0a1.5 1.5 0 1 0 -3 0M463.7 433.76a1.5 1.5 0 1 0 3 0a1.5 1.5 0 1 0 -3 0M464.03 433.96a1.5 1.5 0 1 0 3 0a1.5 1.5 0 1 0 -3 0M464.36 433.49a1.5 1.5 0 1 0 3 0a1.5 1.5 0 1 0 -3 0M464.69 434.33a1.5 1.5 0 1 0 3 0a1.5 1.5 0 1 0 -3 0M465.02 434.35a1.5 1.5 0 1 0 3 0a1.5 1.5 0 1 0 -3 0M465.35 434.37a1.5 1.5 0 1 0 3 0a1.5 1.5 0 1 0 -3 0M465.68 434.83a1.5 1.5 0 1 0 3 0a1.5 1.5 0 1 0 -3 0M466.01 434.66a1.5 1.5 0 1 0 3 0a1.5 1.5 0 1 0 -3 0M466.34 434.4a1.5 1.5 0 1 0 3 0a1.5 1.5 0 1 0 -3 0M466.67 434.72a1.5 1.5 0 1 0 3 0a1.5 1.5 0 1 0 -3 0M467 434.91a1.5 1.5 0 1 0 3 0a1.5 1.5 0 1 0 -3 0M467.32 435.03a1.5 1.5 0 1 0 3 0a1.5 1.5 0 1 0 -3 0M467.65 435.25a1.5 1.5 0 1 0 3 0a1.5 1.5 0 1 0 -3 0M467.98 435.16a1.5 1.5 0 1 0 3 0a1.5 1.5 0 1 0 -3 0M468.31 435.52a1.5 1.5 0 1 0 3 0a1.5 1.5 0 1 0 -3 0M468.64 435.68a1.5 1.5 0 1 0 3 0a1.5 1.5 0 1 0 -3 0M468.97 435.66a1.5 1.5 0 1 0 3 0a1.5 1.5 0 1 0 -3 0M469.3 435.57a1.5 1.5 0 1 0 3 0a1.5 1.5 0 1 0 -3 0M469.63 435.79a1.5 1.5 0 1 0 3 0a1.5 1.5 0 1 0 -3 0M469.96 435.8a1.5 1.5 0 1 0 3 0a1.5 1.5 0 1 0 -3 0M470.29 436.51a1.5 1.5 0 1 0 3 0a1.5 1.5 0 1 0 -3 0M470.62 435.85a1.5 1.5 0 1 0 3 0a1.5 1.5 0 1 0 -3 0M470.95 435.67a1.5 1.5 0 1 0 3 0a1.5 1.5 0 1 0 -3 0M471.28 435.98a1.5 1.5 0 1 0 3 0a1.5 1.5 0 1 0 -3 0M471.61 436.43a1.5 1.5 0 1 0 3 0a1.5 1.5 0 1 0 -3 0M471.94 436.63a1.5 1.5 0 1 0 3 0a1.5 1.5 0 1 0 -3 0M472.27 436.44a1.5 1.5 0 1 0 3 0a1.5 1.5 0 1 0 -3 0M472.6 436.8a1.5 1.5 0 1 0 3 0a1.5 1.5 0 1 0 -3 0M472.93 436.47a1.5 1.5 0 1 0 3 0a1.5 1.5 0 1 0 -3 0M473.26 436.82a1.5 1.5 0 1 0 3 0a1.5 1.5 0 1 0 -3 0M473.59 436.54a1.5 1.5 0 1 0 3 0a1.5 1.5 0 1 0 -3 0M473.92 436.51a1.5 1.5 0 1 0 3 0a1.5 1.5 0 1 0 -3 0M474.25 437.35a1.5 1.5 0 1 0 3 0a1.5 1.5 0 1 0 -3 0M474.58 436.87a1.5 1.5 0 1 0 3 0a1.5 1.5 0 1 0 -3 0M474.91 437.15a1.5 1.5 0 1 0 3 0a1.5 1.5 0 1 0 -3 0M475.24 437.37a1.5 1.5 0 1 0 3 0a1.5 1.5 0 1 0 -3 0M475.57 437.24a1.5 1.5 0 1 0 3 0a1.5 1.5 0 1 0 -3 0M475.9 437.19a1.5 1.5 0 1 0 3 0a1.5 1.5 0 1 0 -3 0M476.23 436.95a1.5 1.5 0 1 0 3 0a1.5 1.5 0 1 0 -3 0M476.56 437.59a1.5 1.5 0 1 0 3 0a1.5 1.5 0 1 0 -3 0M476.89 437.04a1.5 1.5 0 1 0 3 0a1.5 1.5 0 1 0 -3 0M477.22 436.86a1.5 1.5 0 1 0 3 0a1.5 1.5 0 1 0 -3 0M477.55 437.23a1.5 1.5 0 1 0 3 0a1.5 1.5 0 1 0 -3 0M477.88 437.28a1.5 1.5 0 1 0 3 0a1.5 1.5 0 1 0 -3 0M478.21 437.45a1.5 1.5 0 1 0 3 0a1.5 1.5 0 1 0 -3 0M478.54 437.75a1.5 1.5 0 1 0 3 0a1.5 1.5 0 1 0 -3 0M478.87 437.4a1.5 1.5 0 1 0 3 0a1.5 1.5 0 1 0 -3 0M479.2 437.47a1.5 1.5 0 1 0 3 0a1.5 1.5 0 1 0 -3 0M479.53 437.42a1.5 1.5 0 1 0 3 0a1.5 1.5 0 1 0 -3 0M479.86 437.03a1.5 1.5 0 1 0 3 0a1.5 1.5 0 1 0 -3 0M480.19 437.49a1.5 1.5 0 1 0 3 0a1.5 1.5 0 1 0 -3 0M480.52 437.59a1.5 1.5 0 1 0 3 0a1.5 1.5 0 1 0 -3 0M480.85 437.35a1.5 1.5 0 1 0 3 0a1.5 1.5 0 1 0 -3 0M481.18 438.05a1.5 1.5 0 1 0 3 0a1.5 1.5 0 1 0 -3 0M481.51 438.03a1.5 1.5 0 1 0 3 0a1.5 1.5 0 1 0 -3 0M481.84 437.88a1.5 1.5 0 1 0 3 0a1.5 1.5 0 1 0 -3 0M482.17 437.97a1.5 1.5 0 1 0 3 0a1.5 1.5 0 1 0 -3 0M482.5 437.69a1.5 1.5 0 1 0 3 0a1.5 1.5 0 1 0 -3 0M482.83 437.95a1.5 1.5 0 1 0 3 0a1.5 1.5 0 1 0 -3 0M483.16 437.5a1.5 1.5 0 1 0 3 0a1.5 1.5 0 1 0 -3 0M483.49 437.57a1.5 1.5 0 1 0 3 0a1.5 1.5 0 1 0 -3 0M483.82 437.77a1.5 1.5 0 1 0 3 0a1.5 1.5 0 1 0 -3 0M484.15 438.05a1.5 1.5 0 1 0 3 0a1.5 1.5 0 1 0 -3 0M484.48 437.84a1.5 1.5 0 1 0 3 0a1.5 1.5 0 1 0 -3 0M484.81 437.82a1.5 1.5 0 1 0 3 0a1.5 1.5 0 1 0 -3 0M485.14 438.27a1.5 1.5 0 1 0 3 0a1.5 1.5 0 1 0 -3 0M485.47 437.96a1.5 1.5 0 1 0 3 0a1.5 1.5 0 1 0 -3 0M485.8 437.9a1.5 1.5 0 1 0 3 0a1.5 1.5 0 1 0 -3 0M486.12 438.03a1.5 1.5 0 1 0 3 0a1.5 1.5 0 1 0 -3 0M486.45 437.74a1.5 1.5 0 1 0 3 0a1.5 1.5 0 1 0 -3 0M486.78 437.83a1.5 1.5 0 1 0 3 0a1.5 1.5 0 1 0 -3 0M487.11 438.32a1.5 1.5 0 1 0 3 0a1.5 1.5 0 1 0 -3 0M487.44 438.12a1.5 1.5 0 1 0 3 0a1.5 1.5 0 1 0 -3 0M487.77 438.35a1.5 1.5 0 1 0 3 0a1.5 1.5 0 1 0 -3 0M488.1 438.04a1.5 1.5 0 1 0 3 0a1.5 1.5 0 1 0 -3 0M488.43 438.39a1.5 1.5 0 1 0 3 0a1.5 1.5 0 1 0 -3 0M488.76 437.99a1.5 1.5 0 1 0 3 0a1.5 1.5 0 1 0 -3 0M489.09 438.13a1.5 1.5 0 1 0 3 0a1.5 1.5 0 1 0 -3 0M489.42 438.01a1.5 1.5 0 1 0 3 0a1.5 1.5 0 1 0 -3 0M489.75 438.28a1.5 1.5 0 1 0 3 0a1.5 1.5 0 1 0 -3 0M490.08 438.59a1.5 1.5 0 1 0 3 0a1.5 1.5 0 1 0 -3 0M490.41 437.86a1.5 1.5 0 1 0 3 0a1.5 1.5 0 1 0 -3 0M490.74 438.32a1.5 1.5 0 1 0 3 0a1.5 1.5 0 1 0 -3 0M491.07 437.97a1.5 1.5 0 1 0 3 0a1.5 1.5 0 1 0 -3 0M491.4 438.2a1.5 1.5 0 1 0 3 0a1.5 1.5 0 1 0 -3 0M491.73 438.16a1.5 1.5 0 1 0 3 0a1.5 1.5 0 1 0 -3 0M492.06 437.9a1.5 1.5 0 1 0 3 0a1.5 1.5 0 1 0 -3 0M492.39 438.25a1.5 1.5 0 1 0 3 0a1.5 1.5 0 1 0 -3 0M492.72 438.02a1.5 1.5 0 1 0 3 0a1.5 1.5 0 1 0 -3 0M493.05 438.69a1.5 1.5 0 1 0 3 0a1.5 1.5 0 1 0 -3 0M493.38 438.16a1.5 1.5 0 1 0 3 0a1.5 1.5 0 1 0 -3 0M493.71 438.43a1.5 1.5 0 1 0 3 0a1.5 1.5 0 1 0 -3 0M494.04 438.41a1.5 1.5 0 1 0 3 0a1.5 1.5 0 1 0 -3 0M494.37 438.39a1.5 1.5 0 1 0 3 0a1.5 1.5 0 1 0 -3 0M494.7 438.32a1.5 1.5 0 1 0 3 0a1.5 1.5 0 1 0 -3 0M495.03 438.02a1.5 1.5 0 1 0 3 0a1.5 1.5 0 1 0 -3 0M495.36 438.84a1.5 1.5 0 1 0 3 0a1.5 1.5 0 1 0 -3 0" fill="none" stroke="#ff0000" stroke-width="0.6" opacity="0.75"/><path d="M308.8 438.54 308.96 438.54 309.11 438.54 309.27 438.54 309.43 438.53 309.59 438.53 309.74 438.53 309.9 438.53 310.06 438.53 310.21 438.52 310.37 438.52 310.53 438.52 310.68 438.52 310.84 438.51 311 438.51 311.16 438.51 311.31 438.51 311.47 438.51 311.63 438.5 311.78 438.5 311.94 438.5 312.1 438.5 312.26 438.49 312.41 438.49 312.57 438.49 312.73 438.49 312.88 438.48 313.04 438.48 313.2 438.48 313.35 438.48 313.51 438.47 313.67 438.47 313.83 438.47 313.98 438.47 314.14 438.46 314.3 438.46 314.45 438.46 314.61 438.45 314.77 438.45 314.93 438.45 315.08 438.45 315.24 438.44 315.4 438.44 315.55 438.44 315.71 438.44 315.87 438.43 316.02 438.43 316.18 438.43 316.34 438.42 316.5 438.42 316.65 438.42 316.81 438.41 316.97 438.41 317.12 438.41 317.28 438.4 317.44 438.4 317.59 438.4 317.75 438.39 317.91 438.39 318.07 438.39 318.22 438.38 318.38 438.38 318.54 438.38 318.69 438.37 318.85 438.37 319.01 438.37 319.17 438.36 319.32 438.36 319.48 438.36 319.64 438.35 319.79 438.35 319.95 438.35 320.11 438.34 320.26 438.34 320.42 438.33 320.58 438.33 320.74 438.33 320.89 438.32 321.05 438.32 321.21 438.31 321.36 438.31 321.52 438.31 321.68 438.3 321.84 438.3 321.99 438.29 322.15 438.29 322.31 438.28 322.46 438.28 322.62 438.28 322.78 438.27 322.93 438.27 323.09 438.26 323.25 438.26 323.41 438.25 323.56 438.25 323.72 438.24 323.88 438.24 324.03 438.23 324.19 438.23 324.35 438.22 324.51 438.22 324.66 438.21 324.82 438.21 324.98 438.2 325.13 438.2 325.29 438.19 325.45 438.19 325.6 438.18 325.76 438.18 325.92 438.17 326.08 438.16 326.23 438.16 326.39 438.15 326.55 438.15 326.7 438.14 326.86 438.13 327.02 438.13 327.17 438.12 327.33 438.12 327.49 438.11 327.65 438.1 327.8 438.1 327.96 438.09 328.12 438.08 328.27 438.08 328.43 438.07 328.59 438.06 328.75 438.06 328.9 438.05 329.06 438.04 329.22 438.03 329.37 438.03 329.53 438.02 329.69 438.01 329.84 438 330 438 330.16 437.99 330.32 437.98 330.47 437.97 330.63 437.96 330.79 437.96 330.94 437.95 331.1 437.94 331.26 437.93 331.42 437.92 331.57 437.91 331.73 437.9 331.89 437.89 332.04 437.88 332.2 437.88 332.36 437.87 332.51 437.86 332.67 437.85 332.83 437.84 332.99 437.83 333.14 437.82 333.3 437.81 333.46 437.79 333.61 437.78 333.77 437.77 333.93 437.76 334.08 437.75 334.24 437.74 334.4 437.73 334.56 437.72 334.71 437.7 334.87 437.69 335.03 437.68 335.18 437.67 335.34 437.65 335.5 437.64 335.66 437.63 335.81 437.62 335.97 437.6 336.13 437.59 336.28 437.57 336.44 437.56 336.6 437.55 336.75 437.53 336.91 437.52 337.07 437.5 337.23 437.49 337.38 437.47 337.54 437.45 337.7 437.44 337.85 437.42 338.01 437.41 338.17 437.39 338.33 437.37 338.48 437.35 338.64 437.34 338.8 437.32 338.95 437.3 339.11 437.28 339.27 437.26 339.42 437.24 339.58 437.22 339.74 437.21 339.9 437.18 340.05 437.16 340.21 437.14 340.37 437.12 340.52 437.1 340.68 437.08 340.84 437.06 340.99 437.04 341.15 437.01 341.31 436.99 341.47 436.97 341.62 436.94 341.78 436.92 341.94 436.89 342.09 436.87 342.25 436.84 342.41 436.82 342.57 436.79 342.72 436.76 342.88 436.73 343.04 436.71 343.19 436.68 343.35 436.65 343.51 436.62 343.66 436.59 343.82 436.56 343.98 436.53 344.14 436.5 344.29 436.47 344.45 436.43 344.61 436.4 344.76 436.37 344.92 436.33 345.08 436.3 345.24 436.26 345.39 436.23 345.55 436.19 345.71 436.16 345.86 436.12 346.02 436.08 346.18 436.04 346.33 436 346.49 435.96 346.65 435.92 346.81 435.88 346.96 435.84 347.12 435.79 347.28 435.75 347.43 435.71 347.59 435.66 347.75 435.62 347.91 435.57 348.06 435.52 348.22 435.48 348.38 435.43 348.53 435.38 348.69 435.33 348.85 435.28 349 435.22 349.16 435.17 349.32 435.12 349.48 435.06 349.63 435.01 349.79 434.95 349.95 434.89 350.1 434.84 350.26 434.78 350.42 434.72 350.57 434.66 350.73 434.59 350.89 434.53 351.05 434.47 351.2 434.4 351.36 434.34 351.52 434.27 351.67 434.2 351.83 434.13 351.99 434.06 352.15 433.99 352.3 433.92 352.46 433.85 352.62 433.77 352.77 433.7 352.93 433.62 353.09 433.54 353.24 433.46 353.4 433.38 353.56 433.3 353.72 433.22 353.87 433.13 354.03 433.05 354.19 432.96 354.34 432.87 354.5 432.78 354.66 432.69 354.82 432.6 354.97 432.51 355.13 432.41 355.29 432.32 355.44 432.22 355.6 432.12 355.76 432.02 355.91 431.92 356.07 431.81 356.23 431.71 356.39 431.6 356.54 431.49 356.7 431.38 356.86 431.27 357.01 431.16 357.17 431.05 357.33 430.93 357.48 430.81 357.64 430.69 357.8 430.57 357.96 430.45 358.11 430.33 358.27 430.2 358.43 430.07 358.58 429.94 358.74 429.81 358.9 429.68 359.06 429.54 359.21 429.41 359.37 429.27 359.53 429.13 359.68 428.99 359.84 428.84 360 428.7 360.15 428.55 360.31 428.4 360.47 428.25 360.63 428.09 360.78 427.94 360.94 427.78 361.1 427.62 361.25 427.46 361.41 427.29 361.57 427.13 361.73 426.96 361.88 426.79 362.04 426.62 362.2 426.44 362.35 426.27 362.51 426.09 362.67 425.91 362.82 425.72 362.98 425.54 363.14 425.35 363.3 425.16 363.45 424.97 363.61 424.78 363.77 424.58 363.92 424.38 364.08 424.18 364.24 423.98 364.4 423.77 364.55 423.56 364.71 423.35 364.87 423.14 365.02 422.92 365.18 422.71 365.34 422.49 365.49 422.26 365.65 422.04 365.81 421.81 365.97 421.58 366.12 421.35 366.28 421.12 366.44 420.88 366.59 420.64 366.75 420.4 366.91 420.15 367.06 419.9 367.22 419.65 367.38 419.4 367.54 419.15 367.69 418.89 367.85 418.63 368.01 418.37 368.16 418.1 368.32 417.83 368.48 417.56 368.64 417.29 368.79 417.01 368.95 416.74 369.11 416.45 369.26 416.17 369.42 415.89 369.58 415.6 369.73 415.3 369.89 415.01 370.05 414.71 370.21 414.41 370.36 414.11 370.52 413.81 370.68 413.5 370.83 413.19 370.99 412.88 371.15 412.56 371.31 412.24 371.46 411.92 371.62 411.6 371.78 411.28 371.93 410.95 372.09 410.62 372.25 410.28 372.4 409.95 372.56 409.61 372.72 409.27 372.88 408.92 373.03 408.57 373.19 408.23 373.35 407.87 373.5 407.52 373.66 407.16 373.82 406.8 373.97 406.44 374.13 406.08 374.29 405.71 374.45 405.34 374.6 404.97 374.76 404.59 374.92 404.22 375.07 403.84 375.23 403.45 375.39 403.07 375.55 402.68 375.7 402.29 375.86 401.9 376.02 401.51 376.17 401.11 376.33 400.71 376.49 400.31 376.64 399.91 376.8 399.51 376.96 399.1 377.12 398.69 377.27 398.28 377.43 397.86 377.59 397.45 377.74 397.03 377.9 396.61 378.06 396.19 378.22 395.76 378.37 395.34 378.53 394.91 378.69 394.48 378.84 394.05 379 393.61 379.16 393.18 379.31 392.74 379.47 392.3 379.63 391.86 379.79 391.42 379.94 390.97 380.1 390.53 380.26 390.08 380.41 389.63 380.57 389.18 380.73 388.73 380.88 388.27 381.04 387.82 381.2 387.36 381.36 386.9 381.51 386.44 381.67 385.98 381.83 385.52 381.98 385.06 382.14 384.6 382.3 384.13 382.46 383.67 382.61 383.2 382.77 382.73 382.93 382.27 383.08 381.8 383.24 381.33 383.4 380.86 383.55 380.38 383.71 379.91 383.87 379.44 384.03 378.97 384.18 378.49 384.34 378.02 384.5 377.54 384.65 377.07 384.81 376.6 384.97 376.12 385.13 375.64 385.28 375.17 385.44 374.69 385.6 374.22 385.75 373.74 385.91 373.27 386.07 372.79 386.22 372.32 386.38 371.84 386.54 371.37 386.7 370.9 386.85 370.42 387.01 369.95 387.17 369.48 387.32 369.01 387.48 368.54 387.64 368.07 387.8 367.6 387.95 367.13 388.11 366.66 388.27 366.2 388.42 365.73 388.58 365.27 388.74 364.8 388.89 364.34 389.05 363.88 389.21 363.42 389.37 362.97 389.52 362.51 389.68 362.06 389.84 361.6 389.99 361.15 390.15 360.7 390.31 360.26 390.46 359.81 390.62 359.37 390.78 358.93 390.94 358.49 391.09 358.05 391.25 357.61 391.41 357.18 391.56 356.75 391.72 356.32 391.88 355.9 392.04 355.48 392.19 355.06 392.35 354.64 392.51 354.22 392.66 353.81 392.82 353.4 392.98 353 393.13 352.59 393.29 352.19 393.45 351.8 393.61 351.4 393.76 351.01 393.92 350.62 394.08 350.24 394.23 349.86 394.39 349.48 394.55 349.11 394.71 348.74 394.86 348.37 395.02 348.01 395.18 347.65 395.33 347.3 395.49 346.95 395.65 346.6 395.8 346.26 395.96 345.92 396.12 345.58 396.28 345.25 396.43 344.93 396.59 344.6 396.75 344.29 396.9 343.97 397.06 343.66 397.22 343.36 397.37 343.06 397.53 342.76 397.69 342.47 397.85 342.19 398 341.91 398.16 341.63 398.32 341.36 398.47 341.09 398.63 340.83 398.79 340.57 398.95 340.32 399.1 340.08 399.26 339.83 399.42 339.6 399.57 339.37 399.73 339.14 399.89 338.92 400.04 338.7 400.2 338.49 400.36 338.29 400.52 338.09 400.67 337.9 400.83 337.71 400.99 337.52 401.14 337.35 401.3 337.17 401.46 337.01 401.62 336.85 401.77 336.69 401.93 336.54 402.09 336.4 402.24 336.26 402.4 336.13 402.56 336.01 402.71 335.88 402.87 335.77 403.03 335.66 403.19 335.56 403.34 335.46 403.5 335.37 403.66 335.29 403.81 335.21 403.97 335.13 404.13 335.07 404.28 335.01 404.44 334.95 404.6 334.9 404.76 334.86 404.91 334.82 405.07 334.79 405.23 334.77 405.38 334.75 405.54 334.73 405.7 334.73 405.86 334.73 406.01 334.73 406.17 334.74 406.33 334.75 406.48 334.77 406.64 334.79 406.8 334.82 406.95 334.85 407.11 334.89 407.27 334.93 407.43 334.98 407.58 335.03 407.74 335.09 407.9 335.15 408.05 335.22 408.21 335.29 408.37 335.36 408.53 335.45 408.68 335.53 408.84 335.62 409 335.71 409.15 335.81 409.31 335.92 409.47 336.03 409.62 336.14 409.78 336.26 409.94 336.38 410.1 336.5 410.25 336.64 410.41 336.77 410.57 336.91 410.72 337.06 410.88 337.21 411.04 337.36 411.2 337.52 411.35 337.68 411.51 337.85 411.67 338.02 411.82 338.19 411.98 338.37 412.14 338.56 412.29 338.75 412.45 338.94 412.61 339.14 412.77 339.34 412.92 339.54 413.08 339.75 413.24 339.97 413.39 340.18 413.55 340.41 413.71 340.63 413.86 340.86 414.02 341.09 414.18 341.33 414.34 341.57 414.49 341.82 414.65 342.07 414.81 342.32 414.96 342.58 415.12 342.84 415.28 343.1 415.44 343.37 415.59 343.64 415.75 343.92 415.91 344.19 416.06 344.48 416.22 344.76 416.38 345.05 416.53 345.34 416.69 345.64 416.85 345.94 417.01 346.24 417.16 346.54 417.32 346.85 417.48 347.16 417.63 347.48 417.79 347.8 417.95 348.12 418.11 348.44 418.26 348.77 418.42 349.1 418.58 349.43 418.73 349.77 418.89 350.11 419.05 350.45 419.2 350.79 419.36 351.14 419.52 351.49 419.68 351.84 419.83 352.19 419.99 352.55 420.15 352.91 420.3 353.27 420.46 353.63 420.62 354 420.77 354.37 420.93 354.74 421.09 355.11 421.25 355.49 421.4 355.86 421.56 356.24 421.72 356.62 421.87 357.01 422.03 357.39 422.19 357.78 422.35 358.17 422.5 358.56 422.66 358.95 422.82 359.34 422.97 359.74 423.13 360.14 423.29 360.53 423.44 360.93 423.6 361.34 423.76 361.74 423.92 362.14 424.07 362.55 424.23 362.95 424.39 363.36 424.54 363.77 424.7 364.18 424.86 364.59 425.02 365.01 425.17 365.42 425.33 365.83 425.49 366.25 425.64 366.67 425.8 367.08 425.96 367.5 426.11 367.92 426.27 368.34 426.43 368.76 426.59 369.18 426.74 369.6 426.9 370.02 427.06 370.45 427.21 370.87 427.37 371.29 427.53 371.71 427.69 372.14 427.84 372.56 428 372.99 428.16 373.41 428.31 373.84 428.47 374.26 428.63 374.68 428.78 375.11 428.94 375.53 429.1 375.96 429.26 376.38 429.41 376.81 429.57 377.23 429.73 377.66 429.88 378.08 430.04 378.5 430.2 378.93 430.35 379.35 430.51 379.77 430.67 380.19 430.83 380.62 430.98 381.04 431.14 381.46 431.3 381.88 431.45 382.3 431.61 382.72 431.77 383.14 431.93 383.55 432.08 383.97 432.24 384.39 432.4 384.8 432.55 385.21 432.71 385.63 432.87 386.04 433.02 386.45 433.18 386.86 433.34 387.27 433.5 387.68 433.65 388.09 433.81 388.5 433.97 388.9 434.12 389.31 434.28 389.71 434.44 390.11 434.6 390.51 434.75 390.91 434.91 391.31 435.07 391.71 435.22 392.1 435.38 392.5 435.54 392.89 435.69 393.28 435.85 393.67 436.01 394.06 436.17 394.45 436.32 394.83 436.48 395.22 436.64 395.6 436.79 395.98 436.95 396.36 437.11 396.74 437.26 397.12 437.42 397.49 437.58 397.86 437.74 398.24 437.89 398.6 438.05 398.97 438.21 399.34 438.36 399.7 438.52 400.07 438.68 400.43 438.84 400.79 438.99 401.14 439.15 401.5 439.31 401.85 439.46 402.21 439.62 402.56 439.78 402.91 439.93 403.25 440.09 403.6 440.25 403.94 440.41 404.28 440.56 404.62 440.72 404.96 440.88 405.29 441.03 405.62 441.19 405.95 441.35 406.28 441.51 406.61 441.66 406.93 441.82 407.26 441.98 407.58 442.13 407.9 442.29 408.21 442.45 408.53 442.6 408.84 442.76 409.15 442.92 409.46 443.08 409.77 443.23 410.07 443.39 410.38 443.55 410.68 443.7 410.97 443.86 411.27 444.02 411.56 444.17 411.86 444.33 412.15 444.49 412.43 444.65 412.72 444.8 413 444.96 413.28 445.12 413.56 445.27 413.84 445.43 414.12 445.59 414.39 445.75 414.66 445.9 414.93 446.06 415.2 446.22 415.46 446.37 415.72 446.53 415.98 446.69 416.24 446.84 416.5 447 416.75 447.16 417.01 447.32 417.26 447.47 417.5 447.63 417.75 447.79 417.99 447.94 418.23 448.1 418.47 448.26 418.71 448.42 418.95 448.57 419.18 448.73 419.41 448.89 419.64 449.04 419.87 449.2 420.09 449.36 420.32 449.51 420.54 449.67 420.76 449.83 420.97 449.99 421.19 450.14 421.4 450.3 421.61 450.46 421.82 450.61 422.03 450.77 422.24 450.93 422.44 451.09 422.64 451.24 422.84 451.4 423.04 451.56 423.23 451.71 423.43 451.87 423.62 452.03 423.81 452.18 424 452.34 424.18 452.5 424.37 452.66 424.55 452.81 424.73 452.97 424.91 453.13 425.08 453.28 425.26 453.44 425.43 453.6 425.6 453.75 425.77 453.91 425.94 454.07 426.11 454.23 426.27 454.38 426.43 454.54 426.59 454.7 426.75 454.85 426.91 455.01 427.06 455.17 427.22 455.33 427.37 455.48 427.52 455.64 427.67 455.8 427.82 455.95 427.96 456.11 428.1 456.27 428.25 456.42 428.39 456.58 428.53 456.74 428.66 456.9 428.8 457.05 428.93 457.21 429.07 457.37 429.2 457.52 429.33 457.68 429.45 457.84 429.58 458 429.71 458.15 429.83 458.31 429.95 458.47 430.07 458.62 430.19 458.78 430.31 458.94 430.43 459.09 430.54 459.25 430.65 459.41 430.77 459.57 430.88 459.72 430.99 459.88 431.09 460.04 431.2 460.19 431.31 460.35 431.41 460.51 431.51 460.66 431.61 460.82 431.71 460.98 431.81 461.14 431.91 461.29 432.01 461.45 432.1 461.61 432.2 461.76 432.29 461.92 432.38 462.08 432.47 462.24 432.56 462.39 432.65 462.55 432.74 462.71 432.82 462.86 432.91 463.02 432.99 463.18 433.07 463.33 433.15 463.49 433.23 463.65 433.31 463.81 433.39 463.96 433.47 464.12 433.54 464.28 433.62 464.43 433.69 464.59 433.76 464.75 433.84 464.91 433.91 465.06 433.98 465.22 434.05 465.38 434.11 465.53 434.18 465.69 434.25 465.85 434.31 466 434.38 466.16 434.44 466.32 434.5 466.48 434.57 466.63 434.63 466.79 434.69 466.95 434.75 467.1 434.8 467.26 434.86 467.42 434.92 467.57 434.97 467.73 435.03 467.89 435.08 468.05 435.14 468.2 435.19 468.36 435.24 468.52 435.29 468.67 435.34 468.83 435.39 468.99 435.44 469.15 435.49 469.3 435.54 469.46 435.58 469.62 435.63 469.77 435.68 469.93 435.72 470.09 435.77 470.24 435.81 470.4 435.85 470.56 435.89 470.72 435.94 470.87 435.98 471.03 436.02 471.19 436.06 471.34 436.1 471.5 436.13 471.66 436.17 471.82 436.21 471.97 436.25 472.13 436.28 472.29 436.32 472.44 436.35 472.6 436.39 472.76 436.42 472.91 436.46 473.07 436.49 473.23 436.52 473.39 436.56 473.54 436.59 473.7 436.62 473.86 436.65 474.01 436.68 474.17 436.71 474.33 436.74 474.49 436.77 474.64 436.8 474.8 436.82 474.96 436.85 475.11 436.88 475.27 436.91 475.43 436.93 475.58 436.96 475.74 436.98 475.9 437.01 476.06 437.03 476.21 437.06 476.37 437.08 476.53 437.11 476.68 437.13 476.84 437.15 477 437.17 477.15 437.2 477.31 437.22 477.47 437.24 477.63 437.26 477.78 437.28 477.94 437.3 478.1 437.32 478.25 437.34 478.41 437.36 478.57 437.38 478.73 437.4 478.88 437.42 479.04 437.44 479.2 437.45 479.35 437.47 479.51 437.49 479.67 437.51 479.82 437.52 479.98 437.54 480.14 437.56 480.3 437.57 480.45 437.59 480.61 437.61 480.77 437.62 480.92 437.64 481.08 437.65 481.24 437.67 481.4 437.68 481.55 437.69 481.71 437.71 481.87 437.72 482.02 437.74 482.18 437.75 482.34 437.76 482.49 437.78 482.65 437.79 482.81 437.8 482.97 437.81 483.12 437.83 483.28 437.84 483.44 437.85 483.59 437.86 483.75 437.87 483.91 437.88 484.06 437.9 484.22 437.91 484.38 437.92 484.54 437.93 484.69 437.94 484.85 437.95 485.01 437.96 485.16 437.97 485.32 437.98 485.48 437.99 485.64 438 485.79 438.01 485.95 438.02 486.11 438.03 486.26 438.04 486.42 438.04 486.58 438.05 486.73 438.06 486.89 438.07 487.05 438.08 487.21 438.09 487.36 438.1 487.52 438.1 487.68 438.11 487.83 438.12 487.99 438.13 488.15 438.13 488.31 438.14 488.46 438.15 488.62 438.16 488.78 438.16 488.93 438.17 489.09 438.18 489.25 438.18 489.4 438.19 489.56 438.2 489.72 438.2 489.88 438.21 490.03 438.22 490.19 438.22 490.35 438.23 490.5 438.24 490.66 438.24 490.82 438.25 490.98 438.25 491.13 438.26 491.29 438.26 491.45 438.27 491.6 438.28 491.76 438.28 491.92 438.29 492.07 438.29 492.23 438.3 492.39 438.3 492.55 438.31 492.7 438.31 492.86 438.32 493.02 438.32 493.17 438.33 493.33 438.33 493.49 438.34 493.64 438.34 493.8 438.35 493.96 438.35 494.12 438.35 494.27 438.36 494.43 438.36 494.59 438.37 494.74 438.37 494.9 438.38 495.06 438.38 495.22 438.38 495.37 438.39 495.53 438.39 495.69 438.4 495.84 438.4 496 438.4 496.16 438.41 496.31 438.41 496.47 438.41 496.63 438.42 496.79 438.42 496.94 438.43 497.1 438.43" fill="none" stroke="#ff0000" stroke-width="1.05"/><rect x="57.3" y="7" width="212.9" height="148" fill="none" stroke="#6e6e6e" stroke-width="1.1"/><rect x="57.3" y="155" width="212.9" height="149" fill="none" stroke="#6e6e6e" stroke-width="1.1"/><rect x="57.3" y="304" width="212.9" height="147.6" fill="none" stroke="#6e6e6e" stroke-width="1.1"/><rect x="309.4" y="11.7" width="187.4" height="144.1" fill="none" stroke="#6e6e6e" stroke-width="1.1"/><rect x="309.4" y="155.8" width="187.4" height="144.3" fill="none" stroke="#6e6e6e" stroke-width="1.1"/><rect x="309.4" y="300.1" width="187.4" height="145" fill="none" stroke="#6e6e6e" stroke-width="1.1"/><path d="M57.3 148h3M270.2 148h-3M57.3 133.3h1.8M57.3 118.6h3M270.2 118.6h-3M57.3 103.9h1.8M57.3 89.2h3M270.2 89.2h-3M57.3 74.5h1.8M57.3 59.8h3M270.2 59.8h-3M57.3 45.1h1.8M57.3 30.4h3M270.2 30.4h-3M57.3 15.7h1.8M57.3 155v-3M57.3 7v3M83.91 155v-1.8M110.52 155v-3M110.52 7v3M137.14 155v-1.8M163.75 155v-3M163.75 7v3M190.36 155v-1.8M216.97 155v-3M216.97 7v3M243.59 155v-1.8M270.2 155v-3M270.2 7v3M57.3 297.3h3M270.2 297.3h-3M57.3 282.55h1.8M57.3 267.8h3M270.2 267.8h-3M57.3 253.05h1.8M57.3 238.3h3M270.2 238.3h-3M57.3 223.55h1.8M57.3 208.8h3M270.2 208.8h-3M57.3 194.05h1.8M57.3 179.3h3M270.2 179.3h-3M57.3 164.55h1.8M57.3 304v-3M57.3 155v3M83.91 304v-1.8M110.52 304v-3M110.52 155v3M137.14 304v-1.8M163.75 304v-3M163.75 155v3M190.36 304v-1.8M216.97 304v-3M216.97 155v3M243.59 304v-1.8M270.2 304v-3M270.2 155v3M57.3 445h3M270.2 445h-3M57.3 430.3h1.8M57.3 415.6h3M270.2 415.6h-3M57.3 400.9h1.8M57.3 386.2h3M270.2 386.2h-3M57.3 371.5h1.8M57.3 356.8h3M270.2 356.8h-3M57.3 342.1h1.8M57.3 327.4h3M270.2 327.4h-3M57.3 312.7h1.8M57.3 451.6v-3M57.3 304v3M83.91 451.6v-1.8M110.52 451.6v-3M110.52 304v3M137.14 451.6v-1.8M163.75 451.6v-3M163.75 304v3M190.36 451.6v-1.8M216.97 451.6v-3M216.97 304v3M243.59 451.6v-1.8M270.2 451.6v-3M270.2 304v3M309.4 149.8h3M496.8 149.8h-3M309.4 135.43h1.8M309.4 121.05h3M496.8 121.05h-3M309.4 106.68h1.8M309.4 92.3h3M496.8 92.3h-3M309.4 77.93h1.8M309.4 63.55h3M496.8 63.55h-3M309.4 49.18h1.8M309.4 34.8h3M496.8 34.8h-3M309.4 20.43h1.8M309.4 155.8v-3M309.4 11.7v3M328.14 155.8v-1.8M346.88 155.8v-3M346.88 11.7v3M365.62 155.8v-1.8M384.36 155.8v-3M384.36 11.7v3M403.1 155.8v-1.8M421.84 155.8v-3M421.84 11.7v3M440.58 155.8v-1.8M459.32 155.8v-3M459.32 11.7v3M478.06 155.8v-1.8M496.8 155.8v-3M496.8 11.7v3M309.4 293.8h3M496.8 293.8h-3M309.4 279.43h1.8M309.4 265.05h3M496.8 265.05h-3M309.4 250.68h1.8M309.4 236.3h3M496.8 236.3h-3M309.4 221.93h1.8M309.4 207.55h3M496.8 207.55h-3M309.4 193.18h1.8M309.4 178.8h3M496.8 178.8h-3M309.4 164.43h1.8M309.4 300.1v-3M309.4 155.8v3M328.14 300.1v-1.8M346.88 300.1v-3M346.88 155.8v3M365.62 300.1v-1.8M384.36 300.1v-3M384.36 155.8v3M403.1 300.1v-1.8M421.84 300.1v-3M421.84 155.8v3M440.58 300.1v-1.8M459.32 300.1v-3M459.32 155.8v3M478.06 300.1v-1.8M496.8 300.1v-3M496.8 155.8v3M309.4 438.8h3M496.8 438.8h-3M309.4 424.43h1.8M309.4 410.05h3M496.8 410.05h-3M309.4 395.68h1.8M309.4 381.3h3M496.8 381.3h-3M309.4 366.93h1.8M309.4 352.55h3M496.8 352.55h-3M309.4 338.18h1.8M309.4 323.8h3M496.8 323.8h-3M309.4 309.43h1.8M309.4 445.1v-3M309.4 300.1v3M328.14 445.1v-1.8M346.88 445.1v-3M346.88 300.1v3M365.62 445.1v-1.8M384.36 445.1v-3M384.36 300.1v3M403.1 445.1v-1.8M421.84 445.1v-3M421.84 300.1v3M440.58 445.1v-1.8M459.32 445.1v-3M459.32 300.1v3M478.06 445.1v-1.8M496.8 445.1v-3M496.8 300.1v3" stroke="#6e6e6e" stroke-width="1" fill="none"/><path d="M68.4 40.9H79.05M83.45 40.9H94.1" stroke="#0b8a0b" stroke-width="1.1" opacity="0.8"/><path d="M81.25 39.34l1.4 2.52h-2.8z" fill="none" stroke="#0b8a0b" stroke-width="0.6" opacity="0.8"/><path d="M68.5 190.3H78.95M83.35 190.3H93.8" stroke="#0000ff" stroke-width="1.1" opacity="0.8"/><path d="M79.75 188.9h2.8v2.8h-2.8z" fill="none" stroke="#0000ff" stroke-width="0.6" opacity="0.8"/><path d="M66.5 342.4H76.95M81.35 342.4H91.8" stroke="#ff0000" stroke-width="1.1" opacity="0.8"/><path d="M77.75 342.4a1.4 1.4 0 1 0 2.8 0a1.4 1.4 0 1 0 -2.8 0" fill="none" stroke="#ff0000" stroke-width="0.6" opacity="0.8"/><path d="M325 47.4H334.25M338.65 47.4H347.9" stroke="#0b8a0b" stroke-width="1.1" opacity="0.8"/><path d="M336.45 45.84l1.4 2.52h-2.8z" fill="none" stroke="#0b8a0b" stroke-width="0.6" opacity="0.8"/><path d="M325 190.9H334.15M338.55 190.9H347.7" stroke="#0000ff" stroke-width="1.1" opacity="0.8"/><path d="M334.95 189.5h2.8v2.8h-2.8z" fill="none" stroke="#0000ff" stroke-width="0.6" opacity="0.8"/><path d="M324.6 335.9H334.05M338.45 335.9H347.9" stroke="#ff0000" stroke-width="1.1" opacity="0.8"/><path d="M334.85 335.9a1.4 1.4 0 1 0 2.8 0a1.4 1.4 0 1 0 -2.8 0" fill="none" stroke="#ff0000" stroke-width="0.6" opacity="0.8"/><path d="M117.5 93.2H131.3" stroke="#444" stroke-width="1"/><path d="M139.3 93.2L131.3 90.8L131.3 95.6z" fill="#000"/><path d="M214.5 93.2H198" stroke="#444" stroke-width="1"/><path d="M190 93.2L198 90.8L198 95.6z" fill="#000"/><path d="M120 242.2H133.6" stroke="#444" stroke-width="1"/><path d="M141.6 242.2L133.6 239.8L133.6 244.6z" fill="#000"/><path d="M212.5 242.2H198" stroke="#444" stroke-width="1"/><path d="M190 242.2L198 239.8L198 244.6z" fill="#000"/><path d="M123.3 389.6H137.1" stroke="#444" stroke-width="1"/><path d="M145.1 389.6L137.1 387.2L137.1 392z" fill="#000"/><path d="M208.2 389.6H191.6" stroke="#444" stroke-width="1"/><path d="M183.6 389.6L191.6 387.2L191.6 392z" fill="#000"/><path d="M369.5 92.9H380.4" stroke="#444" stroke-width="1"/><path d="M388.4 92.9L380.4 90.5L380.4 95.3z" fill="#000"/><path d="M441.8 92.9H429" stroke="#444" stroke-width="1"/><path d="M421 92.9L429 90.5L429 95.3z" fill="#000"/><path d="M360 237.3H372" stroke="#444" stroke-width="1"/><path d="M380 237.3L372 234.9L372 239.7z" fill="#000"/><path d="M442.2 237.3H429.5" stroke="#444" stroke-width="1"/><path d="M421.5 237.3L429.5 234.9L429.5 239.7z" fill="#000"/><path d="M361.9 381.5H374.5" stroke="#444" stroke-width="1"/><path d="M382.5 381.5L374.5 379.1L374.5 383.9z" fill="#000"/><path d="M453.3 381.5H439.7" stroke="#444" stroke-width="1"/><path d="M431.7 381.5L439.7 379.1L439.7 383.9z" fill="#000"/><g font-family="&apos;Liberation Sans&apos;, Arial, sans-serif" fill="#222" stroke="#222" stroke-width="0.28"><text x="53.6" y="152.4" font-size="12.4" text-anchor="end" >0.00</text><text x="53.6" y="123" font-size="12.4" text-anchor="end" >0.25</text><text x="53.6" y="93.6" font-size="12.4" text-anchor="end" >0.50</text><text x="53.6" y="64.2" font-size="12.4" text-anchor="end" >0.75</text><text x="53.6" y="34.8" font-size="12.4" text-anchor="end" >1.00</text><text x="53.6" y="301.7" font-size="12.4" text-anchor="end" >0.00</text><text x="53.6" y="272.2" font-size="12.4" text-anchor="end" >0.25</text><text x="53.6" y="242.7" font-size="12.4" text-anchor="end" >0.50</text><text x="53.6" y="213.2" font-size="12.4" text-anchor="end" >0.75</text><text x="53.6" y="183.7" font-size="12.4" text-anchor="end" >1.00</text><text x="53.6" y="449.4" font-size="12.4" text-anchor="end" >0.00</text><text x="53.6" y="420" font-size="12.4" text-anchor="end" >0.25</text><text x="53.6" y="390.6" font-size="12.4" text-anchor="end" >0.50</text><text x="53.6" y="361.2" font-size="12.4" text-anchor="end" >0.75</text><text x="53.6" y="331.8" font-size="12.4" text-anchor="end" >1.00</text><text x="499.4" y="153.4" font-size="12.0" text-anchor="start" >0.00</text><text x="499.4" y="124.65" font-size="12.0" text-anchor="start" >0.25</text><text x="499.4" y="95.9" font-size="12.0" text-anchor="start" >0.50</text><text x="499.4" y="67.15" font-size="12.0" text-anchor="start" >0.75</text><text x="499.4" y="38.4" font-size="12.0" text-anchor="start" >1.00</text><text x="499.4" y="297.4" font-size="12.0" text-anchor="start" >0.00</text><text x="499.4" y="268.65" font-size="12.0" text-anchor="start" >0.25</text><text x="499.4" y="239.9" font-size="12.0" text-anchor="start" >0.50</text><text x="499.4" y="211.15" font-size="12.0" text-anchor="start" >0.75</text><text x="499.4" y="182.4" font-size="12.0" text-anchor="start" >1.00</text><text x="499.4" y="442.4" font-size="12.0" text-anchor="start" >0.00</text><text x="499.4" y="413.65" font-size="12.0" text-anchor="start" >0.25</text><text x="499.4" y="384.9" font-size="12.0" text-anchor="start" >0.50</text><text x="499.4" y="356.15" font-size="12.0" text-anchor="start" >0.75</text><text x="499.4" y="327.4" font-size="12.0" text-anchor="start" >1.00</text><text x="57" y="465.2" font-size="12.4" text-anchor="middle" >-500</text><text x="110.22" y="465.2" font-size="12.4" text-anchor="middle" >-250</text><text x="163.75" y="465.2" font-size="12.4" text-anchor="middle" >0</text><text x="216.97" y="465.2" font-size="12.4" text-anchor="middle" >250</text><text x="270.2" y="465.2" font-size="12.4" text-anchor="middle" >500</text><text x="309.4" y="457.6" font-size="11.6" text-anchor="middle" >1500</text><text x="346.88" y="457.6" font-size="11.6" text-anchor="middle" >1525</text><text x="384.36" y="457.6" font-size="11.6" text-anchor="middle" >1550</text><text x="421.84" y="457.6" font-size="11.6" text-anchor="middle" >1575</text><text x="459.32" y="457.6" font-size="11.6" text-anchor="middle" >1600</text><text x="496.8" y="457.6" font-size="11.6" text-anchor="middle" >1625</text><text x="164.1" y="475.5" font-size="12.4" text-anchor="middle" >Time (fs)</text><text x="403.1" y="471" font-size="11.4" text-anchor="middle" >Wavelength (nm)</text><text transform="translate(16.6 230.9) rotate(-90)" font-size="12.8" text-anchor="middle">Norm. SHG Amplitude</text><text transform="translate(532.3 232) rotate(90)" font-size="12.6" text-anchor="middle">Norm. Amplitude</text><text x="97.3" y="45.2" font-size="12.2" text-anchor="start" >S0'</text><text x="96.2" y="194.6" font-size="12.2" text-anchor="start" >S1</text><text x="95.1" y="346.7" font-size="12.2" text-anchor="start" >S2</text><text x="350" y="51.7" font-size="12.2" text-anchor="start" >S0'</text><text x="350.5" y="195.2" font-size="12.2" text-anchor="start" >S1</text><text x="350.5" y="340.2" font-size="12.2" text-anchor="start" >S2</text><text x="113.3" y="22.4" font-size="11.6"><tspan font-size="10">&#964;</tspan><tspan font-size="7.9" dy="2.4" fill="#444" stroke="#444">pulse</tspan><tspan dy="-2.4">=235fs&#183;0.648=166.2 fs</tspan></text><text x="200.2" y="69.3" font-size="11.4"><tspan font-size="10">&#964;</tspan><tspan font-size="7.9" dy="2.8" fill="#444" stroke="#444">AC</tspan><tspan dy="-2.8">=235 fs</tspan></text><text x="116.4" y="170.1" font-size="11.6"><tspan font-size="10">&#964;</tspan><tspan font-size="7.9" dy="2.4" fill="#444" stroke="#444">pulse</tspan><tspan dy="-2.4">=221fs&#183;0.648=156.3 fs</tspan></text><text x="200.5" y="220.9" font-size="11.4"><tspan font-size="10">&#964;</tspan><tspan font-size="7.9" dy="2.8" fill="#444" stroke="#444">AC</tspan><tspan dy="-2.8">=221 fs</tspan></text><text x="113.5" y="321" font-size="11.6"><tspan font-size="10">&#964;</tspan><tspan font-size="7.9" dy="2.4" fill="#444" stroke="#444">pulse</tspan><tspan dy="-2.4">=190fs&#183;0.648=134.4 fs</tspan></text><text x="196.4" y="370" font-size="11.4"><tspan font-size="10">&#964;</tspan><tspan font-size="7.9" dy="2.8" fill="#444" stroke="#444">AC</tspan><tspan dy="-2.8">=190 fs</tspan></text><text x="426.6" y="83.2" font-size="10"><tspan fill="#555">&#916;&#955;</tspan>= 22.6 nm</text><text x="426.4" y="228.5" font-size="10"><tspan fill="#555">&#916;&#955;</tspan>= 26.4 nm</text><text x="436.6" y="371.8" font-size="10"><tspan fill="#555">&#916;&#955;</tspan>= 40 nm</text></g><text x="143" y="519.8" font-family="&apos;Liberation Serif&apos;, serif" font-size="15.2" text-anchor="middle" fill="#222">(<tspan font-weight="bold">a</tspan>)</text><text x="419.5" y="519.8" font-family="&apos;Liberation Serif&apos;, serif" font-size="15.2" text-anchor="middle" fill="#222">(<tspan font-weight="bold">b</tspan>)</text></svg>
</body></html>
